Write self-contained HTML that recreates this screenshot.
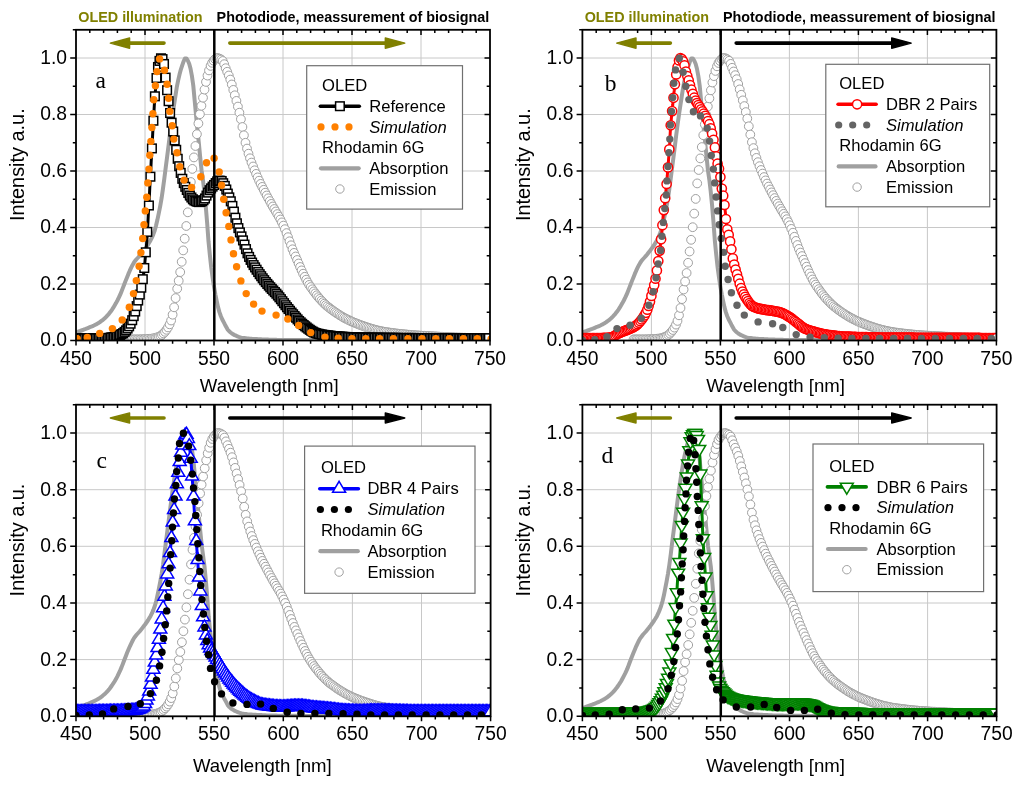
<!DOCTYPE html>
<html><head><meta charset="utf-8"><title>OLED DBR spectra</title>
<style>html,body{margin:0;padding:0;background:#fff;} svg{display:block;}</style></head>
<body>
<svg width="1024" height="785" viewBox="0 0 1024 785">
<rect width="1024" height="785" fill="#fff"/>
<clipPath id="clipa"><rect x="76.0" y="29.8" width="414.0" height="310.7"/></clipPath>
<line x1="145.0" y1="29.8" x2="145.0" y2="340.5" stroke="#c8c8c8" stroke-width="1"/>
<line x1="214.0" y1="29.8" x2="214.0" y2="340.5" stroke="#c8c8c8" stroke-width="1"/>
<line x1="283.0" y1="29.8" x2="283.0" y2="340.5" stroke="#c8c8c8" stroke-width="1"/>
<line x1="352.0" y1="29.8" x2="352.0" y2="340.5" stroke="#c8c8c8" stroke-width="1"/>
<line x1="421.0" y1="29.8" x2="421.0" y2="340.5" stroke="#c8c8c8" stroke-width="1"/>
<line x1="76.0" y1="284.0" x2="490.0" y2="284.0" stroke="#c8c8c8" stroke-width="1"/>
<line x1="76.0" y1="227.5" x2="490.0" y2="227.5" stroke="#c8c8c8" stroke-width="1"/>
<line x1="76.0" y1="171.0" x2="490.0" y2="171.0" stroke="#c8c8c8" stroke-width="1"/>
<line x1="76.0" y1="114.5" x2="490.0" y2="114.5" stroke="#c8c8c8" stroke-width="1"/>
<line x1="76.0" y1="58.0" x2="490.0" y2="58.0" stroke="#c8c8c8" stroke-width="1"/>
<g clip-path="url(#clipa)">
<path d="M76.0,332.3 L77.4,331.9 L78.8,331.4 L80.1,331.0 L81.5,330.5 L82.9,330.0 L84.3,329.4 L85.7,328.9 L87.0,328.4 L88.4,327.8 L89.8,327.2 L91.2,326.7 L92.6,326.1 L93.9,325.5 L95.3,324.8 L96.7,324.1 L98.1,323.3 L99.5,322.4 L100.8,321.4 L102.2,320.4 L103.6,319.2 L105.0,318.0 L106.4,316.6 L107.7,315.2 L109.1,313.6 L110.5,311.8 L111.9,309.8 L113.3,307.7 L114.6,305.5 L116.0,303.1 L117.4,300.5 L118.8,297.7 L120.2,294.7 L121.5,291.5 L122.9,287.9 L124.3,284.2 L125.7,280.6 L127.1,277.2 L128.4,273.9 L129.8,270.7 L131.2,267.7 L132.6,264.9 L134.0,262.5 L135.3,260.6 L136.7,259.0 L138.1,257.5 L139.5,255.9 L140.9,254.2 L142.2,252.5 L143.6,250.8 L145.0,248.9 L146.4,247.0 L147.8,245.0 L149.1,242.8 L150.5,240.4 L151.9,237.7 L153.3,234.4 L154.7,230.5 L156.0,225.7 L157.4,219.8 L158.8,213.2 L160.2,206.1 L161.6,198.2 L162.9,189.1 L164.3,178.8 L165.7,167.8 L167.1,156.9 L168.5,146.1 L169.8,135.2 L171.2,124.5 L172.6,114.5 L174.0,105.1 L175.4,96.1 L176.7,87.7 L178.1,80.6 L179.5,74.6 L180.9,69.3 L182.3,65.1 L183.6,61.3 L185.0,58.5 L186.4,58.4 L187.8,60.5 L189.2,63.7 L190.5,68.5 L191.9,75.9 L193.3,85.7 L194.7,100.9 L196.1,115.9 L197.4,129.4 L198.8,142.8 L200.2,157.2 L201.6,170.7 L203.0,180.3 L204.3,191.2 L205.7,205.5 L207.1,222.3 L208.5,241.3 L209.9,255.4 L211.2,267.2 L212.6,277.5 L214.0,286.6 L215.4,294.6 L216.8,301.4 L218.1,307.4 L219.5,312.4 L220.9,316.3 L222.3,319.5 L223.7,322.2 L225.0,324.7 L226.4,327.2 L227.8,329.7 L229.2,331.3 L230.6,332.5 L231.9,333.5 L233.3,334.4 L234.7,335.1 L236.1,335.7 L237.5,336.4 L238.8,336.9 L240.2,337.4 L241.6,337.7 L243.0,337.9 L244.4,338.1 L245.7,338.3 L247.1,338.5 L248.5,338.6 L249.9,338.7 L251.3,338.8 L252.6,338.9 L254.0,339.0 L255.4,339.0 L256.8,339.1 L258.2,339.2 L259.5,339.3 L260.9,339.3 L262.3,339.4 L263.7,339.4 L265.1,339.5 L266.4,339.6 L267.8,339.6 L269.2,339.7 L270.6,339.7 L272.0,339.7 L273.3,339.8 L274.7,339.8 L276.1,339.8 L277.5,339.9 L278.9,339.9 L280.2,339.9 L281.6,339.9 L283.0,339.9 L284.4,339.9 L285.8,340.0 L287.1,340.0 L288.5,340.0 L289.9,340.0 L291.3,340.0 L292.7,340.0 L294.0,340.0 L295.4,340.0 L296.8,340.0 L298.2,340.0 L299.6,340.0 L300.9,340.0 L302.3,340.1 L303.7,340.1 L305.1,340.1 L306.5,340.1 L307.8,340.1 L309.2,340.1 L310.6,340.1 L312.0,340.1 L313.4,340.1 L314.7,340.1 L316.1,340.1 L317.5,340.1 L318.9,340.1 L320.3,340.1 L321.6,340.2 L323.0,340.2 L324.4,340.2 L325.8,340.2 L327.2,340.2 L328.5,340.2 L329.9,340.2 L331.3,340.2 L332.7,340.2 L334.1,340.2 L335.4,340.2 L336.8,340.2 L338.2,340.2 L339.6,340.2 L341.0,340.2 L342.3,340.2 L343.7,340.2 L345.1,340.3 L346.5,340.3 L347.9,340.3 L349.2,340.3 L350.6,340.3 L352.0,340.3 L353.4,340.3 L354.8,340.3 L356.1,340.3 L357.5,340.3 L358.9,340.3 L360.3,340.3 L361.7,340.3 L363.0,340.3 L364.4,340.3 L365.8,340.3 L367.2,340.3 L368.6,340.3 L369.9,340.3 L371.3,340.3 L372.7,340.3 L374.1,340.4 L375.5,340.4 L376.8,340.4 L378.2,340.4 L379.6,340.4 L381.0,340.4 L382.4,340.4 L383.7,340.4 L385.1,340.4 L386.5,340.4 L387.9,340.4 L389.3,340.4 L390.6,340.4 L392.0,340.4 L393.4,340.4 L394.8,340.4 L396.2,340.4 L397.5,340.4 L398.9,340.4 L400.3,340.4 L401.7,340.4 L403.1,340.4 L404.4,340.4 L405.8,340.4 L407.2,340.4 L408.6,340.4 L410.0,340.4 L411.3,340.4 L412.7,340.4 L414.1,340.4 L415.5,340.4 L416.9,340.4 L418.2,340.4 L419.6,340.4 L421.0,340.5 L422.4,340.5 L423.8,340.5 L425.1,340.5 L426.5,340.5 L427.9,340.5 L429.3,340.5 L430.7,340.5 L432.0,340.5 L433.4,340.5 L434.8,340.5 L436.2,340.5 L437.6,340.5 L438.9,340.5 L440.3,340.5 L441.7,340.5 L443.1,340.5 L444.5,340.5 L445.8,340.5 L447.2,340.5 L448.6,340.5 L450.0,340.5 L451.4,340.5 L452.7,340.5 L454.1,340.5 L455.5,340.5 L456.9,340.5 L458.3,340.5 L459.6,340.5 L461.0,340.5 L462.4,340.5 L463.8,340.5 L465.2,340.5 L466.5,340.5 L467.9,340.5 L469.3,340.5 L470.7,340.5 L472.1,340.5 L473.4,340.5 L474.8,340.5 L476.2,340.5 L477.6,340.5 L479.0,340.5 L480.3,340.5 L481.7,340.5 L483.1,340.5 L484.5,340.5 L485.9,340.5 L487.2,340.5 L488.6,340.5 L490.0,340.5" fill="none" stroke="#a0a0a0" stroke-width="4" stroke-linejoin="round"/>
<g fill="#fff" stroke="#a0a0a0" stroke-width="1"><circle cx="127.1" cy="339.4" r="4.4"/><circle cx="128.6" cy="339.4" r="4.4"/><circle cx="130.1" cy="339.4" r="4.4"/><circle cx="131.6" cy="339.4" r="4.4"/><circle cx="133.1" cy="339.4" r="4.4"/><circle cx="134.7" cy="339.4" r="4.4"/><circle cx="136.2" cy="339.4" r="4.4"/><circle cx="137.7" cy="339.4" r="4.4"/><circle cx="139.2" cy="339.4" r="4.4"/><circle cx="140.7" cy="339.3" r="4.4"/><circle cx="142.2" cy="339.3" r="4.4"/><circle cx="143.8" cy="339.2" r="4.4"/><circle cx="145.3" cy="339.1" r="4.4"/><circle cx="146.8" cy="339.0" r="4.4"/><circle cx="148.3" cy="338.9" r="4.4"/><circle cx="149.8" cy="338.8" r="4.4"/><circle cx="151.3" cy="338.7" r="4.4"/><circle cx="152.9" cy="338.5" r="4.4"/><circle cx="154.4" cy="338.2" r="4.4"/><circle cx="155.9" cy="337.8" r="4.4"/><circle cx="157.4" cy="337.3" r="4.4"/><circle cx="158.9" cy="336.7" r="4.4"/><circle cx="160.5" cy="335.9" r="4.4"/><circle cx="162.0" cy="334.8" r="4.4"/><circle cx="163.5" cy="333.4" r="4.4"/><circle cx="165.0" cy="331.8" r="4.4"/><circle cx="166.5" cy="329.8" r="4.4"/><circle cx="168.0" cy="327.4" r="4.4"/><circle cx="169.6" cy="324.3" r="4.4"/><circle cx="171.1" cy="320.5" r="4.4"/><circle cx="172.6" cy="314.7" r="4.4"/><circle cx="174.1" cy="307.3" r="4.4"/><circle cx="175.6" cy="298.1" r="4.4"/><circle cx="177.2" cy="288.7" r="4.4"/><circle cx="178.7" cy="280.8" r="4.4"/><circle cx="180.2" cy="272.1" r="4.4"/><circle cx="181.7" cy="261.8" r="4.4"/><circle cx="183.2" cy="250.4" r="4.4"/><circle cx="184.7" cy="238.7" r="4.4"/><circle cx="186.3" cy="226.0" r="4.4"/><circle cx="187.8" cy="212.3" r="4.4"/><circle cx="189.3" cy="197.6" r="4.4"/><circle cx="190.8" cy="182.0" r="4.4"/><circle cx="192.3" cy="168.9" r="4.4"/><circle cx="193.9" cy="157.4" r="4.4"/><circle cx="195.4" cy="146.0" r="4.4"/><circle cx="196.9" cy="134.2" r="4.4"/><circle cx="198.4" cy="123.5" r="4.4"/><circle cx="199.9" cy="114.2" r="4.4"/><circle cx="201.4" cy="105.8" r="4.4"/><circle cx="203.0" cy="97.7" r="4.4"/><circle cx="204.5" cy="89.6" r="4.4"/><circle cx="206.0" cy="81.9" r="4.4"/><circle cx="207.5" cy="75.6" r="4.4"/><circle cx="209.0" cy="70.4" r="4.4"/><circle cx="210.6" cy="65.9" r="4.4"/><circle cx="212.1" cy="62.8" r="4.4"/><circle cx="213.6" cy="60.7" r="4.4"/><circle cx="215.1" cy="59.0" r="4.4"/><circle cx="216.6" cy="58.1" r="4.4"/><circle cx="218.1" cy="58.2" r="4.4"/><circle cx="219.7" cy="58.7" r="4.4"/><circle cx="221.2" cy="59.6" r="4.4"/><circle cx="222.7" cy="61.0" r="4.4"/><circle cx="224.2" cy="64.2" r="4.4"/><circle cx="225.7" cy="68.2" r="4.4"/><circle cx="227.2" cy="71.8" r="4.4"/><circle cx="228.8" cy="75.5" r="4.4"/><circle cx="230.3" cy="79.6" r="4.4"/><circle cx="231.8" cy="84.5" r="4.4"/><circle cx="233.3" cy="89.9" r="4.4"/><circle cx="234.8" cy="95.3" r="4.4"/><circle cx="236.4" cy="100.9" r="4.4"/><circle cx="237.9" cy="106.6" r="4.4"/><circle cx="239.4" cy="112.7" r="4.4"/><circle cx="240.9" cy="119.2" r="4.4"/><circle cx="242.4" cy="127.0" r="4.4"/><circle cx="243.9" cy="135.3" r="4.4"/><circle cx="245.5" cy="142.8" r="4.4"/><circle cx="247.0" cy="148.6" r="4.4"/><circle cx="248.5" cy="153.7" r="4.4"/><circle cx="250.0" cy="158.3" r="4.4"/><circle cx="251.5" cy="162.6" r="4.4"/><circle cx="253.1" cy="166.5" r="4.4"/><circle cx="254.6" cy="170.3" r="4.4"/><circle cx="256.1" cy="173.9" r="4.4"/><circle cx="257.6" cy="177.4" r="4.4"/><circle cx="259.1" cy="180.7" r="4.4"/><circle cx="260.6" cy="183.9" r="4.4"/><circle cx="262.2" cy="186.9" r="4.4"/><circle cx="263.7" cy="189.8" r="4.4"/><circle cx="265.2" cy="192.7" r="4.4"/><circle cx="266.7" cy="195.5" r="4.4"/><circle cx="268.2" cy="198.3" r="4.4"/><circle cx="269.8" cy="201.1" r="4.4"/><circle cx="271.3" cy="203.9" r="4.4"/><circle cx="272.8" cy="206.5" r="4.4"/><circle cx="274.3" cy="209.0" r="4.4"/><circle cx="275.8" cy="211.5" r="4.4"/><circle cx="277.3" cy="214.1" r="4.4"/><circle cx="278.9" cy="216.7" r="4.4"/><circle cx="280.4" cy="219.5" r="4.4"/><circle cx="281.9" cy="222.4" r="4.4"/><circle cx="283.4" cy="225.6" r="4.4"/><circle cx="284.9" cy="229.2" r="4.4"/><circle cx="286.5" cy="233.1" r="4.4"/><circle cx="288.0" cy="237.2" r="4.4"/><circle cx="289.5" cy="241.3" r="4.4"/><circle cx="291.0" cy="245.3" r="4.4"/><circle cx="292.5" cy="249.3" r="4.4"/><circle cx="294.0" cy="252.9" r="4.4"/><circle cx="295.6" cy="256.5" r="4.4"/><circle cx="297.1" cy="260.0" r="4.4"/><circle cx="298.6" cy="263.5" r="4.4"/><circle cx="300.1" cy="267.0" r="4.4"/><circle cx="301.6" cy="270.4" r="4.4"/><circle cx="303.1" cy="273.7" r="4.4"/><circle cx="304.7" cy="276.8" r="4.4"/><circle cx="306.2" cy="279.7" r="4.4"/><circle cx="307.7" cy="282.4" r="4.4"/><circle cx="309.2" cy="284.9" r="4.4"/><circle cx="310.7" cy="287.1" r="4.4"/><circle cx="312.3" cy="289.3" r="4.4"/><circle cx="313.8" cy="291.4" r="4.4"/><circle cx="315.3" cy="293.4" r="4.4"/><circle cx="316.8" cy="295.3" r="4.4"/><circle cx="318.3" cy="297.2" r="4.4"/><circle cx="319.8" cy="298.9" r="4.4"/><circle cx="321.4" cy="300.6" r="4.4"/><circle cx="322.9" cy="302.2" r="4.4"/><circle cx="324.4" cy="303.7" r="4.4"/><circle cx="325.9" cy="305.1" r="4.4"/><circle cx="327.4" cy="306.4" r="4.4"/><circle cx="329.0" cy="307.6" r="4.4"/><circle cx="330.5" cy="308.8" r="4.4"/><circle cx="332.0" cy="309.9" r="4.4"/><circle cx="333.5" cy="311.0" r="4.4"/><circle cx="335.0" cy="312.1" r="4.4"/><circle cx="336.5" cy="313.1" r="4.4"/><circle cx="338.1" cy="314.1" r="4.4"/><circle cx="339.6" cy="315.1" r="4.4"/><circle cx="341.1" cy="316.0" r="4.4"/><circle cx="342.6" cy="316.9" r="4.4"/><circle cx="344.1" cy="317.8" r="4.4"/><circle cx="345.7" cy="318.6" r="4.4"/><circle cx="347.2" cy="319.4" r="4.4"/><circle cx="348.7" cy="320.1" r="4.4"/><circle cx="350.2" cy="320.8" r="4.4"/><circle cx="351.7" cy="321.5" r="4.4"/><circle cx="353.2" cy="322.2" r="4.4"/><circle cx="354.8" cy="322.8" r="4.4"/><circle cx="356.3" cy="323.4" r="4.4"/><circle cx="357.8" cy="324.0" r="4.4"/><circle cx="359.3" cy="324.6" r="4.4"/><circle cx="360.8" cy="325.2" r="4.4"/><circle cx="362.4" cy="325.7" r="4.4"/><circle cx="363.9" cy="326.3" r="4.4"/><circle cx="365.4" cy="326.8" r="4.4"/><circle cx="366.9" cy="327.3" r="4.4"/><circle cx="368.4" cy="327.8" r="4.4"/><circle cx="369.9" cy="328.3" r="4.4"/><circle cx="371.5" cy="328.7" r="4.4"/><circle cx="373.0" cy="329.2" r="4.4"/><circle cx="374.5" cy="329.6" r="4.4"/><circle cx="376.0" cy="330.0" r="4.4"/><circle cx="377.5" cy="330.4" r="4.4"/><circle cx="379.0" cy="330.7" r="4.4"/><circle cx="380.6" cy="331.1" r="4.4"/><circle cx="382.1" cy="331.4" r="4.4"/><circle cx="383.6" cy="331.7" r="4.4"/><circle cx="385.1" cy="331.9" r="4.4"/><circle cx="386.6" cy="332.2" r="4.4"/><circle cx="388.2" cy="332.4" r="4.4"/><circle cx="389.7" cy="332.6" r="4.4"/><circle cx="391.2" cy="332.8" r="4.4"/><circle cx="392.7" cy="333.0" r="4.4"/><circle cx="394.2" cy="333.2" r="4.4"/><circle cx="395.7" cy="333.4" r="4.4"/><circle cx="397.3" cy="333.6" r="4.4"/><circle cx="398.8" cy="333.8" r="4.4"/><circle cx="400.3" cy="333.9" r="4.4"/><circle cx="401.8" cy="334.1" r="4.4"/><circle cx="403.3" cy="334.2" r="4.4"/><circle cx="404.9" cy="334.4" r="4.4"/><circle cx="406.4" cy="334.5" r="4.4"/><circle cx="407.9" cy="334.7" r="4.4"/><circle cx="409.4" cy="334.8" r="4.4"/><circle cx="410.9" cy="334.9" r="4.4"/><circle cx="412.4" cy="335.1" r="4.4"/><circle cx="414.0" cy="335.2" r="4.4"/><circle cx="415.5" cy="335.3" r="4.4"/><circle cx="417.0" cy="335.4" r="4.4"/><circle cx="418.5" cy="335.5" r="4.4"/><circle cx="420.0" cy="335.6" r="4.4"/><circle cx="421.6" cy="335.7" r="4.4"/><circle cx="423.1" cy="335.8" r="4.4"/><circle cx="424.6" cy="335.8" r="4.4"/><circle cx="426.1" cy="335.9" r="4.4"/><circle cx="427.6" cy="336.0" r="4.4"/><circle cx="429.1" cy="336.1" r="4.4"/><circle cx="430.7" cy="336.2" r="4.4"/><circle cx="432.2" cy="336.3" r="4.4"/><circle cx="433.7" cy="336.4" r="4.4"/><circle cx="435.2" cy="336.4" r="4.4"/><circle cx="436.7" cy="336.5" r="4.4"/><circle cx="438.3" cy="336.6" r="4.4"/><circle cx="439.8" cy="336.7" r="4.4"/><circle cx="441.3" cy="336.8" r="4.4"/><circle cx="442.8" cy="336.8" r="4.4"/><circle cx="444.3" cy="336.9" r="4.4"/><circle cx="445.8" cy="337.0" r="4.4"/><circle cx="447.4" cy="337.1" r="4.4"/><circle cx="448.9" cy="337.1" r="4.4"/><circle cx="450.4" cy="337.2" r="4.4"/><circle cx="451.9" cy="337.3" r="4.4"/><circle cx="453.4" cy="337.3" r="4.4"/><circle cx="454.9" cy="337.4" r="4.4"/><circle cx="456.5" cy="337.5" r="4.4"/><circle cx="458.0" cy="337.5" r="4.4"/><circle cx="459.5" cy="337.6" r="4.4"/><circle cx="461.0" cy="337.6" r="4.4"/><circle cx="462.5" cy="337.7" r="4.4"/><circle cx="464.1" cy="337.7" r="4.4"/><circle cx="465.6" cy="337.8" r="4.4"/><circle cx="467.1" cy="337.8" r="4.4"/><circle cx="468.6" cy="337.9" r="4.4"/><circle cx="470.1" cy="337.9" r="4.4"/><circle cx="471.6" cy="338.0" r="4.4"/><circle cx="473.2" cy="338.0" r="4.4"/><circle cx="474.7" cy="338.0" r="4.4"/><circle cx="476.2" cy="338.1" r="4.4"/><circle cx="477.7" cy="338.1" r="4.4"/><circle cx="479.2" cy="338.1" r="4.4"/><circle cx="480.8" cy="338.2" r="4.4"/><circle cx="482.3" cy="338.2" r="4.4"/><circle cx="483.8" cy="338.2" r="4.4"/><circle cx="485.3" cy="338.2" r="4.4"/><circle cx="486.8" cy="338.2" r="4.4"/><circle cx="488.3" cy="338.2" r="4.4"/><circle cx="489.9" cy="338.2" r="4.4"/></g>
<path d="M76.0,338.2 L76.3,338.2 L76.7,338.2 L77.0,338.2 L77.4,338.2 L77.7,338.2 L78.1,338.2 L78.4,338.2 L78.8,338.2 L79.1,338.2 L79.5,338.2 L79.8,338.2 L80.1,338.2 L80.5,338.2 L80.8,338.2 L81.2,338.2 L81.5,338.2 L81.9,338.2 L82.2,338.2 L82.6,338.2 L82.9,338.2 L83.2,338.2 L83.6,338.2 L83.9,338.2 L84.3,338.2 L84.6,338.2 L85.0,338.2 L85.3,338.2 L85.7,338.2 L86.0,338.2 L86.3,338.2 L86.7,338.2 L87.0,338.2 L87.4,338.2 L87.7,338.2 L88.1,338.2 L88.4,338.2 L88.8,338.2 L89.1,338.2 L89.5,338.2 L89.8,338.2 L90.1,338.2 L90.5,338.2 L90.8,338.2 L91.2,338.2 L91.5,338.2 L91.9,338.2 L92.2,338.2 L92.6,338.2 L92.9,338.2 L93.2,338.2 L93.6,338.2 L93.9,338.2 L94.3,338.2 L94.6,338.2 L95.0,338.2 L95.3,338.2 L95.7,338.2 L96.0,338.2 L96.4,338.2 L96.7,338.2 L97.0,338.2 L97.4,338.2 L97.7,338.2 L98.1,338.2 L98.4,338.2 L98.8,338.2 L99.1,338.2 L99.5,338.2 L99.8,338.2 L100.2,338.2 L100.5,338.2 L100.8,338.2 L101.2,338.2 L101.5,338.2 L101.9,338.2 L102.2,338.2 L102.6,338.2 L102.9,338.2 L103.3,338.2 L103.6,338.2 L103.9,338.2 L104.3,338.2 L104.6,338.2 L105.0,338.2 L105.3,338.2 L105.7,338.2 L106.0,338.2 L106.4,338.1 L106.7,338.1 L107.0,338.1 L107.4,338.0 L107.7,338.0 L108.1,337.9 L108.4,337.9 L108.8,337.9 L109.1,337.8 L109.5,337.8 L109.8,337.7 L110.2,337.7 L110.5,337.6 L110.8,337.5 L111.2,337.5 L111.5,337.4 L111.9,337.4 L112.2,337.3 L112.6,337.2 L112.9,337.2 L113.3,337.1 L113.6,337.0 L113.9,337.0 L114.3,336.9 L114.6,336.8 L115.0,336.8 L115.3,336.7 L115.7,336.6 L116.0,336.5 L116.4,336.4 L116.7,336.3 L117.1,336.2 L117.4,336.0 L117.7,335.9 L118.1,335.8 L118.4,335.6 L118.8,335.5 L119.1,335.3 L119.5,335.2 L119.8,335.0 L120.2,334.8 L120.5,334.7 L120.8,334.5 L121.2,334.3 L121.5,334.1 L121.9,333.9 L122.2,333.7 L122.6,333.5 L122.9,333.3 L123.3,333.0 L123.6,332.8 L124.0,332.5 L124.3,332.2 L124.6,331.9 L125.0,331.5 L125.3,331.2 L125.7,330.8 L126.0,330.4 L126.4,330.0 L126.7,329.6 L127.1,329.2 L127.4,328.7 L127.8,328.3 L128.1,327.8 L128.4,327.3 L128.8,326.8 L129.1,326.3 L129.5,325.7 L129.8,325.2 L130.2,324.6 L130.5,324.0 L130.9,323.3 L131.2,322.6 L131.5,321.8 L131.9,320.9 L132.2,320.1 L132.6,319.2 L132.9,318.2 L133.3,317.3 L133.6,316.3 L134.0,315.3 L134.3,314.3 L134.7,313.3 L135.0,312.2 L135.3,311.0 L135.7,309.8 L136.0,308.6 L136.4,307.4 L136.7,306.1 L137.1,304.8 L137.4,303.6 L137.8,302.3 L138.1,301.0 L138.4,299.8 L138.8,298.5 L139.1,297.1 L139.5,295.8 L139.8,294.3 L140.2,292.9 L140.5,291.3 L140.9,289.7 L141.2,288.0 L141.6,286.3 L141.9,284.4 L142.2,282.5 L142.6,280.5 L142.9,278.4 L143.3,276.1 L143.6,273.7 L144.0,271.0 L144.3,268.0 L144.7,264.6 L145.0,261.0 L145.3,257.3 L145.7,253.8 L146.0,250.2 L146.4,246.3 L146.7,242.0 L147.1,236.8 L147.4,230.6 L147.8,224.4 L148.1,218.6 L148.4,212.7 L148.8,206.7 L149.1,200.4 L149.5,193.8 L149.8,187.2 L150.2,180.7 L150.5,174.1 L150.9,167.6 L151.2,161.1 L151.6,154.7 L151.9,148.4 L152.2,142.2 L152.6,135.9 L152.9,129.5 L153.3,123.2 L153.6,117.1 L154.0,111.1 L154.3,105.5 L154.7,100.2 L155.0,95.4 L155.4,90.9 L155.7,86.6 L156.0,82.5 L156.4,78.7 L156.7,75.4 L157.1,72.6 L157.4,70.4 L157.8,68.2 L158.1,66.2 L158.5,64.5 L158.8,63.0 L159.1,61.8 L159.5,60.9 L159.8,60.2 L160.2,59.5 L160.5,58.9 L160.9,58.5 L161.2,58.2 L161.6,58.0 L161.9,58.2 L162.2,58.6 L162.6,59.2 L162.9,60.1 L163.3,61.1 L163.6,62.3 L164.0,63.7 L164.3,65.1 L164.7,67.4 L165.0,70.9 L165.4,75.1 L165.7,79.3 L166.0,82.9 L166.4,85.6 L166.7,88.0 L167.1,90.2 L167.4,92.4 L167.8,94.6 L168.1,97.1 L168.5,99.9 L168.8,103.1 L169.2,106.1 L169.5,108.7 L169.8,111.1 L170.2,113.5 L170.5,115.8 L170.9,118.0 L171.2,120.2 L171.6,122.3 L171.9,124.4 L172.3,126.4 L172.6,128.4 L172.9,130.3 L173.3,132.3 L173.6,134.3 L174.0,136.3 L174.3,138.4 L174.7,140.4 L175.0,142.4 L175.4,144.5 L175.7,146.6 L176.1,148.9 L176.4,151.1 L176.7,153.3 L177.1,155.4 L177.4,157.4 L177.8,159.2 L178.1,161.0 L178.5,162.6 L178.8,164.3 L179.2,165.9 L179.5,167.4 L179.8,169.0 L180.2,170.5 L180.5,172.0 L180.9,173.5 L181.2,175.0 L181.6,176.3 L181.9,177.6 L182.3,178.8 L182.6,179.9 L183.0,180.9 L183.3,181.8 L183.6,182.8 L184.0,183.7 L184.3,184.5 L184.7,185.3 L185.0,186.1 L185.4,186.9 L185.7,187.7 L186.1,188.4 L186.4,189.1 L186.7,189.8 L187.1,190.5 L187.4,191.2 L187.8,191.9 L188.1,192.5 L188.5,193.2 L188.8,193.8 L189.2,194.4 L189.5,194.9 L189.9,195.5 L190.2,196.0 L190.5,196.4 L190.9,196.9 L191.2,197.3 L191.6,197.8 L191.9,198.2 L192.3,198.6 L192.6,199.0 L193.0,199.4 L193.3,199.7 L193.6,200.0 L194.0,200.3 L194.3,200.5 L194.7,200.7 L195.0,200.8 L195.4,201.0 L195.7,201.1 L196.1,201.3 L196.4,201.4 L196.8,201.6 L197.1,201.7 L197.4,201.8 L197.8,201.9 L198.1,201.9 L198.5,202.0 L198.8,202.1 L199.2,202.1 L199.5,202.1 L199.9,202.1 L200.2,202.0 L200.5,201.9 L200.9,201.8 L201.2,201.7 L201.6,201.5 L201.9,201.3 L202.3,201.1 L202.6,200.9 L203.0,200.6 L203.3,200.4 L203.7,200.1 L204.0,199.8 L204.3,199.4 L204.7,199.0 L205.0,198.5 L205.4,197.9 L205.7,197.3 L206.1,196.6 L206.4,195.9 L206.8,195.2 L207.1,194.5 L207.4,193.8 L207.8,193.1 L208.1,192.5 L208.5,191.9 L208.8,191.3 L209.2,190.8 L209.5,190.3 L209.9,189.9 L210.2,189.4 L210.6,189.0 L210.9,188.6 L211.2,188.2 L211.6,187.8 L211.9,187.4 L212.3,187.0 L212.6,186.6 L213.0,186.3 L213.3,185.9 L213.7,185.5 L214.0,185.2 L214.3,184.8 L214.7,184.3 L215.0,183.9 L215.4,183.4 L215.7,183.0 L216.1,182.6 L216.4,182.2 L216.8,181.8 L217.1,181.5 L217.5,181.2 L217.8,181.0 L218.1,180.9 L218.5,180.9 L218.8,180.8 L219.2,180.8 L219.5,180.7 L219.9,180.7 L220.2,180.7 L220.6,180.6 L220.9,180.6 L221.2,180.7 L221.6,180.9 L221.9,181.2 L222.3,181.7 L222.6,182.2 L223.0,182.7 L223.3,183.3 L223.7,183.9 L224.0,184.5 L224.3,185.1 L224.7,185.7 L225.0,186.5 L225.4,187.3 L225.7,188.1 L226.1,189.0 L226.4,189.9 L226.8,190.8 L227.1,191.7 L227.5,192.7 L227.8,193.6 L228.1,194.5 L228.5,195.4 L228.8,196.2 L229.2,197.1 L229.5,197.9 L229.9,198.8 L230.2,199.6 L230.6,200.5 L230.9,201.5 L231.2,202.4 L231.6,203.4 L231.9,204.5 L232.3,205.7 L232.6,206.9 L233.0,208.2 L233.3,209.5 L233.7,210.8 L234.0,212.2 L234.4,213.5 L234.7,214.9 L235.0,216.3 L235.4,217.7 L235.7,219.0 L236.1,220.3 L236.4,221.6 L236.8,222.9 L237.1,224.0 L237.5,225.1 L237.8,226.2 L238.2,227.2 L238.5,228.3 L238.8,229.3 L239.2,230.3 L239.5,231.2 L239.9,232.2 L240.2,233.1 L240.6,234.0 L240.9,235.0 L241.3,235.9 L241.6,236.8 L241.9,237.7 L242.3,238.6 L242.6,239.5 L243.0,240.4 L243.3,241.4 L243.7,242.3 L244.0,243.2 L244.4,244.2 L244.7,245.2 L245.0,246.2 L245.4,247.2 L245.7,248.2 L246.1,249.3 L246.4,250.3 L246.8,251.2 L247.1,252.2 L247.5,253.1 L247.8,254.0 L248.2,254.9 L248.5,255.7 L248.8,256.5 L249.2,257.2 L249.5,257.9 L249.9,258.6 L250.2,259.3 L250.6,259.9 L250.9,260.6 L251.3,261.2 L251.6,261.8 L251.9,262.4 L252.3,263.0 L252.6,263.5 L253.0,264.1 L253.3,264.7 L253.7,265.2 L254.0,265.7 L254.4,266.3 L254.7,266.8 L255.1,267.3 L255.4,267.9 L255.7,268.4 L256.1,268.9 L256.4,269.4 L256.8,269.9 L257.1,270.5 L257.5,271.0 L257.8,271.5 L258.2,272.0 L258.5,272.5 L258.9,273.0 L259.2,273.5 L259.5,274.0 L259.9,274.4 L260.2,274.9 L260.6,275.4 L260.9,275.9 L261.3,276.3 L261.6,276.8 L262.0,277.3 L262.3,277.7 L262.6,278.2 L263.0,278.6 L263.3,279.1 L263.7,279.5 L264.0,279.9 L264.4,280.4 L264.7,280.8 L265.1,281.2 L265.4,281.7 L265.8,282.1 L266.1,282.5 L266.4,282.9 L266.8,283.3 L267.1,283.7 L267.5,284.1 L267.8,284.5 L268.2,284.9 L268.5,285.3 L268.9,285.7 L269.2,286.1 L269.5,286.5 L269.9,286.8 L270.2,287.2 L270.6,287.6 L270.9,287.9 L271.3,288.3 L271.6,288.7 L272.0,289.0 L272.3,289.4 L272.6,289.7 L273.0,290.1 L273.3,290.5 L273.7,290.8 L274.0,291.2 L274.4,291.6 L274.7,291.9 L275.1,292.3 L275.4,292.7 L275.8,293.0 L276.1,293.4 L276.4,293.8 L276.8,294.2 L277.1,294.6 L277.5,295.0 L277.8,295.4 L278.2,295.8 L278.5,296.2 L278.9,296.6 L279.2,297.1 L279.5,297.5 L279.9,297.9 L280.2,298.4 L280.6,298.8 L280.9,299.2 L281.3,299.7 L281.6,300.1 L282.0,300.6 L282.3,301.0 L282.7,301.5 L283.0,301.9 L283.3,302.4 L283.7,302.8 L284.0,303.3 L284.4,303.8 L284.7,304.2 L285.1,304.7 L285.4,305.1 L285.8,305.6 L286.1,306.0 L286.4,306.5 L286.8,306.9 L287.1,307.3 L287.5,307.8 L287.8,308.2 L288.2,308.6 L288.5,309.0 L288.9,309.5 L289.2,309.9 L289.6,310.3 L289.9,310.7 L290.2,311.1 L290.6,311.5 L290.9,311.9 L291.3,312.3 L291.6,312.7 L292.0,313.1 L292.3,313.5 L292.7,313.9 L293.0,314.3 L293.4,314.6 L293.7,315.0 L294.0,315.4 L294.4,315.8 L294.7,316.2 L295.1,316.6 L295.4,317.0 L295.8,317.4 L296.1,317.7 L296.5,318.1 L296.8,318.5 L297.1,318.9 L297.5,319.2 L297.8,319.6 L298.2,320.0 L298.5,320.3 L298.9,320.7 L299.2,321.0 L299.6,321.4 L299.9,321.7 L300.2,322.0 L300.6,322.4 L300.9,322.7 L301.3,323.0 L301.6,323.3 L302.0,323.6 L302.3,323.9 L302.7,324.2 L303.0,324.5 L303.4,324.8 L303.7,325.1 L304.0,325.3 L304.4,325.6 L304.7,325.9 L305.1,326.2 L305.4,326.5 L305.8,326.7 L306.1,327.0 L306.5,327.3 L306.8,327.5 L307.1,327.8 L307.5,328.1 L307.8,328.3 L308.2,328.6 L308.5,328.9 L308.9,329.1 L309.2,329.4 L309.6,329.6 L309.9,329.9 L310.3,330.1 L310.6,330.4 L310.9,330.6 L311.3,330.8 L311.6,331.0 L312.0,331.2 L312.3,331.5 L312.7,331.7 L313.0,331.8 L313.4,332.0 L313.7,332.2 L314.0,332.4 L314.4,332.6 L314.7,332.7 L315.1,332.9 L315.4,333.0 L315.8,333.1 L316.1,333.2 L316.5,333.3 L316.8,333.4 L317.2,333.5 L317.5,333.6 L317.8,333.7 L318.2,333.8 L318.5,333.9 L318.9,333.9 L319.2,334.0 L319.6,334.1 L319.9,334.2 L320.3,334.2 L320.6,334.3 L321.0,334.4 L321.3,334.4 L321.6,334.5 L322.0,334.6 L322.3,334.6 L322.7,334.7 L323.0,334.7 L323.4,334.8 L323.7,334.9 L324.1,334.9 L324.4,335.0 L324.7,335.0 L325.1,335.1 L325.4,335.1 L325.8,335.2 L326.1,335.2 L326.5,335.3 L326.8,335.3 L327.2,335.3 L327.5,335.4 L327.8,335.4 L328.2,335.5 L328.5,335.5 L328.9,335.5 L329.2,335.6 L329.6,335.6 L329.9,335.7 L330.3,335.7 L330.6,335.7 L331.0,335.8 L331.3,335.8 L331.6,335.9 L332.0,335.9 L332.3,335.9 L332.7,336.0 L333.0,336.0 L333.4,336.0 L333.7,336.1 L334.1,336.1 L334.4,336.1 L334.8,336.2 L335.1,336.2 L335.4,336.2 L335.8,336.3 L336.1,336.3 L336.5,336.3 L336.8,336.4 L337.2,336.4 L337.5,336.4 L337.9,336.4 L338.2,336.5 L338.5,336.5 L338.9,336.5 L339.2,336.5 L339.6,336.6 L339.9,336.6 L340.3,336.6 L340.6,336.6 L341.0,336.7 L341.3,336.7 L341.7,336.7 L342.0,336.7 L342.3,336.8 L342.7,336.8 L343.0,336.8 L343.4,336.8 L343.7,336.8 L344.1,336.9 L344.4,336.9 L344.8,336.9 L345.1,336.9 L345.4,336.9 L345.8,336.9 L346.1,337.0 L346.5,337.0 L346.8,337.0 L347.2,337.0 L347.5,337.0 L347.9,337.1 L348.2,337.1 L348.6,337.1 L348.9,337.1 L349.2,337.1 L349.6,337.1 L349.9,337.2 L350.3,337.2 L350.6,337.2 L351.0,337.2 L351.3,337.2 L351.7,337.2 L352.0,337.3 L352.3,337.3 L352.7,337.3 L353.0,337.3 L353.4,337.3 L353.7,337.3 L354.1,337.3 L354.4,337.4 L354.8,337.4 L355.1,337.4 L355.5,337.4 L355.8,337.4 L356.1,337.4 L356.5,337.4 L356.8,337.5 L357.2,337.5 L357.5,337.5 L357.9,337.5 L358.2,337.5 L358.6,337.5 L358.9,337.5 L359.2,337.5 L359.6,337.5 L359.9,337.6 L360.3,337.6 L360.6,337.6 L361.0,337.6 L361.3,337.6 L361.7,337.6 L362.0,337.6 L362.3,337.6 L362.7,337.6 L363.0,337.6 L363.4,337.6 L363.7,337.6 L364.1,337.7 L364.4,337.7 L364.8,337.7 L365.1,337.7 L365.5,337.7 L365.8,337.7 L366.1,337.7 L366.5,337.7 L366.8,337.7 L367.2,337.7 L367.5,337.7 L367.9,337.7 L368.2,337.7 L368.6,337.7 L368.9,337.7 L369.2,337.7 L369.6,337.7 L369.9,337.7 L370.3,337.7 L370.6,337.7 L371.0,337.7 L371.3,337.7 L371.7,337.7 L372.0,337.7 L372.4,337.7 L372.7,337.7 L373.0,337.7 L373.4,337.7 L373.7,337.8 L374.1,337.8 L374.4,337.8 L374.8,337.8 L375.1,337.8 L375.5,337.8 L375.8,337.8 L376.1,337.8 L376.5,337.8 L376.8,337.8 L377.2,337.8 L377.5,337.8 L377.9,337.8 L378.2,337.8 L378.6,337.8 L378.9,337.8 L379.3,337.8 L379.6,337.8 L379.9,337.8 L380.3,337.8 L380.6,337.8 L381.0,337.8 L381.3,337.8 L381.7,337.8 L382.0,337.8 L382.4,337.8 L382.7,337.8 L383.1,337.8 L383.4,337.8 L383.7,337.8 L384.1,337.8 L384.4,337.8 L384.8,337.8 L385.1,337.8 L385.5,337.9 L385.8,337.9 L386.2,337.9 L386.5,337.9 L386.8,337.9 L387.2,337.9 L387.5,337.9 L387.9,337.9 L388.2,337.9 L388.6,337.9 L388.9,337.9 L389.3,337.9 L389.6,337.9 L389.9,337.9 L390.3,337.9 L390.6,337.9 L391.0,337.9 L391.3,337.9 L391.7,337.9 L392.0,337.9 L392.4,337.9 L392.7,337.9 L393.1,337.9 L393.4,337.9 L393.7,337.9 L394.1,337.9 L394.4,337.9 L394.8,337.9 L395.1,337.9 L395.5,337.9 L395.8,337.9 L396.2,337.9 L396.5,337.9 L396.9,337.9 L397.2,337.9 L397.5,337.9 L397.9,337.9 L398.2,337.9 L398.6,337.9 L398.9,338.0 L399.3,338.0 L399.6,338.0 L400.0,338.0 L400.3,338.0 L400.6,338.0 L401.0,338.0 L401.3,338.0 L401.7,338.0 L402.0,338.0 L402.4,338.0 L402.7,338.0 L403.1,338.0 L403.4,338.0 L403.8,338.0 L404.1,338.0 L404.4,338.0 L404.8,338.0 L405.1,338.0 L405.5,338.0 L405.8,338.0 L406.2,338.0 L406.5,338.0 L406.9,338.0 L407.2,338.0 L407.5,338.0 L407.9,338.0 L408.2,338.0 L408.6,338.0 L408.9,338.0 L409.3,338.0 L409.6,338.0 L410.0,338.0 L410.3,338.0 L410.7,338.0 L411.0,338.0 L411.3,338.0 L411.7,338.0 L412.0,338.0 L412.4,338.0 L412.7,338.0 L413.1,338.0 L413.4,338.0 L413.8,338.0 L414.1,338.0 L414.4,338.0 L414.8,338.0 L415.1,338.1 L415.5,338.1 L415.8,338.1 L416.2,338.1 L416.5,338.1 L416.9,338.1 L417.2,338.1 L417.5,338.1 L417.9,338.1 L418.2,338.1 L418.6,338.1 L418.9,338.1 L419.3,338.1 L419.6,338.1 L420.0,338.1 L420.3,338.1 L420.7,338.1 L421.0,338.1 L421.3,338.1 L421.7,338.1 L422.0,338.1 L422.4,338.1 L422.7,338.1 L423.1,338.1 L423.4,338.1 L423.8,338.1 L424.1,338.1 L424.4,338.1 L424.8,338.1 L425.1,338.1 L425.5,338.1 L425.8,338.1 L426.2,338.1 L426.5,338.1 L426.9,338.1 L427.2,338.1 L427.6,338.1 L427.9,338.1 L428.2,338.1 L428.6,338.1 L428.9,338.1 L429.3,338.1 L429.6,338.1 L430.0,338.1 L430.3,338.1 L430.7,338.1 L431.0,338.1 L431.3,338.1 L431.7,338.1 L432.0,338.1 L432.4,338.1 L432.7,338.1 L433.1,338.1 L433.4,338.1 L433.8,338.1 L434.1,338.1 L434.5,338.1 L434.8,338.1 L435.1,338.1 L435.5,338.1 L435.8,338.1 L436.2,338.1 L436.5,338.1 L436.9,338.1 L437.2,338.1 L437.6,338.2 L437.9,338.2 L438.2,338.2 L438.6,338.2 L438.9,338.2 L439.3,338.2 L439.6,338.2 L440.0,338.2 L440.3,338.2 L440.7,338.2 L441.0,338.2 L441.4,338.2 L441.7,338.2 L442.0,338.2 L442.4,338.2 L442.7,338.2 L443.1,338.2 L443.4,338.2 L443.8,338.2 L444.1,338.2 L444.5,338.2 L444.8,338.2 L445.2,338.2 L445.5,338.2 L445.8,338.2 L446.2,338.2 L446.5,338.2 L446.9,338.2 L447.2,338.2 L447.6,338.2 L447.9,338.2 L448.3,338.2 L448.6,338.2 L448.9,338.2 L449.3,338.2 L449.6,338.2 L450.0,338.2 L450.3,338.2 L450.7,338.2 L451.0,338.2 L451.4,338.2 L451.7,338.2 L452.1,338.2 L452.4,338.2 L452.7,338.2 L453.1,338.2 L453.4,338.2 L453.8,338.2 L454.1,338.2 L454.5,338.2 L454.8,338.2 L455.2,338.2 L455.5,338.2 L455.8,338.2 L456.2,338.2 L456.5,338.2 L456.9,338.2 L457.2,338.2 L457.6,338.2 L457.9,338.2 L458.3,338.2 L458.6,338.2 L459.0,338.2 L459.3,338.2 L459.6,338.2 L460.0,338.2 L460.3,338.2 L460.7,338.2 L461.0,338.2 L461.4,338.2 L461.7,338.2 L462.1,338.2 L462.4,338.2 L462.7,338.2 L463.1,338.2 L463.4,338.2 L463.8,338.2 L464.1,338.2 L464.5,338.2 L464.8,338.2 L465.2,338.2 L465.5,338.2 L465.8,338.2 L466.2,338.2 L466.5,338.2 L466.9,338.2 L467.2,338.2 L467.6,338.2 L467.9,338.2 L468.3,338.2 L468.6,338.2 L469.0,338.2 L469.3,338.2 L469.6,338.2 L470.0,338.2 L470.3,338.2 L470.7,338.2 L471.0,338.2 L471.4,338.2 L471.7,338.2 L472.1,338.2 L472.4,338.2 L472.8,338.2 L473.1,338.2 L473.4,338.2 L473.8,338.2 L474.1,338.2 L474.5,338.2 L474.8,338.2 L475.2,338.2 L475.5,338.2 L475.9,338.2 L476.2,338.2 L476.5,338.2 L476.9,338.2 L477.2,338.2 L477.6,338.2 L477.9,338.2 L478.3,338.2 L478.6,338.2 L479.0,338.2 L479.3,338.2 L479.6,338.2 L480.0,338.2 L480.3,338.2 L480.7,338.2 L481.0,338.2 L481.4,338.2 L481.7,338.2 L482.1,338.2 L482.4,338.2 L482.8,338.2 L483.1,338.2 L483.4,338.2 L483.8,338.2 L484.1,338.2 L484.5,338.2 L484.8,338.2 L485.2,338.2 L485.5,338.2 L485.9,338.2 L486.2,338.2 L486.6,338.2 L486.9,338.2 L487.2,338.2 L487.6,338.2 L487.9,338.2 L488.3,338.2 L488.6,338.2 L489.0,338.2 L489.3,338.2 L489.7,338.2 L490.0,338.2" fill="none" stroke="#000" stroke-width="3.0" stroke-linejoin="round"/>
<g fill="#fff" stroke="#000" stroke-width="1.5"><rect x="71.7" y="333.9" width="8.6" height="8.6"/><rect x="73.2" y="333.9" width="8.6" height="8.6"/><rect x="74.7" y="333.9" width="8.6" height="8.6"/><rect x="76.3" y="333.9" width="8.6" height="8.6"/><rect x="77.8" y="333.9" width="8.6" height="8.6"/><rect x="79.3" y="333.9" width="8.6" height="8.6"/><rect x="80.8" y="333.9" width="8.6" height="8.6"/><rect x="82.3" y="333.9" width="8.6" height="8.6"/><rect x="83.8" y="333.9" width="8.6" height="8.6"/><rect x="85.4" y="333.9" width="8.6" height="8.6"/><rect x="86.9" y="333.9" width="8.6" height="8.6"/><rect x="88.4" y="333.9" width="8.6" height="8.6"/><rect x="89.9" y="333.9" width="8.6" height="8.6"/><rect x="91.4" y="333.9" width="8.6" height="8.6"/><rect x="93.0" y="333.9" width="8.6" height="8.6"/><rect x="94.5" y="333.9" width="8.6" height="8.6"/><rect x="96.0" y="333.9" width="8.6" height="8.6"/><rect x="97.5" y="333.9" width="8.6" height="8.6"/><rect x="99.0" y="333.9" width="8.6" height="8.6"/><rect x="100.5" y="333.9" width="8.6" height="8.6"/><rect x="102.1" y="333.8" width="8.6" height="8.6"/><rect x="103.6" y="333.7" width="8.6" height="8.6"/><rect x="105.1" y="333.5" width="8.6" height="8.6"/><rect x="106.6" y="333.2" width="8.6" height="8.6"/><rect x="108.1" y="333.0" width="8.6" height="8.6"/><rect x="109.7" y="332.7" width="8.6" height="8.6"/><rect x="111.2" y="332.3" width="8.6" height="8.6"/><rect x="112.7" y="331.9" width="8.6" height="8.6"/><rect x="114.2" y="331.3" width="8.6" height="8.6"/><rect x="115.7" y="330.6" width="8.6" height="8.6"/><rect x="117.2" y="329.8" width="8.6" height="8.6"/><rect x="118.8" y="328.9" width="8.6" height="8.6"/><rect x="120.3" y="327.6" width="8.6" height="8.6"/><rect x="121.8" y="326.1" width="8.6" height="8.6"/><rect x="123.3" y="324.2" width="8.6" height="8.6"/><rect x="124.8" y="322.0" width="8.6" height="8.6"/><rect x="126.3" y="319.4" width="8.6" height="8.6"/><rect x="127.9" y="315.9" width="8.6" height="8.6"/><rect x="129.4" y="311.8" width="8.6" height="8.6"/><rect x="130.9" y="307.2" width="8.6" height="8.6"/><rect x="132.4" y="301.8" width="8.6" height="8.6"/><rect x="133.9" y="296.2" width="8.6" height="8.6"/><rect x="135.5" y="290.3" width="8.6" height="8.6"/><rect x="137.0" y="283.4" width="8.6" height="8.6"/><rect x="138.5" y="274.9" width="8.6" height="8.6"/><rect x="140.0" y="263.7" width="8.6" height="8.6"/><rect x="141.5" y="248.0" width="8.6" height="8.6"/><rect x="143.0" y="227.6" width="8.6" height="8.6"/><rect x="144.6" y="201.2" width="8.6" height="8.6"/><rect x="146.1" y="172.4" width="8.6" height="8.6"/><rect x="147.6" y="144.1" width="8.6" height="8.6"/><rect x="149.1" y="116.4" width="8.6" height="8.6"/><rect x="150.6" y="92.0" width="8.6" height="8.6"/><rect x="152.2" y="73.7" width="8.6" height="8.6"/><rect x="153.7" y="62.7" width="8.6" height="8.6"/><rect x="155.2" y="56.6" width="8.6" height="8.6"/><rect x="156.7" y="54.0" width="8.6" height="8.6"/><rect x="158.2" y="54.8" width="8.6" height="8.6"/><rect x="159.7" y="59.7" width="8.6" height="8.6"/><rect x="161.3" y="73.3" width="8.6" height="8.6"/><rect x="162.8" y="85.9" width="8.6" height="8.6"/><rect x="164.3" y="96.9" width="8.6" height="8.6"/><rect x="165.8" y="108.7" width="8.6" height="8.6"/><rect x="167.3" y="118.4" width="8.6" height="8.6"/><rect x="168.9" y="127.2" width="8.6" height="8.6"/><rect x="170.4" y="136.1" width="8.6" height="8.6"/><rect x="171.9" y="145.5" width="8.6" height="8.6"/><rect x="173.4" y="154.5" width="8.6" height="8.6"/><rect x="174.9" y="161.9" width="8.6" height="8.6"/><rect x="176.4" y="168.6" width="8.6" height="8.6"/><rect x="178.0" y="174.5" width="8.6" height="8.6"/><rect x="179.5" y="178.8" width="8.6" height="8.6"/><rect x="181.0" y="182.5" width="8.6" height="8.6"/><rect x="182.5" y="185.7" width="8.6" height="8.6"/><rect x="184.0" y="188.6" width="8.6" height="8.6"/><rect x="185.6" y="191.2" width="8.6" height="8.6"/><rect x="187.1" y="193.2" width="8.6" height="8.6"/><rect x="188.6" y="195.0" width="8.6" height="8.6"/><rect x="190.1" y="196.2" width="8.6" height="8.6"/><rect x="191.6" y="196.9" width="8.6" height="8.6"/><rect x="193.1" y="197.5" width="8.6" height="8.6"/><rect x="194.7" y="197.8" width="8.6" height="8.6"/><rect x="196.2" y="197.6" width="8.6" height="8.6"/><rect x="197.7" y="196.9" width="8.6" height="8.6"/><rect x="199.2" y="195.9" width="8.6" height="8.6"/><rect x="200.7" y="194.2" width="8.6" height="8.6"/><rect x="202.2" y="191.3" width="8.6" height="8.6"/><rect x="203.8" y="188.3" width="8.6" height="8.6"/><rect x="205.3" y="185.9" width="8.6" height="8.6"/><rect x="206.8" y="184.1" width="8.6" height="8.6"/><rect x="208.3" y="182.3" width="8.6" height="8.6"/><rect x="209.8" y="180.7" width="8.6" height="8.6"/><rect x="211.4" y="178.8" width="8.6" height="8.6"/><rect x="212.9" y="177.1" width="8.6" height="8.6"/><rect x="214.4" y="176.5" width="8.6" height="8.6"/><rect x="215.9" y="176.4" width="8.6" height="8.6"/><rect x="217.4" y="176.7" width="8.6" height="8.6"/><rect x="218.9" y="178.9" width="8.6" height="8.6"/><rect x="220.5" y="181.6" width="8.6" height="8.6"/><rect x="222.0" y="185.2" width="8.6" height="8.6"/><rect x="223.5" y="189.3" width="8.6" height="8.6"/><rect x="225.0" y="193.1" width="8.6" height="8.6"/><rect x="226.5" y="197.0" width="8.6" height="8.6"/><rect x="228.1" y="201.6" width="8.6" height="8.6"/><rect x="229.6" y="207.3" width="8.6" height="8.6"/><rect x="231.1" y="213.4" width="8.6" height="8.6"/><rect x="232.6" y="219.0" width="8.6" height="8.6"/><rect x="234.1" y="223.8" width="8.6" height="8.6"/><rect x="235.6" y="228.1" width="8.6" height="8.6"/><rect x="237.2" y="232.1" width="8.6" height="8.6"/><rect x="238.7" y="236.1" width="8.6" height="8.6"/><rect x="240.2" y="240.3" width="8.6" height="8.6"/><rect x="241.7" y="244.8" width="8.6" height="8.6"/><rect x="243.2" y="249.0" width="8.6" height="8.6"/><rect x="244.8" y="252.6" width="8.6" height="8.6"/><rect x="246.3" y="255.6" width="8.6" height="8.6"/><rect x="247.8" y="258.3" width="8.6" height="8.6"/><rect x="249.3" y="260.8" width="8.6" height="8.6"/><rect x="250.8" y="263.1" width="8.6" height="8.6"/><rect x="252.3" y="265.4" width="8.6" height="8.6"/><rect x="253.9" y="267.7" width="8.6" height="8.6"/><rect x="255.4" y="269.9" width="8.6" height="8.6"/><rect x="256.9" y="271.9" width="8.6" height="8.6"/><rect x="258.4" y="274.0" width="8.6" height="8.6"/><rect x="259.9" y="275.9" width="8.6" height="8.6"/><rect x="261.5" y="277.8" width="8.6" height="8.6"/><rect x="263.0" y="279.6" width="8.6" height="8.6"/><rect x="264.5" y="281.3" width="8.6" height="8.6"/><rect x="266.0" y="283.0" width="8.6" height="8.6"/><rect x="267.5" y="284.6" width="8.6" height="8.6"/><rect x="269.0" y="286.2" width="8.6" height="8.6"/><rect x="270.6" y="287.8" width="8.6" height="8.6"/><rect x="272.1" y="289.4" width="8.6" height="8.6"/><rect x="273.6" y="291.2" width="8.6" height="8.6"/><rect x="275.1" y="293.0" width="8.6" height="8.6"/><rect x="276.6" y="294.9" width="8.6" height="8.6"/><rect x="278.1" y="296.9" width="8.6" height="8.6"/><rect x="279.7" y="298.9" width="8.6" height="8.6"/><rect x="281.2" y="300.9" width="8.6" height="8.6"/><rect x="282.7" y="302.9" width="8.6" height="8.6"/><rect x="284.2" y="304.7" width="8.6" height="8.6"/><rect x="285.7" y="306.5" width="8.6" height="8.6"/><rect x="287.3" y="308.3" width="8.6" height="8.6"/><rect x="288.8" y="310.0" width="8.6" height="8.6"/><rect x="290.3" y="311.8" width="8.6" height="8.6"/><rect x="291.8" y="313.4" width="8.6" height="8.6"/><rect x="293.3" y="315.1" width="8.6" height="8.6"/><rect x="294.8" y="316.7" width="8.6" height="8.6"/><rect x="296.4" y="318.1" width="8.6" height="8.6"/><rect x="297.9" y="319.5" width="8.6" height="8.6"/><rect x="299.4" y="320.8" width="8.6" height="8.6"/><rect x="300.9" y="322.0" width="8.6" height="8.6"/><rect x="302.4" y="323.2" width="8.6" height="8.6"/><rect x="304.0" y="324.4" width="8.6" height="8.6"/><rect x="305.5" y="325.5" width="8.6" height="8.6"/><rect x="307.0" y="326.5" width="8.6" height="8.6"/><rect x="308.5" y="327.4" width="8.6" height="8.6"/><rect x="310.0" y="328.2" width="8.6" height="8.6"/><rect x="311.5" y="328.8" width="8.6" height="8.6"/><rect x="313.1" y="329.3" width="8.6" height="8.6"/><rect x="314.6" y="329.6" width="8.6" height="8.6"/><rect x="316.1" y="330.0" width="8.6" height="8.6"/><rect x="317.6" y="330.3" width="8.6" height="8.6"/><rect x="319.1" y="330.5" width="8.6" height="8.6"/><rect x="320.7" y="330.7" width="8.6" height="8.6"/><rect x="322.2" y="331.0" width="8.6" height="8.6"/><rect x="323.7" y="331.1" width="8.6" height="8.6"/><rect x="325.2" y="331.3" width="8.6" height="8.6"/><rect x="326.7" y="331.5" width="8.6" height="8.6"/><rect x="328.2" y="331.7" width="8.6" height="8.6"/><rect x="329.8" y="331.8" width="8.6" height="8.6"/><rect x="331.3" y="331.9" width="8.6" height="8.6"/><rect x="332.8" y="332.1" width="8.6" height="8.6"/><rect x="334.3" y="332.2" width="8.6" height="8.6"/><rect x="335.8" y="332.3" width="8.6" height="8.6"/><rect x="337.4" y="332.4" width="8.6" height="8.6"/><rect x="338.9" y="332.5" width="8.6" height="8.6"/><rect x="340.4" y="332.6" width="8.6" height="8.6"/><rect x="341.9" y="332.7" width="8.6" height="8.6"/><rect x="343.4" y="332.7" width="8.6" height="8.6"/><rect x="344.9" y="332.8" width="8.6" height="8.6"/><rect x="346.5" y="332.9" width="8.6" height="8.6"/><rect x="348.0" y="333.0" width="8.6" height="8.6"/><rect x="349.5" y="333.0" width="8.6" height="8.6"/><rect x="351.0" y="333.1" width="8.6" height="8.6"/><rect x="352.5" y="333.2" width="8.6" height="8.6"/><rect x="354.0" y="333.2" width="8.6" height="8.6"/><rect x="355.6" y="333.3" width="8.6" height="8.6"/><rect x="357.1" y="333.3" width="8.6" height="8.6"/><rect x="358.6" y="333.3" width="8.6" height="8.6"/><rect x="360.1" y="333.4" width="8.6" height="8.6"/><rect x="361.6" y="333.4" width="8.6" height="8.6"/><rect x="363.2" y="333.4" width="8.6" height="8.6"/><rect x="364.7" y="333.4" width="8.6" height="8.6"/><rect x="366.2" y="333.4" width="8.6" height="8.6"/><rect x="367.7" y="333.4" width="8.6" height="8.6"/><rect x="369.2" y="333.4" width="8.6" height="8.6"/><rect x="370.7" y="333.5" width="8.6" height="8.6"/><rect x="372.3" y="333.5" width="8.6" height="8.6"/><rect x="373.8" y="333.5" width="8.6" height="8.6"/><rect x="375.3" y="333.5" width="8.6" height="8.6"/><rect x="376.8" y="333.5" width="8.6" height="8.6"/><rect x="378.3" y="333.5" width="8.6" height="8.6"/><rect x="379.9" y="333.5" width="8.6" height="8.6"/><rect x="381.4" y="333.6" width="8.6" height="8.6"/><rect x="382.9" y="333.6" width="8.6" height="8.6"/><rect x="384.4" y="333.6" width="8.6" height="8.6"/><rect x="385.9" y="333.6" width="8.6" height="8.6"/><rect x="387.4" y="333.6" width="8.6" height="8.6"/><rect x="389.0" y="333.6" width="8.6" height="8.6"/><rect x="390.5" y="333.6" width="8.6" height="8.6"/><rect x="392.0" y="333.6" width="8.6" height="8.6"/><rect x="393.5" y="333.6" width="8.6" height="8.6"/><rect x="395.0" y="333.7" width="8.6" height="8.6"/><rect x="396.6" y="333.7" width="8.6" height="8.6"/><rect x="398.1" y="333.7" width="8.6" height="8.6"/><rect x="399.6" y="333.7" width="8.6" height="8.6"/><rect x="401.1" y="333.7" width="8.6" height="8.6"/><rect x="402.6" y="333.7" width="8.6" height="8.6"/><rect x="404.1" y="333.7" width="8.6" height="8.6"/><rect x="405.7" y="333.7" width="8.6" height="8.6"/><rect x="407.2" y="333.7" width="8.6" height="8.6"/><rect x="408.7" y="333.7" width="8.6" height="8.6"/><rect x="410.2" y="333.7" width="8.6" height="8.6"/><rect x="411.7" y="333.8" width="8.6" height="8.6"/><rect x="413.3" y="333.8" width="8.6" height="8.6"/><rect x="414.8" y="333.8" width="8.6" height="8.6"/><rect x="416.3" y="333.8" width="8.6" height="8.6"/><rect x="417.8" y="333.8" width="8.6" height="8.6"/><rect x="419.3" y="333.8" width="8.6" height="8.6"/><rect x="420.8" y="333.8" width="8.6" height="8.6"/><rect x="422.4" y="333.8" width="8.6" height="8.6"/><rect x="423.9" y="333.8" width="8.6" height="8.6"/><rect x="425.4" y="333.8" width="8.6" height="8.6"/><rect x="426.9" y="333.8" width="8.6" height="8.6"/><rect x="428.4" y="333.8" width="8.6" height="8.6"/><rect x="429.9" y="333.8" width="8.6" height="8.6"/><rect x="431.5" y="333.8" width="8.6" height="8.6"/><rect x="433.0" y="333.8" width="8.6" height="8.6"/><rect x="434.5" y="333.9" width="8.6" height="8.6"/><rect x="436.0" y="333.9" width="8.6" height="8.6"/><rect x="437.5" y="333.9" width="8.6" height="8.6"/><rect x="439.1" y="333.9" width="8.6" height="8.6"/><rect x="440.6" y="333.9" width="8.6" height="8.6"/><rect x="442.1" y="333.9" width="8.6" height="8.6"/><rect x="443.6" y="333.9" width="8.6" height="8.6"/><rect x="445.1" y="333.9" width="8.6" height="8.6"/><rect x="446.6" y="333.9" width="8.6" height="8.6"/><rect x="448.2" y="333.9" width="8.6" height="8.6"/><rect x="449.7" y="333.9" width="8.6" height="8.6"/><rect x="451.2" y="333.9" width="8.6" height="8.6"/><rect x="452.7" y="333.9" width="8.6" height="8.6"/><rect x="454.2" y="333.9" width="8.6" height="8.6"/><rect x="455.8" y="333.9" width="8.6" height="8.6"/><rect x="457.3" y="333.9" width="8.6" height="8.6"/><rect x="458.8" y="333.9" width="8.6" height="8.6"/><rect x="460.3" y="333.9" width="8.6" height="8.6"/><rect x="461.8" y="333.9" width="8.6" height="8.6"/><rect x="463.3" y="333.9" width="8.6" height="8.6"/><rect x="464.9" y="333.9" width="8.6" height="8.6"/><rect x="466.4" y="333.9" width="8.6" height="8.6"/><rect x="467.9" y="333.9" width="8.6" height="8.6"/><rect x="469.4" y="333.9" width="8.6" height="8.6"/><rect x="470.9" y="333.9" width="8.6" height="8.6"/><rect x="472.5" y="333.9" width="8.6" height="8.6"/><rect x="474.0" y="333.9" width="8.6" height="8.6"/><rect x="475.5" y="333.9" width="8.6" height="8.6"/><rect x="477.0" y="333.9" width="8.6" height="8.6"/><rect x="478.5" y="333.9" width="8.6" height="8.6"/><rect x="480.0" y="333.9" width="8.6" height="8.6"/><rect x="481.6" y="333.9" width="8.6" height="8.6"/><rect x="483.1" y="333.9" width="8.6" height="8.6"/><rect x="484.6" y="333.9" width="8.6" height="8.6"/></g>
<g fill="#ff8000"><circle cx="77.2" cy="338.8" r="3.7"/><circle cx="87.3" cy="337.4" r="3.7"/><circle cx="99.7" cy="333.4" r="3.7"/><circle cx="112.4" cy="328.6" r="3.7"/><circle cx="122.2" cy="319.9" r="3.7"/><circle cx="129.3" cy="307.2" r="3.7"/><circle cx="133.5" cy="293.6" r="3.7"/><circle cx="136.3" cy="280.6" r="3.7"/><circle cx="139.1" cy="266.2" r="3.7"/><circle cx="140.9" cy="252.7" r="3.7"/><circle cx="142.7" cy="238.5" r="3.7"/><circle cx="144.0" cy="224.7" r="3.7"/><circle cx="145.3" cy="210.9" r="3.7"/><circle cx="146.8" cy="197.3" r="3.7"/><circle cx="147.8" cy="182.9" r="3.7"/><circle cx="148.9" cy="169.1" r="3.7"/><circle cx="149.8" cy="155.2" r="3.7"/><circle cx="150.9" cy="141.4" r="3.7"/><circle cx="151.9" cy="127.5" r="3.7"/><circle cx="152.9" cy="113.7" r="3.7"/><circle cx="153.8" cy="99.8" r="3.7"/><circle cx="155.4" cy="85.7" r="3.7"/><circle cx="157.0" cy="71.6" r="3.7"/><circle cx="159.6" cy="58.9" r="3.7"/><circle cx="164.5" cy="70.2" r="3.7"/><circle cx="167.1" cy="84.3" r="3.7"/><circle cx="168.6" cy="98.2" r="3.7"/><circle cx="169.8" cy="111.4" r="3.7"/><circle cx="172.2" cy="125.8" r="3.7"/><circle cx="173.8" cy="139.1" r="3.7"/><circle cx="177.0" cy="152.7" r="3.7"/><circle cx="179.8" cy="166.8" r="3.7"/><circle cx="184.1" cy="180.1" r="3.7"/><circle cx="191.6" cy="187.4" r="3.7"/><circle cx="200.8" cy="176.7" r="3.7"/><circle cx="206.5" cy="162.8" r="3.7"/><circle cx="214.1" cy="158.3" r="3.7"/><circle cx="219.2" cy="171.9" r="3.7"/><circle cx="221.6" cy="185.2" r="3.7"/><circle cx="223.7" cy="199.3" r="3.7"/><circle cx="226.1" cy="212.8" r="3.7"/><circle cx="228.8" cy="226.4" r="3.7"/><circle cx="231.0" cy="239.9" r="3.7"/><circle cx="233.5" cy="253.8" r="3.7"/><circle cx="236.6" cy="266.8" r="3.7"/><circle cx="240.9" cy="280.9" r="3.7"/><circle cx="246.2" cy="293.6" r="3.7"/><circle cx="253.6" cy="304.1" r="3.7"/><circle cx="262.0" cy="311.1" r="3.7"/><circle cx="276.1" cy="315.1" r="3.7"/><circle cx="287.8" cy="319.0" r="3.7"/><circle cx="298.7" cy="325.5" r="3.7"/><circle cx="310.7" cy="332.6" r="3.7"/><circle cx="325.0" cy="337.1" r="3.7"/><circle cx="338.2" cy="338.2" r="3.7"/><circle cx="352.0" cy="338.8" r="3.7"/><circle cx="365.8" cy="338.8" r="3.7"/><circle cx="379.6" cy="338.8" r="3.7"/><circle cx="393.4" cy="338.8" r="3.7"/><circle cx="407.9" cy="338.8" r="3.7"/><circle cx="422.0" cy="338.8" r="3.7"/><circle cx="435.8" cy="338.8" r="3.7"/><circle cx="449.4" cy="338.8" r="3.7"/><circle cx="463.4" cy="338.8" r="3.7"/><circle cx="477.3" cy="338.8" r="3.7"/><circle cx="491.1" cy="338.8" r="3.7"/></g>
</g>
<line x1="214.3" y1="29.8" x2="214.3" y2="340.5" stroke="#000" stroke-width="2.5"/>
<line x1="129.6" y1="43.1" x2="164.0" y2="43.1" stroke="#808000" stroke-width="3.6" stroke-linecap="round"/>
<path d="M110.3,43.1 L129.6,38.0 L129.6,48.2 Z" fill="#808000" stroke="#808000" stroke-width="1.4" stroke-linejoin="round"/>
<line x1="229.8" y1="43.1" x2="385.3" y2="43.1" stroke="#808000" stroke-width="3.6" stroke-linecap="round"/>
<path d="M404.8,43.1 L385.3,38.0 L385.3,48.2 Z" fill="#808000" stroke="#808000" stroke-width="1.4" stroke-linejoin="round"/>
<rect x="306.7" y="65.7" width="155.8" height="143.4" fill="#fff" stroke="#707070" stroke-width="1.2"/>
<g font-family="Liberation Sans, Arial, sans-serif" font-size="16.6" fill="#000">
<text x="322.0" y="91.1">OLED</text>
<text x="369.2" y="111.8">Reference</text>
<text x="369.2" y="132.5" font-style="italic">Simulation</text>
<text x="322.0" y="153.2">Rhodamin 6G</text>
<text x="369.2" y="173.9">Absorption</text>
<text x="369.2" y="194.6">Emission</text>
</g>
<line x1="320.4" y1="106.2" x2="359.3" y2="106.2" stroke="#000" stroke-width="3.6" stroke-linecap="round"/>
<g fill="#fff" stroke="#000" stroke-width="1.5"><rect x="335.6" y="101.9" width="8.6" height="8.6"/></g>
<circle cx="321.0" cy="126.9" r="3.6" fill="#ff8000"/>
<circle cx="335.0" cy="126.9" r="3.6" fill="#ff8000"/>
<circle cx="349.0" cy="126.9" r="3.6" fill="#ff8000"/>
<line x1="321.0" y1="168.3" x2="358.7" y2="168.3" stroke="#a0a0a0" stroke-width="4.2" stroke-linecap="round"/>
<circle cx="339.9" cy="189.0" r="4.2" fill="#fff" stroke="#a0a0a0" stroke-width="1"/>
<text x="95.5" y="87.6" font-family="Liberation Serif, serif" font-size="23.5" fill="#000">a</text>
<rect x="76.0" y="29.8" width="414.0" height="310.7" fill="none" stroke="#000" stroke-width="1.8"/>
<path d="M76.0,340.5 v5.0 M89.8,340.5 v3.2 M89.8,29.8 v3.3 M103.6,340.5 v3.2 M103.6,29.8 v3.3 M117.4,340.5 v3.2 M117.4,29.8 v3.3 M131.2,340.5 v3.2 M131.2,29.8 v3.3 M145.0,340.5 v5.0 M145.0,29.8 v5.2 M158.8,340.5 v3.2 M158.8,29.8 v3.3 M172.6,340.5 v3.2 M172.6,29.8 v3.3 M186.4,340.5 v3.2 M186.4,29.8 v3.3 M200.2,340.5 v3.2 M200.2,29.8 v3.3 M214.0,340.5 v5.0 M214.0,29.8 v5.2 M227.8,340.5 v3.2 M227.8,29.8 v3.3 M241.6,340.5 v3.2 M241.6,29.8 v3.3 M255.4,340.5 v3.2 M255.4,29.8 v3.3 M269.2,340.5 v3.2 M269.2,29.8 v3.3 M283.0,340.5 v5.0 M283.0,29.8 v5.2 M296.8,340.5 v3.2 M296.8,29.8 v3.3 M310.6,340.5 v3.2 M310.6,29.8 v3.3 M324.4,340.5 v3.2 M324.4,29.8 v3.3 M338.2,340.5 v3.2 M338.2,29.8 v3.3 M352.0,340.5 v5.0 M352.0,29.8 v5.2 M365.8,340.5 v3.2 M365.8,29.8 v3.3 M379.6,340.5 v3.2 M379.6,29.8 v3.3 M393.4,340.5 v3.2 M393.4,29.8 v3.3 M407.2,340.5 v3.2 M407.2,29.8 v3.3 M421.0,340.5 v5.0 M421.0,29.8 v5.2 M434.8,340.5 v3.2 M434.8,29.8 v3.3 M448.6,340.5 v3.2 M448.6,29.8 v3.3 M462.4,340.5 v3.2 M462.4,29.8 v3.3 M476.2,340.5 v3.2 M476.2,29.8 v3.3 M490.0,340.5 v5.0 M76.0,340.5 h-5.8 M76.0,312.3 h-3.2 M490.0,312.3 h-3.3 M76.0,284.0 h-5.8 M490.0,284.0 h-5.5 M76.0,255.8 h-3.2 M490.0,255.8 h-3.3 M76.0,227.5 h-5.8 M490.0,227.5 h-5.5 M76.0,199.3 h-3.2 M490.0,199.3 h-3.3 M76.0,171.0 h-5.8 M490.0,171.0 h-5.5 M76.0,142.8 h-3.2 M490.0,142.8 h-3.3 M76.0,114.5 h-5.8 M490.0,114.5 h-5.5 M76.0,86.3 h-3.2 M490.0,86.3 h-3.3 M76.0,58.0 h-5.8 M490.0,58.0 h-5.5 M76.0,29.8 h-3.2" stroke="#000" stroke-width="1.5" fill="none"/>
<g font-family="Liberation Sans, Arial, sans-serif" font-size="19.3" fill="#000"><text x="76.0" y="365.1" text-anchor="middle">450</text><text x="145.0" y="365.1" text-anchor="middle">500</text><text x="214.0" y="365.1" text-anchor="middle">550</text><text x="283.0" y="365.1" text-anchor="middle">600</text><text x="352.0" y="365.1" text-anchor="middle">650</text><text x="421.0" y="365.1" text-anchor="middle">700</text><text x="490.0" y="365.1" text-anchor="middle">750</text><text x="67.0" y="346.4" text-anchor="end">0.0</text><text x="67.0" y="289.9" text-anchor="end">0.2</text><text x="67.0" y="233.4" text-anchor="end">0.4</text><text x="67.0" y="176.9" text-anchor="end">0.6</text><text x="67.0" y="120.4" text-anchor="end">0.8</text><text x="67.0" y="63.9" text-anchor="end">1.0</text></g>
<text x="269.2" y="392.1" text-anchor="middle" font-family="Liberation Sans, Arial, sans-serif" font-size="18.6" fill="#000">Wavelength [nm]</text>
<text transform="translate(23.7,164.7) rotate(-90)" text-anchor="middle" font-family="Liberation Sans, Arial, sans-serif" font-size="19.9" fill="#000">Intensity a.u.</text>
<g font-family="Liberation Sans, Arial, sans-serif" font-weight="bold" font-size="14.35"><text x="78.3" y="21.6" fill="#808000">OLED illumination</text><text x="216.6" y="21.6" fill="#000">Photodiode, meassurement of biosignal</text></g>
<clipPath id="clipb"><rect x="582.4" y="29.8" width="414.0" height="310.7"/></clipPath>
<line x1="651.4" y1="29.8" x2="651.4" y2="340.5" stroke="#c8c8c8" stroke-width="1"/>
<line x1="720.4" y1="29.8" x2="720.4" y2="340.5" stroke="#c8c8c8" stroke-width="1"/>
<line x1="789.4" y1="29.8" x2="789.4" y2="340.5" stroke="#c8c8c8" stroke-width="1"/>
<line x1="858.4" y1="29.8" x2="858.4" y2="340.5" stroke="#c8c8c8" stroke-width="1"/>
<line x1="927.4" y1="29.8" x2="927.4" y2="340.5" stroke="#c8c8c8" stroke-width="1"/>
<line x1="582.4" y1="284.0" x2="996.4" y2="284.0" stroke="#c8c8c8" stroke-width="1"/>
<line x1="582.4" y1="227.5" x2="996.4" y2="227.5" stroke="#c8c8c8" stroke-width="1"/>
<line x1="582.4" y1="171.0" x2="996.4" y2="171.0" stroke="#c8c8c8" stroke-width="1"/>
<line x1="582.4" y1="114.5" x2="996.4" y2="114.5" stroke="#c8c8c8" stroke-width="1"/>
<line x1="582.4" y1="58.0" x2="996.4" y2="58.0" stroke="#c8c8c8" stroke-width="1"/>
<g clip-path="url(#clipb)">
<path d="M582.4,332.3 L583.8,331.9 L585.2,331.4 L586.5,331.0 L587.9,330.5 L589.3,330.0 L590.7,329.4 L592.1,328.9 L593.4,328.4 L594.8,327.8 L596.2,327.2 L597.6,326.7 L599.0,326.1 L600.3,325.5 L601.7,324.8 L603.1,324.1 L604.5,323.3 L605.9,322.4 L607.2,321.4 L608.6,320.4 L610.0,319.2 L611.4,318.0 L612.8,316.6 L614.1,315.2 L615.5,313.6 L616.9,311.8 L618.3,309.8 L619.7,307.7 L621.0,305.5 L622.4,303.1 L623.8,300.5 L625.2,297.7 L626.6,294.7 L627.9,291.5 L629.3,287.9 L630.7,284.2 L632.1,280.6 L633.5,277.2 L634.8,273.9 L636.2,270.7 L637.6,267.7 L639.0,264.9 L640.4,262.5 L641.7,260.6 L643.1,259.0 L644.5,257.5 L645.9,255.9 L647.3,254.2 L648.6,252.5 L650.0,250.8 L651.4,248.9 L652.8,247.0 L654.2,245.0 L655.5,242.8 L656.9,240.4 L658.3,237.7 L659.7,234.4 L661.1,230.5 L662.4,225.7 L663.8,219.8 L665.2,213.2 L666.6,206.1 L668.0,198.2 L669.3,189.1 L670.7,178.8 L672.1,167.8 L673.5,156.9 L674.9,146.1 L676.2,135.2 L677.6,124.5 L679.0,114.5 L680.4,105.1 L681.8,96.1 L683.1,87.7 L684.5,80.6 L685.9,74.6 L687.3,69.3 L688.7,65.1 L690.0,61.3 L691.4,58.5 L692.8,58.4 L694.2,60.5 L695.6,63.7 L696.9,68.5 L698.3,75.9 L699.7,85.7 L701.1,100.9 L702.5,115.9 L703.8,129.4 L705.2,142.8 L706.6,157.2 L708.0,170.7 L709.4,180.3 L710.7,191.2 L712.1,205.5 L713.5,222.3 L714.9,241.3 L716.3,255.4 L717.6,267.2 L719.0,277.5 L720.4,286.6 L721.8,294.6 L723.2,301.4 L724.5,307.4 L725.9,312.4 L727.3,316.3 L728.7,319.5 L730.1,322.2 L731.4,324.7 L732.8,327.2 L734.2,329.7 L735.6,331.3 L737.0,332.5 L738.3,333.5 L739.7,334.4 L741.1,335.1 L742.5,335.7 L743.9,336.4 L745.2,336.9 L746.6,337.4 L748.0,337.7 L749.4,337.9 L750.8,338.1 L752.1,338.3 L753.5,338.5 L754.9,338.6 L756.3,338.7 L757.7,338.8 L759.0,338.9 L760.4,339.0 L761.8,339.0 L763.2,339.1 L764.6,339.2 L765.9,339.3 L767.3,339.3 L768.7,339.4 L770.1,339.4 L771.5,339.5 L772.8,339.6 L774.2,339.6 L775.6,339.7 L777.0,339.7 L778.4,339.7 L779.7,339.8 L781.1,339.8 L782.5,339.8 L783.9,339.9 L785.3,339.9 L786.6,339.9 L788.0,339.9 L789.4,339.9 L790.8,339.9 L792.2,340.0 L793.5,340.0 L794.9,340.0 L796.3,340.0 L797.7,340.0 L799.1,340.0 L800.4,340.0 L801.8,340.0 L803.2,340.0 L804.6,340.0 L806.0,340.0 L807.3,340.0 L808.7,340.1 L810.1,340.1 L811.5,340.1 L812.9,340.1 L814.2,340.1 L815.6,340.1 L817.0,340.1 L818.4,340.1 L819.8,340.1 L821.1,340.1 L822.5,340.1 L823.9,340.1 L825.3,340.1 L826.7,340.1 L828.0,340.2 L829.4,340.2 L830.8,340.2 L832.2,340.2 L833.6,340.2 L834.9,340.2 L836.3,340.2 L837.7,340.2 L839.1,340.2 L840.5,340.2 L841.8,340.2 L843.2,340.2 L844.6,340.2 L846.0,340.2 L847.4,340.2 L848.7,340.2 L850.1,340.2 L851.5,340.3 L852.9,340.3 L854.3,340.3 L855.6,340.3 L857.0,340.3 L858.4,340.3 L859.8,340.3 L861.2,340.3 L862.5,340.3 L863.9,340.3 L865.3,340.3 L866.7,340.3 L868.1,340.3 L869.4,340.3 L870.8,340.3 L872.2,340.3 L873.6,340.3 L875.0,340.3 L876.3,340.3 L877.7,340.3 L879.1,340.3 L880.5,340.4 L881.9,340.4 L883.2,340.4 L884.6,340.4 L886.0,340.4 L887.4,340.4 L888.8,340.4 L890.1,340.4 L891.5,340.4 L892.9,340.4 L894.3,340.4 L895.7,340.4 L897.0,340.4 L898.4,340.4 L899.8,340.4 L901.2,340.4 L902.6,340.4 L903.9,340.4 L905.3,340.4 L906.7,340.4 L908.1,340.4 L909.5,340.4 L910.8,340.4 L912.2,340.4 L913.6,340.4 L915.0,340.4 L916.4,340.4 L917.7,340.4 L919.1,340.4 L920.5,340.4 L921.9,340.4 L923.3,340.4 L924.6,340.4 L926.0,340.4 L927.4,340.5 L928.8,340.5 L930.2,340.5 L931.5,340.5 L932.9,340.5 L934.3,340.5 L935.7,340.5 L937.1,340.5 L938.4,340.5 L939.8,340.5 L941.2,340.5 L942.6,340.5 L944.0,340.5 L945.3,340.5 L946.7,340.5 L948.1,340.5 L949.5,340.5 L950.9,340.5 L952.2,340.5 L953.6,340.5 L955.0,340.5 L956.4,340.5 L957.8,340.5 L959.1,340.5 L960.5,340.5 L961.9,340.5 L963.3,340.5 L964.7,340.5 L966.0,340.5 L967.4,340.5 L968.8,340.5 L970.2,340.5 L971.6,340.5 L972.9,340.5 L974.3,340.5 L975.7,340.5 L977.1,340.5 L978.5,340.5 L979.8,340.5 L981.2,340.5 L982.6,340.5 L984.0,340.5 L985.4,340.5 L986.7,340.5 L988.1,340.5 L989.5,340.5 L990.9,340.5 L992.3,340.5 L993.6,340.5 L995.0,340.5 L996.4,340.5" fill="none" stroke="#a0a0a0" stroke-width="4" stroke-linejoin="round"/>
<g fill="#fff" stroke="#a0a0a0" stroke-width="1"><circle cx="633.5" cy="339.4" r="4.4"/><circle cx="635.0" cy="339.4" r="4.4"/><circle cx="636.5" cy="339.4" r="4.4"/><circle cx="638.0" cy="339.4" r="4.4"/><circle cx="639.5" cy="339.4" r="4.4"/><circle cx="641.1" cy="339.4" r="4.4"/><circle cx="642.6" cy="339.4" r="4.4"/><circle cx="644.1" cy="339.4" r="4.4"/><circle cx="645.6" cy="339.4" r="4.4"/><circle cx="647.1" cy="339.3" r="4.4"/><circle cx="648.6" cy="339.3" r="4.4"/><circle cx="650.2" cy="339.2" r="4.4"/><circle cx="651.7" cy="339.1" r="4.4"/><circle cx="653.2" cy="339.0" r="4.4"/><circle cx="654.7" cy="339.0" r="4.4"/><circle cx="656.2" cy="338.8" r="4.4"/><circle cx="657.7" cy="338.7" r="4.4"/><circle cx="659.3" cy="338.5" r="4.4"/><circle cx="660.8" cy="338.3" r="4.4"/><circle cx="662.3" cy="337.9" r="4.4"/><circle cx="663.8" cy="337.3" r="4.4"/><circle cx="665.3" cy="336.7" r="4.4"/><circle cx="666.9" cy="336.0" r="4.4"/><circle cx="668.4" cy="334.9" r="4.4"/><circle cx="669.9" cy="333.6" r="4.4"/><circle cx="671.4" cy="331.9" r="4.4"/><circle cx="672.9" cy="330.0" r="4.4"/><circle cx="674.4" cy="327.6" r="4.4"/><circle cx="676.0" cy="324.6" r="4.4"/><circle cx="677.5" cy="320.9" r="4.4"/><circle cx="679.0" cy="315.3" r="4.4"/><circle cx="680.5" cy="308.0" r="4.4"/><circle cx="682.0" cy="299.1" r="4.4"/><circle cx="683.6" cy="289.5" r="4.4"/><circle cx="685.1" cy="281.5" r="4.4"/><circle cx="686.6" cy="273.0" r="4.4"/><circle cx="688.1" cy="262.8" r="4.4"/><circle cx="689.6" cy="251.5" r="4.4"/><circle cx="691.1" cy="239.8" r="4.4"/><circle cx="692.7" cy="227.2" r="4.4"/><circle cx="694.2" cy="213.6" r="4.4"/><circle cx="695.7" cy="198.9" r="4.4"/><circle cx="697.2" cy="183.4" r="4.4"/><circle cx="698.7" cy="170.0" r="4.4"/><circle cx="700.3" cy="158.4" r="4.4"/><circle cx="701.8" cy="147.1" r="4.4"/><circle cx="703.3" cy="135.2" r="4.4"/><circle cx="704.8" cy="124.4" r="4.4"/><circle cx="706.3" cy="115.0" r="4.4"/><circle cx="707.8" cy="106.5" r="4.4"/><circle cx="709.4" cy="98.4" r="4.4"/><circle cx="710.9" cy="90.3" r="4.4"/><circle cx="712.4" cy="82.5" r="4.4"/><circle cx="713.9" cy="76.1" r="4.4"/><circle cx="715.4" cy="70.9" r="4.4"/><circle cx="717.0" cy="66.3" r="4.4"/><circle cx="718.5" cy="63.0" r="4.4"/><circle cx="720.0" cy="60.9" r="4.4"/><circle cx="721.5" cy="59.1" r="4.4"/><circle cx="723.0" cy="58.1" r="4.4"/><circle cx="724.5" cy="58.1" r="4.4"/><circle cx="726.1" cy="58.6" r="4.4"/><circle cx="727.6" cy="59.5" r="4.4"/><circle cx="729.1" cy="60.8" r="4.4"/><circle cx="730.6" cy="63.9" r="4.4"/><circle cx="732.1" cy="67.8" r="4.4"/><circle cx="733.6" cy="71.5" r="4.4"/><circle cx="735.2" cy="75.2" r="4.4"/><circle cx="736.7" cy="79.2" r="4.4"/><circle cx="738.2" cy="84.0" r="4.4"/><circle cx="739.7" cy="89.4" r="4.4"/><circle cx="741.2" cy="94.8" r="4.4"/><circle cx="742.8" cy="100.4" r="4.4"/><circle cx="744.3" cy="106.1" r="4.4"/><circle cx="745.8" cy="112.1" r="4.4"/><circle cx="747.3" cy="118.6" r="4.4"/><circle cx="748.8" cy="126.3" r="4.4"/><circle cx="750.3" cy="134.6" r="4.4"/><circle cx="751.9" cy="142.2" r="4.4"/><circle cx="753.4" cy="148.1" r="4.4"/><circle cx="754.9" cy="153.3" r="4.4"/><circle cx="756.4" cy="157.9" r="4.4"/><circle cx="757.9" cy="162.2" r="4.4"/><circle cx="759.5" cy="166.2" r="4.4"/><circle cx="761.0" cy="170.0" r="4.4"/><circle cx="762.5" cy="173.6" r="4.4"/><circle cx="764.0" cy="177.1" r="4.4"/><circle cx="765.5" cy="180.4" r="4.4"/><circle cx="767.0" cy="183.6" r="4.4"/><circle cx="768.6" cy="186.6" r="4.4"/><circle cx="770.1" cy="189.5" r="4.4"/><circle cx="771.6" cy="192.4" r="4.4"/><circle cx="773.1" cy="195.2" r="4.4"/><circle cx="774.6" cy="198.1" r="4.4"/><circle cx="776.2" cy="200.9" r="4.4"/><circle cx="777.7" cy="203.6" r="4.4"/><circle cx="779.2" cy="206.2" r="4.4"/><circle cx="780.7" cy="208.8" r="4.4"/><circle cx="782.2" cy="211.3" r="4.4"/><circle cx="783.7" cy="213.8" r="4.4"/><circle cx="785.3" cy="216.4" r="4.4"/><circle cx="786.8" cy="219.2" r="4.4"/><circle cx="788.3" cy="222.1" r="4.4"/><circle cx="789.8" cy="225.3" r="4.4"/><circle cx="791.3" cy="228.9" r="4.4"/><circle cx="792.9" cy="232.7" r="4.4"/><circle cx="794.4" cy="236.8" r="4.4"/><circle cx="795.9" cy="240.9" r="4.4"/><circle cx="797.4" cy="245.0" r="4.4"/><circle cx="798.9" cy="248.9" r="4.4"/><circle cx="800.4" cy="252.6" r="4.4"/><circle cx="802.0" cy="256.1" r="4.4"/><circle cx="803.5" cy="259.7" r="4.4"/><circle cx="805.0" cy="263.2" r="4.4"/><circle cx="806.5" cy="266.7" r="4.4"/><circle cx="808.0" cy="270.1" r="4.4"/><circle cx="809.5" cy="273.4" r="4.4"/><circle cx="811.1" cy="276.5" r="4.4"/><circle cx="812.6" cy="279.5" r="4.4"/><circle cx="814.1" cy="282.2" r="4.4"/><circle cx="815.6" cy="284.6" r="4.4"/><circle cx="817.1" cy="286.9" r="4.4"/><circle cx="818.7" cy="289.1" r="4.4"/><circle cx="820.2" cy="291.2" r="4.4"/><circle cx="821.7" cy="293.2" r="4.4"/><circle cx="823.2" cy="295.2" r="4.4"/><circle cx="824.7" cy="297.0" r="4.4"/><circle cx="826.2" cy="298.8" r="4.4"/><circle cx="827.8" cy="300.4" r="4.4"/><circle cx="829.3" cy="302.0" r="4.4"/><circle cx="830.8" cy="303.5" r="4.4"/><circle cx="832.3" cy="304.9" r="4.4"/><circle cx="833.8" cy="306.3" r="4.4"/><circle cx="835.4" cy="307.5" r="4.4"/><circle cx="836.9" cy="308.7" r="4.4"/><circle cx="838.4" cy="309.8" r="4.4"/><circle cx="839.9" cy="310.9" r="4.4"/><circle cx="841.4" cy="312.0" r="4.4"/><circle cx="842.9" cy="313.0" r="4.4"/><circle cx="844.5" cy="314.0" r="4.4"/><circle cx="846.0" cy="315.0" r="4.4"/><circle cx="847.5" cy="315.9" r="4.4"/><circle cx="849.0" cy="316.8" r="4.4"/><circle cx="850.5" cy="317.7" r="4.4"/><circle cx="852.1" cy="318.5" r="4.4"/><circle cx="853.6" cy="319.3" r="4.4"/><circle cx="855.1" cy="320.1" r="4.4"/><circle cx="856.6" cy="320.8" r="4.4"/><circle cx="858.1" cy="321.5" r="4.4"/><circle cx="859.6" cy="322.1" r="4.4"/><circle cx="861.2" cy="322.8" r="4.4"/><circle cx="862.7" cy="323.4" r="4.4"/><circle cx="864.2" cy="324.0" r="4.4"/><circle cx="865.7" cy="324.5" r="4.4"/><circle cx="867.2" cy="325.1" r="4.4"/><circle cx="868.8" cy="325.7" r="4.4"/><circle cx="870.3" cy="326.2" r="4.4"/><circle cx="871.8" cy="326.7" r="4.4"/><circle cx="873.3" cy="327.2" r="4.4"/><circle cx="874.8" cy="327.7" r="4.4"/><circle cx="876.3" cy="328.2" r="4.4"/><circle cx="877.9" cy="328.7" r="4.4"/><circle cx="879.4" cy="329.1" r="4.4"/><circle cx="880.9" cy="329.6" r="4.4"/><circle cx="882.4" cy="330.0" r="4.4"/><circle cx="883.9" cy="330.3" r="4.4"/><circle cx="885.4" cy="330.7" r="4.4"/><circle cx="887.0" cy="331.0" r="4.4"/><circle cx="888.5" cy="331.3" r="4.4"/><circle cx="890.0" cy="331.6" r="4.4"/><circle cx="891.5" cy="331.9" r="4.4"/><circle cx="893.0" cy="332.1" r="4.4"/><circle cx="894.6" cy="332.4" r="4.4"/><circle cx="896.1" cy="332.6" r="4.4"/><circle cx="897.6" cy="332.8" r="4.4"/><circle cx="899.1" cy="333.0" r="4.4"/><circle cx="900.6" cy="333.2" r="4.4"/><circle cx="902.1" cy="333.4" r="4.4"/><circle cx="903.7" cy="333.6" r="4.4"/><circle cx="905.2" cy="333.7" r="4.4"/><circle cx="906.7" cy="333.9" r="4.4"/><circle cx="908.2" cy="334.1" r="4.4"/><circle cx="909.7" cy="334.2" r="4.4"/><circle cx="911.3" cy="334.4" r="4.4"/><circle cx="912.8" cy="334.5" r="4.4"/><circle cx="914.3" cy="334.7" r="4.4"/><circle cx="915.8" cy="334.8" r="4.4"/><circle cx="917.3" cy="334.9" r="4.4"/><circle cx="918.8" cy="335.0" r="4.4"/><circle cx="920.4" cy="335.2" r="4.4"/><circle cx="921.9" cy="335.3" r="4.4"/><circle cx="923.4" cy="335.4" r="4.4"/><circle cx="924.9" cy="335.5" r="4.4"/><circle cx="926.4" cy="335.6" r="4.4"/><circle cx="928.0" cy="335.7" r="4.4"/><circle cx="929.5" cy="335.8" r="4.4"/><circle cx="931.0" cy="335.8" r="4.4"/><circle cx="932.5" cy="335.9" r="4.4"/><circle cx="934.0" cy="336.0" r="4.4"/><circle cx="935.5" cy="336.1" r="4.4"/><circle cx="937.1" cy="336.2" r="4.4"/><circle cx="938.6" cy="336.3" r="4.4"/><circle cx="940.1" cy="336.3" r="4.4"/><circle cx="941.6" cy="336.4" r="4.4"/><circle cx="943.1" cy="336.5" r="4.4"/><circle cx="944.7" cy="336.6" r="4.4"/><circle cx="946.2" cy="336.7" r="4.4"/><circle cx="947.7" cy="336.7" r="4.4"/><circle cx="949.2" cy="336.8" r="4.4"/><circle cx="950.7" cy="336.9" r="4.4"/><circle cx="952.2" cy="337.0" r="4.4"/><circle cx="953.8" cy="337.0" r="4.4"/><circle cx="955.3" cy="337.1" r="4.4"/><circle cx="956.8" cy="337.2" r="4.4"/><circle cx="958.3" cy="337.3" r="4.4"/><circle cx="959.8" cy="337.3" r="4.4"/><circle cx="961.3" cy="337.4" r="4.4"/><circle cx="962.9" cy="337.5" r="4.4"/><circle cx="964.4" cy="337.5" r="4.4"/><circle cx="965.9" cy="337.6" r="4.4"/><circle cx="967.4" cy="337.6" r="4.4"/><circle cx="968.9" cy="337.7" r="4.4"/><circle cx="970.5" cy="337.7" r="4.4"/><circle cx="972.0" cy="337.8" r="4.4"/><circle cx="973.5" cy="337.8" r="4.4"/><circle cx="975.0" cy="337.9" r="4.4"/><circle cx="976.5" cy="337.9" r="4.4"/><circle cx="978.0" cy="338.0" r="4.4"/><circle cx="979.6" cy="338.0" r="4.4"/><circle cx="981.1" cy="338.0" r="4.4"/><circle cx="982.6" cy="338.1" r="4.4"/><circle cx="984.1" cy="338.1" r="4.4"/><circle cx="985.6" cy="338.1" r="4.4"/><circle cx="987.2" cy="338.2" r="4.4"/><circle cx="988.7" cy="338.2" r="4.4"/><circle cx="990.2" cy="338.2" r="4.4"/><circle cx="991.7" cy="338.2" r="4.4"/><circle cx="993.2" cy="338.2" r="4.4"/><circle cx="994.7" cy="338.2" r="4.4"/><circle cx="996.3" cy="338.2" r="4.4"/></g>
<path d="M582.4,338.2 L582.7,338.2 L583.1,338.2 L583.4,338.2 L583.8,338.2 L584.1,338.2 L584.5,338.2 L584.8,338.2 L585.2,338.2 L585.5,338.2 L585.9,338.2 L586.2,338.2 L586.5,338.2 L586.9,338.2 L587.2,338.2 L587.6,338.2 L587.9,338.2 L588.3,338.2 L588.6,338.2 L589.0,338.2 L589.3,338.2 L589.6,338.2 L590.0,338.2 L590.3,338.2 L590.7,338.2 L591.0,338.2 L591.4,338.2 L591.7,338.2 L592.1,338.2 L592.4,338.2 L592.8,338.2 L593.1,338.2 L593.4,338.2 L593.8,338.2 L594.1,338.2 L594.5,338.1 L594.8,338.1 L595.2,338.1 L595.5,338.1 L595.9,338.1 L596.2,338.1 L596.5,338.1 L596.9,338.1 L597.2,338.1 L597.6,338.1 L597.9,338.1 L598.3,338.1 L598.6,338.1 L599.0,338.1 L599.3,338.1 L599.6,338.0 L600.0,338.0 L600.3,338.0 L600.7,338.0 L601.0,338.0 L601.4,338.0 L601.7,338.0 L602.1,338.0 L602.4,338.0 L602.8,338.0 L603.1,337.9 L603.4,337.9 L603.8,337.9 L604.1,337.9 L604.5,337.9 L604.8,337.9 L605.2,337.9 L605.5,337.9 L605.9,337.8 L606.2,337.8 L606.5,337.8 L606.9,337.8 L607.2,337.8 L607.6,337.8 L607.9,337.8 L608.3,337.8 L608.6,337.7 L609.0,337.7 L609.3,337.7 L609.7,337.7 L610.0,337.7 L610.3,337.6 L610.7,337.6 L611.0,337.5 L611.4,337.4 L611.7,337.3 L612.1,337.2 L612.4,337.0 L612.8,336.9 L613.1,336.7 L613.4,336.5 L613.8,336.3 L614.1,336.1 L614.5,335.9 L614.8,335.6 L615.2,335.4 L615.5,335.2 L615.9,335.0 L616.2,334.7 L616.6,334.5 L616.9,334.3 L617.2,334.1 L617.6,333.9 L617.9,333.7 L618.3,333.5 L618.6,333.3 L619.0,333.2 L619.3,333.0 L619.7,332.9 L620.0,332.7 L620.4,332.6 L620.7,332.4 L621.0,332.3 L621.4,332.2 L621.7,332.0 L622.1,331.9 L622.4,331.8 L622.8,331.6 L623.1,331.5 L623.5,331.4 L623.8,331.2 L624.1,331.1 L624.5,331.0 L624.8,330.9 L625.2,330.7 L625.5,330.6 L625.9,330.5 L626.2,330.3 L626.6,330.2 L626.9,330.0 L627.2,329.9 L627.6,329.8 L627.9,329.6 L628.3,329.5 L628.6,329.3 L629.0,329.2 L629.3,329.0 L629.7,328.9 L630.0,328.7 L630.4,328.6 L630.7,328.4 L631.0,328.3 L631.4,328.1 L631.7,328.0 L632.1,327.8 L632.4,327.6 L632.8,327.5 L633.1,327.3 L633.5,327.1 L633.8,326.9 L634.1,326.8 L634.5,326.6 L634.8,326.3 L635.2,326.1 L635.5,325.9 L635.9,325.7 L636.2,325.4 L636.6,325.1 L636.9,324.8 L637.3,324.5 L637.6,324.2 L637.9,323.9 L638.3,323.5 L638.6,323.2 L639.0,322.8 L639.3,322.4 L639.7,322.0 L640.0,321.6 L640.4,321.2 L640.7,320.8 L641.0,320.3 L641.4,319.9 L641.7,319.5 L642.1,319.0 L642.4,318.5 L642.8,318.0 L643.1,317.5 L643.5,317.0 L643.8,316.5 L644.2,315.9 L644.5,315.4 L644.8,314.8 L645.2,314.1 L645.5,313.5 L645.9,312.8 L646.2,312.1 L646.6,311.4 L646.9,310.6 L647.3,309.7 L647.6,308.9 L647.9,308.0 L648.3,307.0 L648.6,306.0 L649.0,305.0 L649.3,303.9 L649.7,302.8 L650.0,301.6 L650.4,300.3 L650.7,298.8 L651.1,297.4 L651.4,295.9 L651.7,294.5 L652.1,293.0 L652.4,291.7 L652.8,290.3 L653.1,289.1 L653.5,287.8 L653.8,286.4 L654.2,285.1 L654.5,283.6 L654.8,282.1 L655.2,280.5 L655.5,278.7 L655.9,276.7 L656.2,274.7 L656.6,272.6 L656.9,270.5 L657.3,268.2 L657.6,265.9 L658.0,263.5 L658.3,261.0 L658.6,258.4 L659.0,255.9 L659.3,253.3 L659.7,250.6 L660.0,247.9 L660.4,245.1 L660.7,242.2 L661.1,239.3 L661.4,236.3 L661.8,233.1 L662.1,229.5 L662.4,225.2 L662.8,220.7 L663.1,216.6 L663.5,213.1 L663.8,210.1 L664.2,207.3 L664.5,204.5 L664.9,201.5 L665.2,198.2 L665.5,194.8 L665.9,191.4 L666.2,187.8 L666.6,184.0 L666.9,180.1 L667.3,176.0 L667.6,171.7 L668.0,167.4 L668.3,163.1 L668.6,158.8 L669.0,154.3 L669.3,149.4 L669.7,143.6 L670.0,136.5 L670.4,130.0 L670.7,125.3 L671.1,121.3 L671.4,117.8 L671.8,114.4 L672.1,111.1 L672.4,107.7 L672.8,104.3 L673.1,101.1 L673.5,97.8 L673.8,94.4 L674.2,90.9 L674.5,87.5 L674.9,84.3 L675.2,81.6 L675.5,79.0 L675.9,76.6 L676.2,74.5 L676.6,72.5 L676.9,70.7 L677.3,68.9 L677.6,67.0 L678.0,65.2 L678.3,63.5 L678.7,61.9 L679.0,60.5 L679.3,59.4 L679.7,58.6 L680.0,58.1 L680.4,58.1 L680.7,58.2 L681.1,58.4 L681.4,58.7 L681.8,59.1 L682.1,59.6 L682.4,60.1 L682.8,60.8 L683.1,61.4 L683.5,62.1 L683.8,62.8 L684.2,63.9 L684.5,65.3 L684.9,66.9 L685.2,68.6 L685.6,70.2 L685.9,71.5 L686.2,72.8 L686.6,73.9 L686.9,75.0 L687.3,76.1 L687.6,77.1 L688.0,78.2 L688.3,79.2 L688.7,80.3 L689.0,81.4 L689.4,82.6 L689.7,83.8 L690.0,85.0 L690.4,86.2 L690.7,87.3 L691.1,88.5 L691.4,89.7 L691.8,90.7 L692.1,91.8 L692.5,92.8 L692.8,93.8 L693.1,94.8 L693.5,95.8 L693.8,96.8 L694.2,97.7 L694.5,98.5 L694.9,99.3 L695.2,100.0 L695.6,100.7 L695.9,101.3 L696.2,101.9 L696.6,102.5 L696.9,103.0 L697.3,103.5 L697.6,104.1 L698.0,104.6 L698.3,105.1 L698.7,105.6 L699.0,106.1 L699.4,106.6 L699.7,107.1 L700.0,107.6 L700.4,108.2 L700.7,108.7 L701.1,109.3 L701.4,109.8 L701.8,110.4 L702.1,110.9 L702.5,111.4 L702.8,112.0 L703.1,112.5 L703.5,113.0 L703.8,113.6 L704.2,114.2 L704.5,114.8 L704.9,115.3 L705.2,115.9 L705.6,116.6 L705.9,117.2 L706.3,117.8 L706.6,118.4 L706.9,119.0 L707.3,119.7 L707.6,120.3 L708.0,121.0 L708.3,121.8 L708.7,122.5 L709.0,123.3 L709.4,124.2 L709.7,125.1 L710.0,126.1 L710.4,127.2 L710.7,128.4 L711.1,129.6 L711.4,130.8 L711.8,132.1 L712.1,133.5 L712.5,134.9 L712.8,136.4 L713.2,138.1 L713.5,139.8 L713.8,141.6 L714.2,143.5 L714.5,145.4 L714.9,147.4 L715.2,149.4 L715.6,151.6 L715.9,154.0 L716.3,156.4 L716.6,158.6 L717.0,160.6 L717.3,162.2 L717.6,163.7 L718.0,164.9 L718.3,166.2 L718.7,167.4 L719.0,168.7 L719.4,170.2 L719.7,171.9 L720.1,174.1 L720.4,177.0 L720.7,180.3 L721.1,183.5 L721.4,186.4 L721.8,188.6 L722.1,190.5 L722.5,192.2 L722.8,193.9 L723.2,195.7 L723.5,197.7 L723.9,200.0 L724.2,202.4 L724.5,205.0 L724.9,207.8 L725.2,210.9 L725.6,214.6 L725.9,219.0 L726.3,222.9 L726.6,225.6 L727.0,227.7 L727.3,229.4 L727.6,230.9 L728.0,232.3 L728.3,233.6 L728.7,234.9 L729.0,236.3 L729.4,237.9 L729.7,239.6 L730.1,241.4 L730.4,243.3 L730.8,245.2 L731.1,247.2 L731.4,249.3 L731.8,251.5 L732.1,253.9 L732.5,256.3 L732.8,258.4 L733.2,260.2 L733.5,261.7 L733.9,263.2 L734.2,264.5 L734.5,265.8 L734.9,267.0 L735.2,268.3 L735.6,269.5 L735.9,270.8 L736.3,272.0 L736.6,273.2 L737.0,274.3 L737.3,275.5 L737.6,276.6 L738.0,277.8 L738.3,278.9 L738.7,280.1 L739.0,281.3 L739.4,282.5 L739.7,283.7 L740.1,284.9 L740.4,286.0 L740.8,287.1 L741.1,288.1 L741.4,289.0 L741.8,289.8 L742.1,290.7 L742.5,291.5 L742.8,292.2 L743.2,293.0 L743.5,293.7 L743.9,294.4 L744.2,295.1 L744.5,295.7 L744.9,296.3 L745.2,296.9 L745.6,297.5 L745.9,298.1 L746.3,298.6 L746.6,299.1 L747.0,299.6 L747.3,300.1 L747.7,300.6 L748.0,301.1 L748.3,301.6 L748.7,302.1 L749.0,302.5 L749.4,303.0 L749.7,303.4 L750.1,303.9 L750.4,304.3 L750.8,304.6 L751.1,305.0 L751.4,305.3 L751.8,305.6 L752.1,305.9 L752.5,306.2 L752.8,306.4 L753.2,306.6 L753.5,306.7 L753.9,306.9 L754.2,307.0 L754.6,307.2 L754.9,307.3 L755.2,307.4 L755.6,307.6 L755.9,307.7 L756.3,307.8 L756.6,307.9 L757.0,308.0 L757.3,308.1 L757.7,308.2 L758.0,308.3 L758.3,308.4 L758.7,308.5 L759.0,308.6 L759.4,308.7 L759.7,308.7 L760.1,308.8 L760.4,308.9 L760.8,309.0 L761.1,309.0 L761.5,309.1 L761.8,309.2 L762.1,309.2 L762.5,309.3 L762.8,309.4 L763.2,309.4 L763.5,309.5 L763.9,309.6 L764.2,309.6 L764.6,309.7 L764.9,309.7 L765.2,309.8 L765.6,309.8 L765.9,309.9 L766.3,309.9 L766.6,310.0 L767.0,310.0 L767.3,310.1 L767.7,310.1 L768.0,310.1 L768.4,310.2 L768.7,310.2 L769.0,310.3 L769.4,310.3 L769.7,310.4 L770.1,310.4 L770.4,310.5 L770.8,310.5 L771.1,310.6 L771.5,310.6 L771.8,310.7 L772.1,310.7 L772.5,310.8 L772.8,310.8 L773.2,310.9 L773.5,310.9 L773.9,311.0 L774.2,311.1 L774.6,311.1 L774.9,311.2 L775.3,311.2 L775.6,311.3 L775.9,311.4 L776.3,311.4 L776.6,311.5 L777.0,311.6 L777.3,311.7 L777.7,311.7 L778.0,311.8 L778.4,311.9 L778.7,312.0 L779.0,312.0 L779.4,312.1 L779.7,312.2 L780.1,312.3 L780.4,312.4 L780.8,312.5 L781.1,312.6 L781.5,312.7 L781.8,312.9 L782.2,313.0 L782.5,313.1 L782.8,313.3 L783.2,313.4 L783.5,313.6 L783.9,313.8 L784.2,313.9 L784.6,314.1 L784.9,314.3 L785.3,314.5 L785.6,314.7 L785.9,314.9 L786.3,315.1 L786.6,315.3 L787.0,315.5 L787.3,315.7 L787.7,315.9 L788.0,316.1 L788.4,316.3 L788.7,316.5 L789.1,316.7 L789.4,316.9 L789.7,317.2 L790.1,317.4 L790.4,317.6 L790.8,317.9 L791.1,318.1 L791.5,318.4 L791.8,318.7 L792.2,318.9 L792.5,319.2 L792.8,319.5 L793.2,319.8 L793.5,320.0 L793.9,320.3 L794.2,320.6 L794.6,320.9 L794.9,321.1 L795.3,321.4 L795.6,321.7 L796.0,322.0 L796.3,322.2 L796.6,322.5 L797.0,322.7 L797.3,323.0 L797.7,323.3 L798.0,323.6 L798.4,323.8 L798.7,324.1 L799.1,324.4 L799.4,324.7 L799.8,325.0 L800.1,325.3 L800.4,325.6 L800.8,325.8 L801.1,326.1 L801.5,326.4 L801.8,326.6 L802.2,326.9 L802.5,327.1 L802.9,327.4 L803.2,327.6 L803.5,327.8 L803.9,328.0 L804.2,328.2 L804.6,328.4 L804.9,328.5 L805.3,328.7 L805.6,328.8 L806.0,329.0 L806.3,329.1 L806.6,329.3 L807.0,329.4 L807.3,329.5 L807.7,329.7 L808.0,329.8 L808.4,329.9 L808.7,330.0 L809.1,330.2 L809.4,330.3 L809.8,330.4 L810.1,330.5 L810.4,330.6 L810.8,330.7 L811.1,330.8 L811.5,330.9 L811.8,331.0 L812.2,331.1 L812.5,331.2 L812.9,331.3 L813.2,331.4 L813.5,331.5 L813.9,331.6 L814.2,331.7 L814.6,331.8 L814.9,331.9 L815.3,332.0 L815.6,332.1 L816.0,332.2 L816.3,332.3 L816.7,332.4 L817.0,332.5 L817.3,332.5 L817.7,332.6 L818.0,332.7 L818.4,332.8 L818.7,332.9 L819.1,333.0 L819.4,333.1 L819.8,333.2 L820.1,333.2 L820.4,333.3 L820.8,333.4 L821.1,333.5 L821.5,333.6 L821.8,333.6 L822.2,333.7 L822.5,333.8 L822.9,333.9 L823.2,334.0 L823.6,334.0 L823.9,334.1 L824.2,334.2 L824.6,334.2 L824.9,334.3 L825.3,334.4 L825.6,334.4 L826.0,334.5 L826.3,334.6 L826.7,334.6 L827.0,334.7 L827.4,334.7 L827.7,334.8 L828.0,334.8 L828.4,334.9 L828.7,334.9 L829.1,335.0 L829.4,335.0 L829.8,335.1 L830.1,335.1 L830.5,335.2 L830.8,335.2 L831.1,335.3 L831.5,335.3 L831.8,335.4 L832.2,335.4 L832.5,335.4 L832.9,335.5 L833.2,335.5 L833.6,335.6 L833.9,335.6 L834.2,335.7 L834.6,335.7 L834.9,335.7 L835.3,335.8 L835.6,335.8 L836.0,335.9 L836.3,335.9 L836.7,335.9 L837.0,336.0 L837.4,336.0 L837.7,336.0 L838.0,336.1 L838.4,336.1 L838.7,336.1 L839.1,336.2 L839.4,336.2 L839.8,336.2 L840.1,336.3 L840.5,336.3 L840.8,336.3 L841.1,336.4 L841.5,336.4 L841.8,336.4 L842.2,336.4 L842.5,336.4 L842.9,336.5 L843.2,336.5 L843.6,336.5 L843.9,336.5 L844.3,336.5 L844.6,336.5 L844.9,336.6 L845.3,336.6 L845.6,336.6 L846.0,336.6 L846.3,336.6 L846.7,336.6 L847.0,336.6 L847.4,336.6 L847.7,336.7 L848.0,336.7 L848.4,336.7 L848.7,336.7 L849.1,336.7 L849.4,336.7 L849.8,336.7 L850.1,336.7 L850.5,336.8 L850.8,336.8 L851.2,336.8 L851.5,336.8 L851.8,336.8 L852.2,336.8 L852.5,336.8 L852.9,336.8 L853.2,336.9 L853.6,336.9 L853.9,336.9 L854.3,336.9 L854.6,336.9 L855.0,336.9 L855.3,336.9 L855.6,336.9 L856.0,336.9 L856.3,336.9 L856.7,337.0 L857.0,337.0 L857.4,337.0 L857.7,337.0 L858.1,337.0 L858.4,337.0 L858.7,337.0 L859.1,337.0 L859.4,337.0 L859.8,337.0 L860.1,337.1 L860.5,337.1 L860.8,337.1 L861.2,337.1 L861.5,337.1 L861.9,337.1 L862.2,337.1 L862.5,337.1 L862.9,337.1 L863.2,337.1 L863.6,337.1 L863.9,337.2 L864.3,337.2 L864.6,337.2 L865.0,337.2 L865.3,337.2 L865.6,337.2 L866.0,337.2 L866.3,337.2 L866.7,337.2 L867.0,337.2 L867.4,337.2 L867.7,337.2 L868.1,337.3 L868.4,337.3 L868.8,337.3 L869.1,337.3 L869.4,337.3 L869.8,337.3 L870.1,337.3 L870.5,337.3 L870.8,337.3 L871.2,337.3 L871.5,337.3 L871.9,337.3 L872.2,337.3 L872.5,337.3 L872.9,337.4 L873.2,337.4 L873.6,337.4 L873.9,337.4 L874.3,337.4 L874.6,337.4 L875.0,337.4 L875.3,337.4 L875.6,337.4 L876.0,337.4 L876.3,337.4 L876.7,337.4 L877.0,337.4 L877.4,337.4 L877.7,337.4 L878.1,337.4 L878.4,337.5 L878.8,337.5 L879.1,337.5 L879.4,337.5 L879.8,337.5 L880.1,337.5 L880.5,337.5 L880.8,337.5 L881.2,337.5 L881.5,337.5 L881.9,337.5 L882.2,337.5 L882.5,337.5 L882.9,337.5 L883.2,337.5 L883.6,337.5 L883.9,337.5 L884.3,337.5 L884.6,337.5 L885.0,337.5 L885.3,337.5 L885.7,337.6 L886.0,337.6 L886.3,337.6 L886.7,337.6 L887.0,337.6 L887.4,337.6 L887.7,337.6 L888.1,337.6 L888.4,337.6 L888.8,337.6 L889.1,337.6 L889.5,337.6 L889.8,337.6 L890.1,337.6 L890.5,337.6 L890.8,337.6 L891.2,337.6 L891.5,337.6 L891.9,337.6 L892.2,337.6 L892.6,337.6 L892.9,337.6 L893.2,337.6 L893.6,337.6 L893.9,337.6 L894.3,337.6 L894.6,337.6 L895.0,337.6 L895.3,337.6 L895.7,337.6 L896.0,337.7 L896.3,337.7 L896.7,337.7 L897.0,337.7 L897.4,337.7 L897.7,337.7 L898.1,337.7 L898.4,337.7 L898.8,337.7 L899.1,337.7 L899.5,337.7 L899.8,337.7 L900.1,337.7 L900.5,337.7 L900.8,337.7 L901.2,337.7 L901.5,337.7 L901.9,337.7 L902.2,337.7 L902.6,337.7 L902.9,337.7 L903.2,337.7 L903.6,337.7 L903.9,337.7 L904.3,337.7 L904.6,337.7 L905.0,337.7 L905.3,337.7 L905.7,337.7 L906.0,337.7 L906.4,337.7 L906.7,337.7 L907.0,337.7 L907.4,337.7 L907.7,337.7 L908.1,337.7 L908.4,337.7 L908.8,337.7 L909.1,337.7 L909.5,337.7 L909.8,337.7 L910.1,337.7 L910.5,337.7 L910.8,337.7 L911.2,337.7 L911.5,337.7 L911.9,337.7 L912.2,337.7 L912.6,337.7 L912.9,337.7 L913.3,337.7 L913.6,337.7 L913.9,337.7 L914.3,337.8 L914.6,337.8 L915.0,337.8 L915.3,337.8 L915.7,337.8 L916.0,337.8 L916.4,337.8 L916.7,337.8 L917.0,337.8 L917.4,337.8 L917.7,337.8 L918.1,337.8 L918.4,337.8 L918.8,337.8 L919.1,337.8 L919.5,337.8 L919.8,337.8 L920.2,337.8 L920.5,337.8 L920.8,337.8 L921.2,337.8 L921.5,337.8 L921.9,337.8 L922.2,337.8 L922.6,337.8 L922.9,337.8 L923.3,337.8 L923.6,337.8 L923.9,337.8 L924.3,337.8 L924.6,337.8 L925.0,337.8 L925.3,337.8 L925.7,337.8 L926.0,337.8 L926.4,337.8 L926.7,337.8 L927.1,337.8 L927.4,337.8 L927.7,337.8 L928.1,337.8 L928.4,337.8 L928.8,337.8 L929.1,337.8 L929.5,337.8 L929.8,337.8 L930.2,337.8 L930.5,337.8 L930.8,337.8 L931.2,337.8 L931.5,337.8 L931.9,337.8 L932.2,337.8 L932.6,337.8 L932.9,337.8 L933.3,337.8 L933.6,337.8 L934.0,337.8 L934.3,337.8 L934.6,337.8 L935.0,337.8 L935.3,337.8 L935.7,337.8 L936.0,337.8 L936.4,337.8 L936.7,337.8 L937.1,337.8 L937.4,337.8 L937.8,337.8 L938.1,337.9 L938.4,337.9 L938.8,337.9 L939.1,337.9 L939.5,337.9 L939.8,337.9 L940.2,337.9 L940.5,337.9 L940.9,337.9 L941.2,337.9 L941.5,337.9 L941.9,337.9 L942.2,337.9 L942.6,337.9 L942.9,337.9 L943.3,337.9 L943.6,337.9 L944.0,337.9 L944.3,337.9 L944.6,337.9 L945.0,337.9 L945.3,337.9 L945.7,337.9 L946.0,337.9 L946.4,337.9 L946.7,337.9 L947.1,337.9 L947.4,337.9 L947.8,337.9 L948.1,337.9 L948.4,337.9 L948.8,337.9 L949.1,337.9 L949.5,337.9 L949.8,337.9 L950.2,337.9 L950.5,337.9 L950.9,337.9 L951.2,337.9 L951.5,337.9 L951.9,337.9 L952.2,337.9 L952.6,337.9 L952.9,337.9 L953.3,337.9 L953.6,337.9 L954.0,337.9 L954.3,337.9 L954.7,337.9 L955.0,337.9 L955.3,337.9 L955.7,337.9 L956.0,337.9 L956.4,337.9 L956.7,337.9 L957.1,337.9 L957.4,337.9 L957.8,337.9 L958.1,337.9 L958.5,337.9 L958.8,337.9 L959.1,337.9 L959.5,337.9 L959.8,337.9 L960.2,337.9 L960.5,337.9 L960.9,337.9 L961.2,337.9 L961.6,337.9 L961.9,337.9 L962.2,337.9 L962.6,337.9 L962.9,337.9 L963.3,337.9 L963.6,337.9 L964.0,337.9 L964.3,337.9 L964.7,337.9 L965.0,337.9 L965.4,337.9 L965.7,337.9 L966.0,337.9 L966.4,337.9 L966.7,337.9 L967.1,337.9 L967.4,337.9 L967.8,337.9 L968.1,337.9 L968.5,337.9 L968.8,337.9 L969.1,337.9 L969.5,337.9 L969.8,337.9 L970.2,337.9 L970.5,337.9 L970.9,337.9 L971.2,337.9 L971.6,337.9 L971.9,337.9 L972.2,337.9 L972.6,337.9 L972.9,337.9 L973.3,337.9 L973.6,337.9 L974.0,337.9 L974.3,337.9 L974.7,337.9 L975.0,337.9 L975.4,337.9 L975.7,337.9 L976.0,337.9 L976.4,337.9 L976.7,337.9 L977.1,337.9 L977.4,337.9 L977.8,337.9 L978.1,337.9 L978.5,337.9 L978.8,337.9 L979.1,337.9 L979.5,337.9 L979.8,337.9 L980.2,337.9 L980.5,337.9 L980.9,337.9 L981.2,338.0 L981.6,338.0 L981.9,338.0 L982.3,338.0 L982.6,338.0 L982.9,338.0 L983.3,338.0 L983.6,338.0 L984.0,338.0 L984.3,338.0 L984.7,338.0 L985.0,338.0 L985.4,338.0 L985.7,338.0 L986.0,338.0 L986.4,338.0 L986.7,338.0 L987.1,338.0 L987.4,338.0 L987.8,338.0 L988.1,338.0 L988.5,338.0 L988.8,338.0 L989.2,338.0 L989.5,338.0 L989.8,338.0 L990.2,338.0 L990.5,338.0 L990.9,338.0 L991.2,338.0 L991.6,338.0 L991.9,338.0 L992.3,338.0 L992.6,338.0 L993.0,338.0 L993.3,338.0 L993.6,338.0 L994.0,338.0 L994.3,338.0 L994.7,338.0 L995.0,338.0 L995.4,338.0 L995.7,338.0 L996.1,338.0 L996.4,338.0" fill="none" stroke="#ff0000" stroke-width="3.0" stroke-linejoin="round"/>
<g fill="#fff" stroke="#ff0000" stroke-width="1.5"><circle cx="582.4" cy="338.2" r="4.6"/><circle cx="583.8" cy="338.2" r="4.6"/><circle cx="585.2" cy="338.2" r="4.6"/><circle cx="586.5" cy="338.2" r="4.6"/><circle cx="587.9" cy="338.2" r="4.6"/><circle cx="589.3" cy="338.2" r="4.6"/><circle cx="590.7" cy="338.2" r="4.6"/><circle cx="592.1" cy="338.2" r="4.6"/><circle cx="593.4" cy="338.2" r="4.6"/><circle cx="594.8" cy="338.1" r="4.6"/><circle cx="596.2" cy="338.1" r="4.6"/><circle cx="597.6" cy="338.1" r="4.6"/><circle cx="599.0" cy="338.1" r="4.6"/><circle cx="600.3" cy="338.0" r="4.6"/><circle cx="601.7" cy="338.0" r="4.6"/><circle cx="603.1" cy="337.9" r="4.6"/><circle cx="604.5" cy="337.9" r="4.6"/><circle cx="605.9" cy="337.8" r="4.6"/><circle cx="607.2" cy="337.8" r="4.6"/><circle cx="608.6" cy="337.7" r="4.6"/><circle cx="610.0" cy="337.7" r="4.6"/><circle cx="611.4" cy="337.4" r="4.6"/><circle cx="612.8" cy="336.9" r="4.6"/><circle cx="614.1" cy="336.1" r="4.6"/><circle cx="615.5" cy="335.2" r="4.6"/><circle cx="616.9" cy="334.3" r="4.6"/><circle cx="618.3" cy="333.5" r="4.6"/><circle cx="619.7" cy="332.9" r="4.6"/><circle cx="621.0" cy="332.3" r="4.6"/><circle cx="622.4" cy="331.8" r="4.6"/><circle cx="623.8" cy="331.2" r="4.6"/><circle cx="625.2" cy="330.7" r="4.6"/><circle cx="626.6" cy="330.2" r="4.6"/><circle cx="627.9" cy="329.6" r="4.6"/><circle cx="629.3" cy="329.0" r="4.6"/><circle cx="630.7" cy="328.4" r="4.6"/><circle cx="632.1" cy="327.8" r="4.6"/><circle cx="633.5" cy="327.1" r="4.6"/><circle cx="634.8" cy="326.3" r="4.6"/><circle cx="636.2" cy="325.4" r="4.6"/><circle cx="637.6" cy="324.2" r="4.6"/><circle cx="639.0" cy="322.8" r="4.6"/><circle cx="640.4" cy="321.2" r="4.6"/><circle cx="641.7" cy="319.5" r="4.6"/><circle cx="643.1" cy="317.5" r="4.6"/><circle cx="644.5" cy="315.4" r="4.6"/><circle cx="645.9" cy="312.8" r="4.6"/><circle cx="647.3" cy="309.7" r="4.6"/><circle cx="648.6" cy="306.0" r="4.6"/><circle cx="650.0" cy="301.6" r="4.6"/><circle cx="651.4" cy="295.9" r="4.6"/><circle cx="652.8" cy="290.3" r="4.6"/><circle cx="654.2" cy="285.1" r="4.6"/><circle cx="655.5" cy="278.7" r="4.6"/><circle cx="656.9" cy="270.5" r="4.6"/><circle cx="658.3" cy="261.0" r="4.6"/><circle cx="659.7" cy="250.6" r="4.6"/><circle cx="661.1" cy="239.3" r="4.6"/><circle cx="662.4" cy="225.2" r="4.6"/><circle cx="663.8" cy="210.1" r="4.6"/><circle cx="665.2" cy="198.2" r="4.6"/><circle cx="666.6" cy="184.0" r="4.6"/><circle cx="668.0" cy="167.4" r="4.6"/><circle cx="669.3" cy="149.4" r="4.6"/><circle cx="670.7" cy="125.3" r="4.6"/><circle cx="672.1" cy="111.1" r="4.6"/><circle cx="673.5" cy="97.8" r="4.6"/><circle cx="674.9" cy="84.3" r="4.6"/><circle cx="676.2" cy="74.5" r="4.6"/><circle cx="677.6" cy="67.0" r="4.6"/><circle cx="679.0" cy="60.5" r="4.6"/><circle cx="680.4" cy="58.1" r="4.6"/><circle cx="681.8" cy="59.1" r="4.6"/><circle cx="683.1" cy="61.4" r="4.6"/><circle cx="684.5" cy="65.3" r="4.6"/><circle cx="685.9" cy="71.5" r="4.6"/><circle cx="687.3" cy="76.1" r="4.6"/><circle cx="688.7" cy="80.3" r="4.6"/><circle cx="690.0" cy="85.0" r="4.6"/><circle cx="691.4" cy="89.7" r="4.6"/><circle cx="692.8" cy="93.8" r="4.6"/><circle cx="694.2" cy="97.7" r="4.6"/><circle cx="695.6" cy="100.7" r="4.6"/><circle cx="696.9" cy="103.0" r="4.6"/><circle cx="698.3" cy="105.1" r="4.6"/><circle cx="699.7" cy="107.1" r="4.6"/><circle cx="701.1" cy="109.3" r="4.6"/><circle cx="702.5" cy="111.4" r="4.6"/><circle cx="703.8" cy="113.6" r="4.6"/><circle cx="705.2" cy="115.9" r="4.6"/><circle cx="706.6" cy="118.4" r="4.6"/><circle cx="708.0" cy="121.0" r="4.6"/><circle cx="709.4" cy="124.2" r="4.6"/><circle cx="710.7" cy="128.4" r="4.6"/><circle cx="712.1" cy="133.5" r="4.6"/><circle cx="713.5" cy="139.8" r="4.6"/><circle cx="714.9" cy="147.4" r="4.6"/><circle cx="716.3" cy="156.4" r="4.6"/><circle cx="717.6" cy="163.7" r="4.6"/><circle cx="719.0" cy="168.7" r="4.6"/><circle cx="720.4" cy="177.0" r="4.6"/><circle cx="721.8" cy="188.6" r="4.6"/><circle cx="723.2" cy="195.7" r="4.6"/><circle cx="724.5" cy="205.0" r="4.6"/><circle cx="725.9" cy="219.0" r="4.6"/><circle cx="727.3" cy="229.4" r="4.6"/><circle cx="728.7" cy="234.9" r="4.6"/><circle cx="730.1" cy="241.4" r="4.6"/><circle cx="731.4" cy="249.3" r="4.6"/><circle cx="732.8" cy="258.4" r="4.6"/><circle cx="734.2" cy="264.5" r="4.6"/><circle cx="735.6" cy="269.5" r="4.6"/><circle cx="737.0" cy="274.3" r="4.6"/><circle cx="738.3" cy="278.9" r="4.6"/><circle cx="739.7" cy="283.7" r="4.6"/><circle cx="741.1" cy="288.1" r="4.6"/><circle cx="742.5" cy="291.5" r="4.6"/><circle cx="743.9" cy="294.4" r="4.6"/><circle cx="745.2" cy="296.9" r="4.6"/><circle cx="746.6" cy="299.1" r="4.6"/><circle cx="748.0" cy="301.1" r="4.6"/><circle cx="749.4" cy="303.0" r="4.6"/><circle cx="750.8" cy="304.6" r="4.6"/><circle cx="752.1" cy="305.9" r="4.6"/><circle cx="753.5" cy="306.7" r="4.6"/><circle cx="754.9" cy="307.3" r="4.6"/><circle cx="756.3" cy="307.8" r="4.6"/><circle cx="757.7" cy="308.2" r="4.6"/><circle cx="759.0" cy="308.6" r="4.6"/><circle cx="760.4" cy="308.9" r="4.6"/><circle cx="761.8" cy="309.2" r="4.6"/><circle cx="763.2" cy="309.4" r="4.6"/><circle cx="764.6" cy="309.7" r="4.6"/><circle cx="765.9" cy="309.9" r="4.6"/><circle cx="767.3" cy="310.1" r="4.6"/><circle cx="768.7" cy="310.2" r="4.6"/><circle cx="770.1" cy="310.4" r="4.6"/><circle cx="771.5" cy="310.6" r="4.6"/><circle cx="772.8" cy="310.8" r="4.6"/><circle cx="774.2" cy="311.1" r="4.6"/><circle cx="775.6" cy="311.3" r="4.6"/><circle cx="777.0" cy="311.6" r="4.6"/><circle cx="778.4" cy="311.9" r="4.6"/><circle cx="779.7" cy="312.2" r="4.6"/><circle cx="781.1" cy="312.6" r="4.6"/><circle cx="782.5" cy="313.1" r="4.6"/><circle cx="783.9" cy="313.8" r="4.6"/><circle cx="785.3" cy="314.5" r="4.6"/><circle cx="786.6" cy="315.3" r="4.6"/><circle cx="788.0" cy="316.1" r="4.6"/><circle cx="789.4" cy="316.9" r="4.6"/><circle cx="790.8" cy="317.9" r="4.6"/><circle cx="792.2" cy="318.9" r="4.6"/><circle cx="793.5" cy="320.0" r="4.6"/><circle cx="794.9" cy="321.1" r="4.6"/><circle cx="796.3" cy="322.2" r="4.6"/><circle cx="797.7" cy="323.3" r="4.6"/><circle cx="799.1" cy="324.4" r="4.6"/><circle cx="800.4" cy="325.6" r="4.6"/><circle cx="801.8" cy="326.6" r="4.6"/><circle cx="803.2" cy="327.6" r="4.6"/><circle cx="804.6" cy="328.4" r="4.6"/><circle cx="806.0" cy="329.0" r="4.6"/><circle cx="807.3" cy="329.5" r="4.6"/><circle cx="808.7" cy="330.0" r="4.6"/><circle cx="810.1" cy="330.5" r="4.6"/><circle cx="811.5" cy="330.9" r="4.6"/><circle cx="812.9" cy="331.3" r="4.6"/><circle cx="814.2" cy="331.7" r="4.6"/><circle cx="815.6" cy="332.1" r="4.6"/><circle cx="817.0" cy="332.5" r="4.6"/><circle cx="818.4" cy="332.8" r="4.6"/><circle cx="819.8" cy="333.2" r="4.6"/><circle cx="821.1" cy="333.5" r="4.6"/><circle cx="822.5" cy="333.8" r="4.6"/><circle cx="823.9" cy="334.1" r="4.6"/><circle cx="825.3" cy="334.4" r="4.6"/><circle cx="826.7" cy="334.6" r="4.6"/><circle cx="828.0" cy="334.8" r="4.6"/><circle cx="829.4" cy="335.0" r="4.6"/><circle cx="830.8" cy="335.2" r="4.6"/><circle cx="832.2" cy="335.4" r="4.6"/><circle cx="833.6" cy="335.6" r="4.6"/><circle cx="834.9" cy="335.7" r="4.6"/><circle cx="836.3" cy="335.9" r="4.6"/><circle cx="837.7" cy="336.0" r="4.6"/><circle cx="839.1" cy="336.2" r="4.6"/><circle cx="840.5" cy="336.3" r="4.6"/><circle cx="841.8" cy="336.4" r="4.6"/><circle cx="843.2" cy="336.5" r="4.6"/><circle cx="844.6" cy="336.5" r="4.6"/><circle cx="846.0" cy="336.6" r="4.6"/><circle cx="847.4" cy="336.6" r="4.6"/><circle cx="848.7" cy="336.7" r="4.6"/><circle cx="850.1" cy="336.7" r="4.6"/><circle cx="851.5" cy="336.8" r="4.6"/><circle cx="852.9" cy="336.8" r="4.6"/><circle cx="854.3" cy="336.9" r="4.6"/><circle cx="855.6" cy="336.9" r="4.6"/><circle cx="857.0" cy="337.0" r="4.6"/><circle cx="858.4" cy="337.0" r="4.6"/><circle cx="859.8" cy="337.0" r="4.6"/><circle cx="861.2" cy="337.1" r="4.6"/><circle cx="862.5" cy="337.1" r="4.6"/><circle cx="863.9" cy="337.2" r="4.6"/><circle cx="865.3" cy="337.2" r="4.6"/><circle cx="866.7" cy="337.2" r="4.6"/><circle cx="868.1" cy="337.3" r="4.6"/><circle cx="869.4" cy="337.3" r="4.6"/><circle cx="870.8" cy="337.3" r="4.6"/><circle cx="872.2" cy="337.3" r="4.6"/><circle cx="873.6" cy="337.4" r="4.6"/><circle cx="875.0" cy="337.4" r="4.6"/><circle cx="876.3" cy="337.4" r="4.6"/><circle cx="877.7" cy="337.4" r="4.6"/><circle cx="879.1" cy="337.5" r="4.6"/><circle cx="880.5" cy="337.5" r="4.6"/><circle cx="881.9" cy="337.5" r="4.6"/><circle cx="883.2" cy="337.5" r="4.6"/><circle cx="884.6" cy="337.5" r="4.6"/><circle cx="886.0" cy="337.6" r="4.6"/><circle cx="887.4" cy="337.6" r="4.6"/><circle cx="888.8" cy="337.6" r="4.6"/><circle cx="890.1" cy="337.6" r="4.6"/><circle cx="891.5" cy="337.6" r="4.6"/><circle cx="892.9" cy="337.6" r="4.6"/><circle cx="894.3" cy="337.6" r="4.6"/><circle cx="895.7" cy="337.6" r="4.6"/><circle cx="897.0" cy="337.7" r="4.6"/><circle cx="898.4" cy="337.7" r="4.6"/><circle cx="899.8" cy="337.7" r="4.6"/><circle cx="901.2" cy="337.7" r="4.6"/><circle cx="902.6" cy="337.7" r="4.6"/><circle cx="903.9" cy="337.7" r="4.6"/><circle cx="905.3" cy="337.7" r="4.6"/><circle cx="906.7" cy="337.7" r="4.6"/><circle cx="908.1" cy="337.7" r="4.6"/><circle cx="909.5" cy="337.7" r="4.6"/><circle cx="910.8" cy="337.7" r="4.6"/><circle cx="912.2" cy="337.7" r="4.6"/><circle cx="913.6" cy="337.7" r="4.6"/><circle cx="915.0" cy="337.8" r="4.6"/><circle cx="916.4" cy="337.8" r="4.6"/><circle cx="917.7" cy="337.8" r="4.6"/><circle cx="919.1" cy="337.8" r="4.6"/><circle cx="920.5" cy="337.8" r="4.6"/><circle cx="921.9" cy="337.8" r="4.6"/><circle cx="923.3" cy="337.8" r="4.6"/><circle cx="924.6" cy="337.8" r="4.6"/><circle cx="926.0" cy="337.8" r="4.6"/><circle cx="927.4" cy="337.8" r="4.6"/><circle cx="928.8" cy="337.8" r="4.6"/><circle cx="930.2" cy="337.8" r="4.6"/><circle cx="931.5" cy="337.8" r="4.6"/><circle cx="932.9" cy="337.8" r="4.6"/><circle cx="934.3" cy="337.8" r="4.6"/><circle cx="935.7" cy="337.8" r="4.6"/><circle cx="937.1" cy="337.8" r="4.6"/><circle cx="938.4" cy="337.9" r="4.6"/><circle cx="939.8" cy="337.9" r="4.6"/><circle cx="941.2" cy="337.9" r="4.6"/><circle cx="942.6" cy="337.9" r="4.6"/><circle cx="944.0" cy="337.9" r="4.6"/><circle cx="945.3" cy="337.9" r="4.6"/><circle cx="946.7" cy="337.9" r="4.6"/><circle cx="948.1" cy="337.9" r="4.6"/><circle cx="949.5" cy="337.9" r="4.6"/><circle cx="950.9" cy="337.9" r="4.6"/><circle cx="952.2" cy="337.9" r="4.6"/><circle cx="953.6" cy="337.9" r="4.6"/><circle cx="955.0" cy="337.9" r="4.6"/><circle cx="956.4" cy="337.9" r="4.6"/><circle cx="957.8" cy="337.9" r="4.6"/><circle cx="959.1" cy="337.9" r="4.6"/><circle cx="960.5" cy="337.9" r="4.6"/><circle cx="961.9" cy="337.9" r="4.6"/><circle cx="963.3" cy="337.9" r="4.6"/><circle cx="964.7" cy="337.9" r="4.6"/><circle cx="966.0" cy="337.9" r="4.6"/><circle cx="967.4" cy="337.9" r="4.6"/><circle cx="968.8" cy="337.9" r="4.6"/><circle cx="970.2" cy="337.9" r="4.6"/><circle cx="971.6" cy="337.9" r="4.6"/><circle cx="972.9" cy="337.9" r="4.6"/><circle cx="974.3" cy="337.9" r="4.6"/><circle cx="975.7" cy="337.9" r="4.6"/><circle cx="977.1" cy="337.9" r="4.6"/><circle cx="978.5" cy="337.9" r="4.6"/><circle cx="979.8" cy="337.9" r="4.6"/><circle cx="981.2" cy="338.0" r="4.6"/><circle cx="982.6" cy="338.0" r="4.6"/><circle cx="984.0" cy="338.0" r="4.6"/><circle cx="985.4" cy="338.0" r="4.6"/><circle cx="986.7" cy="338.0" r="4.6"/><circle cx="988.1" cy="338.0" r="4.6"/><circle cx="989.5" cy="338.0" r="4.6"/><circle cx="990.9" cy="338.0" r="4.6"/><circle cx="992.3" cy="338.0" r="4.6"/><circle cx="993.6" cy="338.0" r="4.6"/><circle cx="995.0" cy="338.0" r="4.6"/><circle cx="996.4" cy="338.0" r="4.6"/></g>
<g fill="#646464"><circle cx="582.4" cy="340.5" r="3.7"/><circle cx="594.8" cy="339.7" r="3.7"/><circle cx="607.0" cy="336.8" r="3.7"/><circle cx="617.0" cy="328.6" r="3.7"/><circle cx="630.1" cy="325.2" r="3.7"/><circle cx="641.2" cy="318.2" r="3.7"/><circle cx="648.9" cy="305.2" r="3.7"/><circle cx="653.2" cy="291.6" r="3.7"/><circle cx="656.0" cy="277.8" r="3.7"/><circle cx="658.2" cy="264.0" r="3.7"/><circle cx="660.6" cy="250.4" r="3.7"/><circle cx="661.9" cy="236.3" r="3.7"/><circle cx="663.3" cy="222.4" r="3.7"/><circle cx="664.8" cy="208.6" r="3.7"/><circle cx="666.2" cy="195.0" r="3.7"/><circle cx="666.9" cy="180.9" r="3.7"/><circle cx="668.0" cy="166.5" r="3.7"/><circle cx="668.9" cy="152.7" r="3.7"/><circle cx="669.8" cy="139.1" r="3.7"/><circle cx="670.4" cy="125.0" r="3.7"/><circle cx="671.5" cy="111.4" r="3.7"/><circle cx="672.7" cy="97.6" r="3.7"/><circle cx="673.8" cy="83.2" r="3.7"/><circle cx="675.5" cy="69.9" r="3.7"/><circle cx="679.3" cy="58.3" r="3.7"/><circle cx="683.1" cy="72.2" r="3.7"/><circle cx="685.8" cy="86.3" r="3.7"/><circle cx="688.9" cy="99.6" r="3.7"/><circle cx="693.4" cy="111.7" r="3.7"/><circle cx="700.5" cy="115.9" r="3.7"/><circle cx="707.2" cy="128.1" r="3.7"/><circle cx="709.6" cy="141.1" r="3.7"/><circle cx="711.3" cy="155.5" r="3.7"/><circle cx="713.4" cy="169.1" r="3.7"/><circle cx="714.7" cy="182.9" r="3.7"/><circle cx="716.1" cy="197.0" r="3.7"/><circle cx="717.6" cy="210.9" r="3.7"/><circle cx="719.2" cy="224.7" r="3.7"/><circle cx="721.2" cy="238.5" r="3.7"/><circle cx="723.6" cy="252.4" r="3.7"/><circle cx="725.2" cy="266.2" r="3.7"/><circle cx="728.1" cy="279.5" r="3.7"/><circle cx="731.4" cy="292.8" r="3.7"/><circle cx="737.0" cy="305.2" r="3.7"/><circle cx="744.3" cy="315.1" r="3.7"/><circle cx="758.1" cy="321.9" r="3.7"/><circle cx="772.6" cy="323.8" r="3.7"/><circle cx="782.8" cy="327.5" r="3.7"/><circle cx="796.2" cy="334.6" r="3.7"/><circle cx="810.1" cy="337.1" r="3.7"/><circle cx="824.3" cy="337.7" r="3.7"/><circle cx="838.1" cy="338.2" r="3.7"/><circle cx="851.9" cy="338.5" r="3.7"/><circle cx="865.9" cy="338.5" r="3.7"/><circle cx="879.5" cy="338.5" r="3.7"/><circle cx="893.6" cy="338.5" r="3.7"/><circle cx="907.5" cy="338.5" r="3.7"/><circle cx="921.5" cy="338.5" r="3.7"/><circle cx="935.3" cy="338.5" r="3.7"/><circle cx="949.5" cy="338.5" r="3.7"/><circle cx="963.4" cy="338.5" r="3.7"/><circle cx="977.2" cy="338.5" r="3.7"/><circle cx="991.4" cy="338.5" r="3.7"/></g>
</g>
<line x1="720.7" y1="29.8" x2="720.7" y2="340.5" stroke="#000" stroke-width="2.5"/>
<line x1="636.0" y1="43.1" x2="670.4" y2="43.1" stroke="#808000" stroke-width="3.6" stroke-linecap="round"/>
<path d="M616.7,43.1 L636.0,38.0 L636.0,48.2 Z" fill="#808000" stroke="#808000" stroke-width="1.4" stroke-linejoin="round"/>
<line x1="736.2" y1="43.1" x2="891.7" y2="43.1" stroke="#000" stroke-width="3.6" stroke-linecap="round"/>
<path d="M911.2,43.1 L891.7,38.0 L891.7,48.2 Z" fill="#000" stroke="#000" stroke-width="1.4" stroke-linejoin="round"/>
<rect x="825.8" y="64.3" width="163.9" height="142.5" fill="#fff" stroke="#707070" stroke-width="1.2"/>
<g font-family="Liberation Sans, Arial, sans-serif" font-size="16.6" fill="#000">
<text x="839.2" y="89.2">OLED</text>
<text x="886.0" y="109.9">DBR 2 Pairs</text>
<text x="886.0" y="130.6" font-style="italic">Simulation</text>
<text x="839.2" y="151.3">Rhodamin 6G</text>
<text x="886.0" y="172.0">Absorption</text>
<text x="886.0" y="192.7">Emission</text>
</g>
<line x1="838.1" y1="104.3" x2="876.1" y2="104.3" stroke="#ff0000" stroke-width="3.6" stroke-linecap="round"/>
<g fill="#fff" stroke="#ff0000" stroke-width="1.5"><circle cx="857.1" cy="104.3" r="4.6"/></g>
<circle cx="838.7" cy="125.0" r="3.6" fill="#646464"/>
<circle cx="852.7" cy="125.0" r="3.6" fill="#646464"/>
<circle cx="866.7" cy="125.0" r="3.6" fill="#646464"/>
<line x1="838.7" y1="166.4" x2="875.5" y2="166.4" stroke="#a0a0a0" stroke-width="4.2" stroke-linecap="round"/>
<circle cx="857.1" cy="187.1" r="4.2" fill="#fff" stroke="#a0a0a0" stroke-width="1"/>
<text x="604.8" y="91.2" font-family="Liberation Serif, serif" font-size="23.5" fill="#000">b</text>
<rect x="582.4" y="29.8" width="414.0" height="310.7" fill="none" stroke="#000" stroke-width="1.8"/>
<path d="M582.4,340.5 v5.0 M596.2,340.5 v3.2 M596.2,29.8 v3.3 M610.0,340.5 v3.2 M610.0,29.8 v3.3 M623.8,340.5 v3.2 M623.8,29.8 v3.3 M637.6,340.5 v3.2 M637.6,29.8 v3.3 M651.4,340.5 v5.0 M651.4,29.8 v5.2 M665.2,340.5 v3.2 M665.2,29.8 v3.3 M679.0,340.5 v3.2 M679.0,29.8 v3.3 M692.8,340.5 v3.2 M692.8,29.8 v3.3 M706.6,340.5 v3.2 M706.6,29.8 v3.3 M720.4,340.5 v5.0 M720.4,29.8 v5.2 M734.2,340.5 v3.2 M734.2,29.8 v3.3 M748.0,340.5 v3.2 M748.0,29.8 v3.3 M761.8,340.5 v3.2 M761.8,29.8 v3.3 M775.6,340.5 v3.2 M775.6,29.8 v3.3 M789.4,340.5 v5.0 M789.4,29.8 v5.2 M803.2,340.5 v3.2 M803.2,29.8 v3.3 M817.0,340.5 v3.2 M817.0,29.8 v3.3 M830.8,340.5 v3.2 M830.8,29.8 v3.3 M844.6,340.5 v3.2 M844.6,29.8 v3.3 M858.4,340.5 v5.0 M858.4,29.8 v5.2 M872.2,340.5 v3.2 M872.2,29.8 v3.3 M886.0,340.5 v3.2 M886.0,29.8 v3.3 M899.8,340.5 v3.2 M899.8,29.8 v3.3 M913.6,340.5 v3.2 M913.6,29.8 v3.3 M927.4,340.5 v5.0 M927.4,29.8 v5.2 M941.2,340.5 v3.2 M941.2,29.8 v3.3 M955.0,340.5 v3.2 M955.0,29.8 v3.3 M968.8,340.5 v3.2 M968.8,29.8 v3.3 M982.6,340.5 v3.2 M982.6,29.8 v3.3 M996.4,340.5 v5.0 M582.4,340.5 h-5.8 M582.4,312.3 h-3.2 M996.4,312.3 h-3.3 M582.4,284.0 h-5.8 M996.4,284.0 h-5.5 M582.4,255.8 h-3.2 M996.4,255.8 h-3.3 M582.4,227.5 h-5.8 M996.4,227.5 h-5.5 M582.4,199.3 h-3.2 M996.4,199.3 h-3.3 M582.4,171.0 h-5.8 M996.4,171.0 h-5.5 M582.4,142.8 h-3.2 M996.4,142.8 h-3.3 M582.4,114.5 h-5.8 M996.4,114.5 h-5.5 M582.4,86.3 h-3.2 M996.4,86.3 h-3.3 M582.4,58.0 h-5.8 M996.4,58.0 h-5.5 M582.4,29.8 h-3.2" stroke="#000" stroke-width="1.5" fill="none"/>
<g font-family="Liberation Sans, Arial, sans-serif" font-size="19.3" fill="#000"><text x="582.4" y="365.1" text-anchor="middle">450</text><text x="651.4" y="365.1" text-anchor="middle">500</text><text x="720.4" y="365.1" text-anchor="middle">550</text><text x="789.4" y="365.1" text-anchor="middle">600</text><text x="858.4" y="365.1" text-anchor="middle">650</text><text x="927.4" y="365.1" text-anchor="middle">700</text><text x="996.4" y="365.1" text-anchor="middle">750</text><text x="573.4" y="346.4" text-anchor="end">0.0</text><text x="573.4" y="289.9" text-anchor="end">0.2</text><text x="573.4" y="233.4" text-anchor="end">0.4</text><text x="573.4" y="176.9" text-anchor="end">0.6</text><text x="573.4" y="120.4" text-anchor="end">0.8</text><text x="573.4" y="63.9" text-anchor="end">1.0</text></g>
<text x="775.6" y="392.1" text-anchor="middle" font-family="Liberation Sans, Arial, sans-serif" font-size="18.6" fill="#000">Wavelength [nm]</text>
<text transform="translate(530.1,164.7) rotate(-90)" text-anchor="middle" font-family="Liberation Sans, Arial, sans-serif" font-size="19.9" fill="#000">Intensity a.u.</text>
<g font-family="Liberation Sans, Arial, sans-serif" font-weight="bold" font-size="14.35"><text x="584.7" y="21.6" fill="#808000">OLED illumination</text><text x="723.0" y="21.6" fill="#000">Photodiode, meassurement of biosignal</text></g>
<clipPath id="clipc"><rect x="76.0" y="404.7" width="414.6" height="311.59999999999997"/></clipPath>
<line x1="145.1" y1="404.7" x2="145.1" y2="716.3" stroke="#c8c8c8" stroke-width="1"/>
<line x1="214.2" y1="404.7" x2="214.2" y2="716.3" stroke="#c8c8c8" stroke-width="1"/>
<line x1="283.3" y1="404.7" x2="283.3" y2="716.3" stroke="#c8c8c8" stroke-width="1"/>
<line x1="352.4" y1="404.7" x2="352.4" y2="716.3" stroke="#c8c8c8" stroke-width="1"/>
<line x1="421.5" y1="404.7" x2="421.5" y2="716.3" stroke="#c8c8c8" stroke-width="1"/>
<line x1="76.0" y1="659.6" x2="490.6" y2="659.6" stroke="#c8c8c8" stroke-width="1"/>
<line x1="76.0" y1="603.0" x2="490.6" y2="603.0" stroke="#c8c8c8" stroke-width="1"/>
<line x1="76.0" y1="546.3" x2="490.6" y2="546.3" stroke="#c8c8c8" stroke-width="1"/>
<line x1="76.0" y1="489.7" x2="490.6" y2="489.7" stroke="#c8c8c8" stroke-width="1"/>
<line x1="76.0" y1="433.0" x2="490.6" y2="433.0" stroke="#c8c8c8" stroke-width="1"/>
<g clip-path="url(#clipc)">
<path d="M76.0,708.1 L77.4,707.7 L78.8,707.2 L80.1,706.7 L81.5,706.2 L82.9,705.7 L84.3,705.2 L85.7,704.7 L87.1,704.1 L88.4,703.6 L89.8,703.0 L91.2,702.4 L92.6,701.8 L94.0,701.2 L95.3,700.5 L96.7,699.8 L98.1,699.0 L99.5,698.1 L100.9,697.2 L102.3,696.1 L103.6,694.9 L105.0,693.7 L106.4,692.4 L107.8,690.9 L109.2,689.3 L110.5,687.5 L111.9,685.5 L113.3,683.4 L114.7,681.2 L116.1,678.8 L117.5,676.1 L118.8,673.4 L120.2,670.4 L121.6,667.1 L123.0,663.5 L124.4,659.8 L125.8,656.2 L127.1,652.8 L128.5,649.5 L129.9,646.3 L131.3,643.3 L132.7,640.5 L134.0,638.1 L135.4,636.2 L136.8,634.5 L138.2,633.0 L139.6,631.5 L141.0,629.8 L142.3,628.1 L143.7,626.3 L145.1,624.5 L146.5,622.5 L147.9,620.5 L149.2,618.3 L150.6,615.9 L152.0,613.2 L153.4,609.9 L154.8,606.0 L156.2,601.2 L157.5,595.3 L158.9,588.6 L160.3,581.5 L161.7,573.6 L163.1,564.5 L164.4,554.1 L165.8,543.1 L167.2,532.2 L168.6,521.4 L170.0,510.4 L171.4,499.6 L172.7,489.7 L174.1,480.3 L175.5,471.2 L176.9,462.8 L178.3,455.7 L179.7,449.6 L181.0,444.3 L182.4,440.1 L183.8,436.3 L185.2,433.5 L186.6,433.3 L187.9,435.5 L189.3,438.7 L190.7,443.6 L192.1,450.9 L193.5,460.7 L194.9,476.0 L196.2,491.0 L197.6,504.5 L199.0,518.0 L200.4,532.4 L201.8,546.0 L203.1,555.7 L204.5,566.5 L205.9,580.9 L207.3,597.8 L208.7,616.8 L210.1,631.0 L211.4,642.8 L212.8,653.1 L214.2,662.3 L215.6,670.3 L217.0,677.1 L218.3,683.1 L219.7,688.2 L221.1,692.1 L222.5,695.2 L223.9,697.9 L225.3,700.4 L226.6,702.9 L228.0,705.5 L229.4,707.1 L230.8,708.3 L232.2,709.3 L233.5,710.1 L234.9,710.9 L236.3,711.5 L237.7,712.1 L239.1,712.7 L240.5,713.1 L241.8,713.5 L243.2,713.7 L244.6,713.9 L246.0,714.1 L247.4,714.3 L248.8,714.4 L250.1,714.5 L251.5,714.6 L252.9,714.7 L254.3,714.8 L255.7,714.8 L257.0,714.9 L258.4,715.0 L259.8,715.1 L261.2,715.1 L262.6,715.2 L264.0,715.2 L265.3,715.3 L266.7,715.4 L268.1,715.4 L269.5,715.5 L270.9,715.5 L272.2,715.5 L273.6,715.6 L275.0,715.6 L276.4,715.6 L277.8,715.7 L279.2,715.7 L280.5,715.7 L281.9,715.7 L283.3,715.7 L284.7,715.7 L286.1,715.8 L287.4,715.8 L288.8,715.8 L290.2,715.8 L291.6,715.8 L293.0,715.8 L294.4,715.8 L295.7,715.8 L297.1,715.8 L298.5,715.8 L299.9,715.8 L301.3,715.8 L302.6,715.8 L304.0,715.9 L305.4,715.9 L306.8,715.9 L308.2,715.9 L309.6,715.9 L310.9,715.9 L312.3,715.9 L313.7,715.9 L315.1,715.9 L316.5,715.9 L317.9,715.9 L319.2,715.9 L320.6,715.9 L322.0,715.9 L323.4,716.0 L324.8,716.0 L326.1,716.0 L327.5,716.0 L328.9,716.0 L330.3,716.0 L331.7,716.0 L333.1,716.0 L334.4,716.0 L335.8,716.0 L337.2,716.0 L338.6,716.0 L340.0,716.0 L341.3,716.0 L342.7,716.0 L344.1,716.0 L345.5,716.1 L346.9,716.1 L348.3,716.1 L349.6,716.1 L351.0,716.1 L352.4,716.1 L353.8,716.1 L355.2,716.1 L356.5,716.1 L357.9,716.1 L359.3,716.1 L360.7,716.1 L362.1,716.1 L363.5,716.1 L364.8,716.1 L366.2,716.1 L367.6,716.1 L369.0,716.1 L370.4,716.1 L371.7,716.1 L373.1,716.1 L374.5,716.1 L375.9,716.2 L377.3,716.2 L378.7,716.2 L380.0,716.2 L381.4,716.2 L382.8,716.2 L384.2,716.2 L385.6,716.2 L387.0,716.2 L388.3,716.2 L389.7,716.2 L391.1,716.2 L392.5,716.2 L393.9,716.2 L395.2,716.2 L396.6,716.2 L398.0,716.2 L399.4,716.2 L400.8,716.2 L402.2,716.2 L403.5,716.2 L404.9,716.2 L406.3,716.2 L407.7,716.2 L409.1,716.2 L410.4,716.2 L411.8,716.2 L413.2,716.2 L414.6,716.2 L416.0,716.2 L417.4,716.2 L418.7,716.2 L420.1,716.2 L421.5,716.3 L422.9,716.3 L424.3,716.3 L425.6,716.3 L427.0,716.3 L428.4,716.3 L429.8,716.3 L431.2,716.3 L432.6,716.3 L433.9,716.3 L435.3,716.3 L436.7,716.3 L438.1,716.3 L439.5,716.3 L440.8,716.3 L442.2,716.3 L443.6,716.3 L445.0,716.3 L446.4,716.3 L447.8,716.3 L449.1,716.3 L450.5,716.3 L451.9,716.3 L453.3,716.3 L454.7,716.3 L456.1,716.3 L457.4,716.3 L458.8,716.3 L460.2,716.3 L461.6,716.3 L463.0,716.3 L464.3,716.3 L465.7,716.3 L467.1,716.3 L468.5,716.3 L469.9,716.3 L471.3,716.3 L472.6,716.3 L474.0,716.3 L475.4,716.3 L476.8,716.3 L478.2,716.3 L479.5,716.3 L480.9,716.3 L482.3,716.3 L483.7,716.3 L485.1,716.3 L486.5,716.3 L487.8,716.3 L489.2,716.3 L490.6,716.3" fill="none" stroke="#a0a0a0" stroke-width="4" stroke-linejoin="round"/>
<g fill="#fff" stroke="#a0a0a0" stroke-width="1"><circle cx="127.1" cy="715.2" r="4.4"/><circle cx="128.7" cy="715.2" r="4.4"/><circle cx="130.2" cy="715.2" r="4.4"/><circle cx="131.7" cy="715.2" r="4.4"/><circle cx="133.2" cy="715.2" r="4.4"/><circle cx="134.7" cy="715.2" r="4.4"/><circle cx="136.3" cy="715.2" r="4.4"/><circle cx="137.8" cy="715.2" r="4.4"/><circle cx="139.3" cy="715.2" r="4.4"/><circle cx="140.8" cy="715.2" r="4.4"/><circle cx="142.3" cy="715.1" r="4.4"/><circle cx="143.9" cy="715.0" r="4.4"/><circle cx="145.4" cy="715.0" r="4.4"/><circle cx="146.9" cy="714.9" r="4.4"/><circle cx="148.4" cy="714.8" r="4.4"/><circle cx="149.9" cy="714.7" r="4.4"/><circle cx="151.5" cy="714.6" r="4.4"/><circle cx="153.0" cy="714.4" r="4.4"/><circle cx="154.5" cy="714.2" r="4.4"/><circle cx="156.0" cy="713.8" r="4.4"/><circle cx="157.5" cy="713.3" r="4.4"/><circle cx="159.1" cy="712.7" r="4.4"/><circle cx="160.6" cy="712.1" r="4.4"/><circle cx="162.1" cy="711.1" r="4.4"/><circle cx="163.6" cy="709.9" r="4.4"/><circle cx="165.1" cy="708.3" r="4.4"/><circle cx="166.7" cy="706.6" r="4.4"/><circle cx="168.2" cy="704.3" r="4.4"/><circle cx="169.7" cy="701.6" r="4.4"/><circle cx="171.2" cy="698.1" r="4.4"/><circle cx="172.7" cy="693.4" r="4.4"/><circle cx="174.3" cy="686.5" r="4.4"/><circle cx="175.8" cy="678.3" r="4.4"/><circle cx="177.3" cy="668.4" r="4.4"/><circle cx="178.8" cy="660.0" r="4.4"/><circle cx="180.3" cy="651.9" r="4.4"/><circle cx="181.9" cy="642.2" r="4.4"/><circle cx="183.4" cy="631.2" r="4.4"/><circle cx="184.9" cy="619.6" r="4.4"/><circle cx="186.4" cy="607.4" r="4.4"/><circle cx="187.9" cy="594.2" r="4.4"/><circle cx="189.5" cy="579.7" r="4.4"/><circle cx="191.0" cy="564.4" r="4.4"/><circle cx="192.5" cy="549.8" r="4.4"/><circle cx="194.0" cy="537.8" r="4.4"/><circle cx="195.5" cy="526.5" r="4.4"/><circle cx="197.1" cy="514.8" r="4.4"/><circle cx="198.6" cy="503.3" r="4.4"/><circle cx="200.1" cy="493.5" r="4.4"/><circle cx="201.6" cy="484.7" r="4.4"/><circle cx="203.1" cy="476.5" r="4.4"/><circle cx="204.7" cy="468.3" r="4.4"/><circle cx="206.2" cy="460.3" r="4.4"/><circle cx="207.7" cy="453.3" r="4.4"/><circle cx="209.2" cy="447.7" r="4.4"/><circle cx="210.7" cy="442.8" r="4.4"/><circle cx="212.3" cy="439.0" r="4.4"/><circle cx="213.8" cy="436.6" r="4.4"/><circle cx="215.3" cy="434.7" r="4.4"/><circle cx="216.8" cy="433.4" r="4.4"/><circle cx="218.3" cy="433.0" r="4.4"/><circle cx="219.9" cy="433.4" r="4.4"/><circle cx="221.4" cy="434.1" r="4.4"/><circle cx="222.9" cy="435.1" r="4.4"/><circle cx="224.4" cy="437.6" r="4.4"/><circle cx="225.9" cy="441.4" r="4.4"/><circle cx="227.5" cy="445.2" r="4.4"/><circle cx="229.0" cy="448.8" r="4.4"/><circle cx="230.5" cy="452.7" r="4.4"/><circle cx="232.0" cy="457.2" r="4.4"/><circle cx="233.5" cy="462.4" r="4.4"/><circle cx="235.1" cy="467.9" r="4.4"/><circle cx="236.6" cy="473.5" r="4.4"/><circle cx="238.1" cy="479.1" r="4.4"/><circle cx="239.6" cy="485.0" r="4.4"/><circle cx="241.1" cy="491.3" r="4.4"/><circle cx="242.7" cy="498.5" r="4.4"/><circle cx="244.2" cy="506.8" r="4.4"/><circle cx="245.7" cy="514.8" r="4.4"/><circle cx="247.2" cy="521.4" r="4.4"/><circle cx="248.8" cy="526.7" r="4.4"/><circle cx="250.3" cy="531.5" r="4.4"/><circle cx="251.8" cy="536.0" r="4.4"/><circle cx="253.3" cy="540.1" r="4.4"/><circle cx="254.8" cy="543.9" r="4.4"/><circle cx="256.4" cy="547.6" r="4.4"/><circle cx="257.9" cy="551.2" r="4.4"/><circle cx="259.4" cy="554.6" r="4.4"/><circle cx="260.9" cy="557.8" r="4.4"/><circle cx="262.4" cy="560.9" r="4.4"/><circle cx="264.0" cy="563.8" r="4.4"/><circle cx="265.5" cy="566.7" r="4.4"/><circle cx="267.0" cy="569.6" r="4.4"/><circle cx="268.5" cy="572.4" r="4.4"/><circle cx="270.0" cy="575.3" r="4.4"/><circle cx="271.6" cy="578.0" r="4.4"/><circle cx="273.1" cy="580.7" r="4.4"/><circle cx="274.6" cy="583.3" r="4.4"/><circle cx="276.1" cy="585.8" r="4.4"/><circle cx="277.6" cy="588.3" r="4.4"/><circle cx="279.2" cy="590.9" r="4.4"/><circle cx="280.7" cy="593.6" r="4.4"/><circle cx="282.2" cy="596.5" r="4.4"/><circle cx="283.7" cy="599.6" r="4.4"/><circle cx="285.2" cy="603.0" r="4.4"/><circle cx="286.8" cy="606.8" r="4.4"/><circle cx="288.3" cy="610.8" r="4.4"/><circle cx="289.8" cy="614.9" r="4.4"/><circle cx="291.3" cy="619.0" r="4.4"/><circle cx="292.8" cy="623.0" r="4.4"/><circle cx="294.4" cy="626.9" r="4.4"/><circle cx="295.9" cy="630.4" r="4.4"/><circle cx="297.4" cy="634.0" r="4.4"/><circle cx="298.9" cy="637.5" r="4.4"/><circle cx="300.4" cy="641.0" r="4.4"/><circle cx="302.0" cy="644.5" r="4.4"/><circle cx="303.5" cy="647.8" r="4.4"/><circle cx="305.0" cy="651.0" r="4.4"/><circle cx="306.5" cy="654.0" r="4.4"/><circle cx="308.0" cy="656.8" r="4.4"/><circle cx="309.6" cy="659.4" r="4.4"/><circle cx="311.1" cy="661.7" r="4.4"/><circle cx="312.6" cy="664.0" r="4.4"/><circle cx="314.1" cy="666.1" r="4.4"/><circle cx="315.6" cy="668.2" r="4.4"/><circle cx="317.2" cy="670.1" r="4.4"/><circle cx="318.7" cy="672.0" r="4.4"/><circle cx="320.2" cy="673.8" r="4.4"/><circle cx="321.7" cy="675.5" r="4.4"/><circle cx="323.2" cy="677.1" r="4.4"/><circle cx="324.8" cy="678.7" r="4.4"/><circle cx="326.3" cy="680.1" r="4.4"/><circle cx="327.8" cy="681.5" r="4.4"/><circle cx="329.3" cy="682.8" r="4.4"/><circle cx="330.8" cy="684.0" r="4.4"/><circle cx="332.4" cy="685.1" r="4.4"/><circle cx="333.9" cy="686.2" r="4.4"/><circle cx="335.4" cy="687.3" r="4.4"/><circle cx="336.9" cy="688.4" r="4.4"/><circle cx="338.4" cy="689.4" r="4.4"/><circle cx="340.0" cy="690.4" r="4.4"/><circle cx="341.5" cy="691.3" r="4.4"/><circle cx="343.0" cy="692.2" r="4.4"/><circle cx="344.5" cy="693.1" r="4.4"/><circle cx="346.0" cy="693.9" r="4.4"/><circle cx="347.6" cy="694.8" r="4.4"/><circle cx="349.1" cy="695.5" r="4.4"/><circle cx="350.6" cy="696.3" r="4.4"/><circle cx="352.1" cy="697.0" r="4.4"/><circle cx="353.6" cy="697.6" r="4.4"/><circle cx="355.2" cy="698.3" r="4.4"/><circle cx="356.7" cy="698.9" r="4.4"/><circle cx="358.2" cy="699.5" r="4.4"/><circle cx="359.7" cy="700.1" r="4.4"/><circle cx="361.2" cy="700.7" r="4.4"/><circle cx="362.8" cy="701.2" r="4.4"/><circle cx="364.3" cy="701.8" r="4.4"/><circle cx="365.8" cy="702.3" r="4.4"/><circle cx="367.3" cy="702.8" r="4.4"/><circle cx="368.8" cy="703.3" r="4.4"/><circle cx="370.4" cy="703.8" r="4.4"/><circle cx="371.9" cy="704.3" r="4.4"/><circle cx="373.4" cy="704.7" r="4.4"/><circle cx="374.9" cy="705.2" r="4.4"/><circle cx="376.4" cy="705.6" r="4.4"/><circle cx="378.0" cy="706.0" r="4.4"/><circle cx="379.5" cy="706.3" r="4.4"/><circle cx="381.0" cy="706.7" r="4.4"/><circle cx="382.5" cy="707.0" r="4.4"/><circle cx="384.0" cy="707.3" r="4.4"/><circle cx="385.6" cy="707.6" r="4.4"/><circle cx="387.1" cy="707.8" r="4.4"/><circle cx="388.6" cy="708.1" r="4.4"/><circle cx="390.1" cy="708.3" r="4.4"/><circle cx="391.6" cy="708.5" r="4.4"/><circle cx="393.2" cy="708.7" r="4.4"/><circle cx="394.7" cy="708.9" r="4.4"/><circle cx="396.2" cy="709.1" r="4.4"/><circle cx="397.7" cy="709.3" r="4.4"/><circle cx="399.2" cy="709.5" r="4.4"/><circle cx="400.8" cy="709.6" r="4.4"/><circle cx="402.3" cy="709.8" r="4.4"/><circle cx="403.8" cy="710.0" r="4.4"/><circle cx="405.3" cy="710.1" r="4.4"/><circle cx="406.9" cy="710.3" r="4.4"/><circle cx="408.4" cy="710.4" r="4.4"/><circle cx="409.9" cy="710.5" r="4.4"/><circle cx="411.4" cy="710.7" r="4.4"/><circle cx="412.9" cy="710.8" r="4.4"/><circle cx="414.5" cy="710.9" r="4.4"/><circle cx="416.0" cy="711.0" r="4.4"/><circle cx="417.5" cy="711.1" r="4.4"/><circle cx="419.0" cy="711.2" r="4.4"/><circle cx="420.5" cy="711.3" r="4.4"/><circle cx="422.1" cy="711.4" r="4.4"/><circle cx="423.6" cy="711.5" r="4.4"/><circle cx="425.1" cy="711.6" r="4.4"/><circle cx="426.6" cy="711.7" r="4.4"/><circle cx="428.1" cy="711.8" r="4.4"/><circle cx="429.7" cy="711.9" r="4.4"/><circle cx="431.2" cy="711.9" r="4.4"/><circle cx="432.7" cy="712.0" r="4.4"/><circle cx="434.2" cy="712.1" r="4.4"/><circle cx="435.7" cy="712.2" r="4.4"/><circle cx="437.3" cy="712.3" r="4.4"/><circle cx="438.8" cy="712.3" r="4.4"/><circle cx="440.3" cy="712.4" r="4.4"/><circle cx="441.8" cy="712.5" r="4.4"/><circle cx="443.3" cy="712.6" r="4.4"/><circle cx="444.9" cy="712.7" r="4.4"/><circle cx="446.4" cy="712.7" r="4.4"/><circle cx="447.9" cy="712.8" r="4.4"/><circle cx="449.4" cy="712.9" r="4.4"/><circle cx="450.9" cy="713.0" r="4.4"/><circle cx="452.5" cy="713.0" r="4.4"/><circle cx="454.0" cy="713.1" r="4.4"/><circle cx="455.5" cy="713.2" r="4.4"/><circle cx="457.0" cy="713.2" r="4.4"/><circle cx="458.5" cy="713.3" r="4.4"/><circle cx="460.1" cy="713.3" r="4.4"/><circle cx="461.6" cy="713.4" r="4.4"/><circle cx="463.1" cy="713.5" r="4.4"/><circle cx="464.6" cy="713.5" r="4.4"/><circle cx="466.1" cy="713.6" r="4.4"/><circle cx="467.7" cy="713.6" r="4.4"/><circle cx="469.2" cy="713.7" r="4.4"/><circle cx="470.7" cy="713.7" r="4.4"/><circle cx="472.2" cy="713.7" r="4.4"/><circle cx="473.7" cy="713.8" r="4.4"/><circle cx="475.3" cy="713.8" r="4.4"/><circle cx="476.8" cy="713.9" r="4.4"/><circle cx="478.3" cy="713.9" r="4.4"/><circle cx="479.8" cy="713.9" r="4.4"/><circle cx="481.3" cy="713.9" r="4.4"/><circle cx="482.9" cy="714.0" r="4.4"/><circle cx="484.4" cy="714.0" r="4.4"/><circle cx="485.9" cy="714.0" r="4.4"/><circle cx="487.4" cy="714.0" r="4.4"/><circle cx="488.9" cy="714.0" r="4.4"/><circle cx="490.5" cy="714.0" r="4.4"/></g>
<path d="M76.0,712.1 L76.3,712.1 L76.7,712.1 L77.0,712.1 L77.4,712.1 L77.7,712.0 L78.1,712.0 L78.4,712.0 L78.8,712.0 L79.1,712.0 L79.5,712.0 L79.8,712.0 L80.1,712.0 L80.5,712.0 L80.8,712.0 L81.2,712.0 L81.5,712.0 L81.9,712.0 L82.2,712.0 L82.6,712.0 L82.9,712.0 L83.3,712.0 L83.6,712.0 L83.9,712.0 L84.3,712.0 L84.6,712.0 L85.0,712.0 L85.3,712.0 L85.7,712.0 L86.0,712.0 L86.4,712.0 L86.7,712.0 L87.1,712.0 L87.4,712.0 L87.7,712.0 L88.1,712.0 L88.4,712.0 L88.8,712.0 L89.1,712.0 L89.5,712.0 L89.8,712.0 L90.2,712.0 L90.5,712.0 L90.9,712.0 L91.2,712.0 L91.5,712.0 L91.9,712.0 L92.2,711.9 L92.6,711.9 L92.9,711.9 L93.3,711.9 L93.6,711.9 L94.0,711.9 L94.3,711.9 L94.7,711.9 L95.0,711.9 L95.3,711.9 L95.7,711.9 L96.0,711.9 L96.4,711.9 L96.7,711.9 L97.1,711.9 L97.4,711.9 L97.8,711.9 L98.1,711.9 L98.5,711.9 L98.8,711.9 L99.1,711.9 L99.5,711.8 L99.8,711.8 L100.2,711.8 L100.5,711.8 L100.9,711.8 L101.2,711.8 L101.6,711.8 L101.9,711.8 L102.3,711.8 L102.6,711.8 L102.9,711.8 L103.3,711.8 L103.6,711.8 L104.0,711.8 L104.3,711.8 L104.7,711.8 L105.0,711.8 L105.4,711.7 L105.7,711.7 L106.1,711.7 L106.4,711.7 L106.7,711.7 L107.1,711.7 L107.4,711.7 L107.8,711.7 L108.1,711.7 L108.5,711.7 L108.8,711.7 L109.2,711.7 L109.5,711.7 L109.9,711.7 L110.2,711.6 L110.5,711.6 L110.9,711.6 L111.2,711.6 L111.6,711.6 L111.9,711.6 L112.3,711.6 L112.6,711.6 L113.0,711.6 L113.3,711.6 L113.7,711.6 L114.0,711.6 L114.4,711.6 L114.7,711.5 L115.0,711.5 L115.4,711.5 L115.7,711.5 L116.1,711.5 L116.4,711.5 L116.8,711.5 L117.1,711.5 L117.5,711.5 L117.8,711.5 L118.2,711.5 L118.5,711.5 L118.8,711.5 L119.2,711.4 L119.5,711.4 L119.9,711.4 L120.2,711.4 L120.6,711.4 L120.9,711.4 L121.3,711.4 L121.6,711.4 L122.0,711.4 L122.3,711.4 L122.6,711.3 L123.0,711.3 L123.3,711.3 L123.7,711.3 L124.0,711.3 L124.4,711.3 L124.7,711.3 L125.1,711.2 L125.4,711.2 L125.8,711.2 L126.1,711.2 L126.4,711.2 L126.8,711.2 L127.1,711.1 L127.5,711.1 L127.8,711.1 L128.2,711.1 L128.5,711.1 L128.9,711.0 L129.2,711.0 L129.6,711.0 L129.9,711.0 L130.2,711.0 L130.6,710.9 L130.9,710.9 L131.3,710.9 L131.6,710.9 L132.0,710.8 L132.3,710.8 L132.7,710.8 L133.0,710.7 L133.4,710.7 L133.7,710.7 L134.0,710.6 L134.4,710.6 L134.7,710.6 L135.1,710.5 L135.4,710.4 L135.8,710.4 L136.1,710.3 L136.5,710.2 L136.8,710.1 L137.2,710.0 L137.5,709.9 L137.8,709.8 L138.2,709.6 L138.5,709.5 L138.9,709.3 L139.2,709.2 L139.6,709.0 L139.9,708.9 L140.3,708.7 L140.6,708.5 L141.0,708.3 L141.3,708.1 L141.6,707.9 L142.0,707.6 L142.3,707.4 L142.7,707.1 L143.0,706.9 L143.4,706.6 L143.7,706.3 L144.1,705.8 L144.4,705.3 L144.8,704.7 L145.1,704.0 L145.4,703.2 L145.8,702.3 L146.1,701.4 L146.5,700.5 L146.8,699.5 L147.2,698.4 L147.5,697.4 L147.9,696.3 L148.2,695.2 L148.6,694.0 L148.9,692.7 L149.2,691.3 L149.6,689.8 L149.9,688.1 L150.3,686.4 L150.6,684.6 L151.0,682.8 L151.3,681.0 L151.7,679.3 L152.0,677.4 L152.4,675.5 L152.7,673.6 L153.0,671.6 L153.4,669.7 L153.7,667.7 L154.1,665.9 L154.4,664.1 L154.8,662.3 L155.1,660.6 L155.5,658.9 L155.8,657.1 L156.2,655.4 L156.5,653.6 L156.8,651.7 L157.2,649.8 L157.5,647.9 L157.9,645.9 L158.2,643.9 L158.6,641.7 L158.9,639.5 L159.3,637.2 L159.6,634.7 L160.0,632.1 L160.3,629.5 L160.6,626.8 L161.0,624.2 L161.3,621.7 L161.7,619.2 L162.0,616.7 L162.4,614.0 L162.7,611.2 L163.1,608.1 L163.4,604.9 L163.8,601.9 L164.1,599.1 L164.4,596.6 L164.8,594.2 L165.1,591.7 L165.5,589.1 L165.8,586.2 L166.2,583.1 L166.5,579.9 L166.9,576.9 L167.2,574.2 L167.6,571.7 L167.9,569.3 L168.2,566.8 L168.6,564.2 L168.9,561.5 L169.3,558.7 L169.6,555.9 L170.0,552.9 L170.3,549.7 L170.7,546.3 L171.0,542.4 L171.4,537.9 L171.7,533.4 L172.0,529.3 L172.4,525.8 L172.7,522.5 L173.1,519.3 L173.4,516.2 L173.8,513.0 L174.1,509.7 L174.5,506.3 L174.8,503.0 L175.2,499.6 L175.5,496.3 L175.8,493.1 L176.2,490.0 L176.5,487.0 L176.9,484.0 L177.2,481.1 L177.6,478.3 L177.9,475.4 L178.3,472.7 L178.6,469.9 L179.0,467.2 L179.3,464.5 L179.7,461.8 L180.0,459.3 L180.3,456.9 L180.7,454.7 L181.0,452.7 L181.4,450.7 L181.7,448.9 L182.1,447.1 L182.4,445.5 L182.8,443.9 L183.1,442.5 L183.5,441.2 L183.8,440.0 L184.1,438.7 L184.5,437.4 L184.8,436.3 L185.2,435.3 L185.5,434.6 L185.9,434.2 L186.2,434.2 L186.6,434.6 L186.9,435.3 L187.3,436.3 L187.6,437.4 L187.9,438.7 L188.3,440.1 L188.6,441.6 L189.0,443.5 L189.3,445.9 L189.7,448.6 L190.0,451.6 L190.4,454.8 L190.7,458.6 L191.1,462.8 L191.4,467.2 L191.7,471.8 L192.1,476.3 L192.4,481.0 L192.8,485.9 L193.1,491.1 L193.5,496.5 L193.8,502.5 L194.2,508.9 L194.5,515.3 L194.9,521.1 L195.2,526.4 L195.5,531.4 L195.9,536.2 L196.2,540.8 L196.6,545.2 L196.9,549.7 L197.3,554.4 L197.6,559.8 L198.0,565.3 L198.3,570.1 L198.7,574.0 L199.0,577.4 L199.3,580.5 L199.7,583.8 L200.0,587.3 L200.4,591.3 L200.7,595.4 L201.1,599.3 L201.4,602.7 L201.8,605.9 L202.1,608.9 L202.5,611.8 L202.8,614.5 L203.1,617.2 L203.5,619.7 L203.8,622.3 L204.2,624.8 L204.5,627.2 L204.9,629.5 L205.2,631.7 L205.6,633.6 L205.9,635.3 L206.3,636.8 L206.6,638.2 L206.9,639.6 L207.3,640.9 L207.6,642.0 L208.0,643.2 L208.3,644.2 L208.7,645.2 L209.0,646.1 L209.4,646.9 L209.7,647.7 L210.1,648.4 L210.4,649.0 L210.7,649.7 L211.1,650.3 L211.4,650.8 L211.8,651.4 L212.1,651.9 L212.5,652.4 L212.8,652.9 L213.2,653.4 L213.5,653.9 L213.9,654.4 L214.2,655.0 L214.5,655.6 L214.9,656.2 L215.2,656.7 L215.6,657.4 L215.9,658.0 L216.3,658.6 L216.6,659.2 L217.0,659.8 L217.3,660.4 L217.7,661.0 L218.0,661.6 L218.3,662.2 L218.7,662.8 L219.0,663.4 L219.4,664.0 L219.7,664.6 L220.1,665.1 L220.4,665.7 L220.8,666.3 L221.1,666.8 L221.5,667.4 L221.8,667.9 L222.1,668.5 L222.5,669.0 L222.8,669.6 L223.2,670.1 L223.5,670.7 L223.9,671.2 L224.2,671.7 L224.6,672.3 L224.9,672.8 L225.3,673.3 L225.6,673.8 L225.9,674.4 L226.3,674.9 L226.6,675.4 L227.0,675.9 L227.3,676.4 L227.7,676.9 L228.0,677.3 L228.4,677.8 L228.7,678.3 L229.1,678.7 L229.4,679.2 L229.7,679.6 L230.1,680.1 L230.4,680.5 L230.8,681.0 L231.1,681.4 L231.5,681.8 L231.8,682.3 L232.2,682.7 L232.5,683.1 L232.9,683.5 L233.2,683.9 L233.5,684.3 L233.9,684.7 L234.2,685.1 L234.6,685.5 L234.9,685.9 L235.3,686.3 L235.6,686.7 L236.0,687.1 L236.3,687.4 L236.7,687.8 L237.0,688.2 L237.3,688.5 L237.7,688.9 L238.0,689.2 L238.4,689.6 L238.7,689.9 L239.1,690.2 L239.4,690.6 L239.8,690.9 L240.1,691.2 L240.5,691.5 L240.8,691.9 L241.1,692.2 L241.5,692.5 L241.8,692.8 L242.2,693.2 L242.5,693.5 L242.9,693.8 L243.2,694.1 L243.6,694.4 L243.9,694.7 L244.3,695.0 L244.6,695.3 L244.9,695.6 L245.3,695.9 L245.6,696.2 L246.0,696.5 L246.3,696.8 L246.7,697.0 L247.0,697.3 L247.4,697.6 L247.7,697.8 L248.1,698.1 L248.4,698.3 L248.8,698.6 L249.1,698.8 L249.4,699.1 L249.8,699.3 L250.1,699.5 L250.5,699.7 L250.8,699.9 L251.2,700.1 L251.5,700.3 L251.9,700.5 L252.2,700.7 L252.6,700.9 L252.9,701.1 L253.2,701.3 L253.6,701.5 L253.9,701.7 L254.3,701.8 L254.6,702.0 L255.0,702.2 L255.3,702.4 L255.7,702.6 L256.0,702.7 L256.4,702.9 L256.7,703.1 L257.0,703.3 L257.4,703.4 L257.7,703.6 L258.1,703.7 L258.4,703.9 L258.8,704.0 L259.1,704.2 L259.5,704.3 L259.8,704.4 L260.2,704.6 L260.5,704.7 L260.8,704.8 L261.2,704.9 L261.5,705.0 L261.9,705.1 L262.2,705.2 L262.6,705.3 L262.9,705.4 L263.3,705.4 L263.6,705.5 L264.0,705.6 L264.3,705.6 L264.6,705.7 L265.0,705.7 L265.3,705.8 L265.7,705.8 L266.0,705.9 L266.4,705.9 L266.7,706.0 L267.1,706.0 L267.4,706.1 L267.8,706.1 L268.1,706.2 L268.4,706.2 L268.8,706.3 L269.1,706.3 L269.5,706.3 L269.8,706.4 L270.2,706.4 L270.5,706.5 L270.9,706.5 L271.2,706.5 L271.6,706.6 L271.9,706.6 L272.2,706.7 L272.6,706.7 L272.9,706.7 L273.3,706.8 L273.6,706.8 L274.0,706.8 L274.3,706.9 L274.7,706.9 L275.0,706.9 L275.4,706.9 L275.7,707.0 L276.0,707.0 L276.4,707.0 L276.7,707.0 L277.1,707.1 L277.4,707.1 L277.8,707.1 L278.1,707.1 L278.5,707.1 L278.8,707.2 L279.2,707.2 L279.5,707.2 L279.8,707.2 L280.2,707.2 L280.5,707.2 L280.9,707.2 L281.2,707.2 L281.6,707.2 L281.9,707.2 L282.3,707.2 L282.6,707.2 L283.0,707.2 L283.3,707.2 L283.6,707.2 L284.0,707.2 L284.3,707.2 L284.7,707.2 L285.0,707.2 L285.4,707.2 L285.7,707.1 L286.1,707.1 L286.4,707.1 L286.8,707.1 L287.1,707.1 L287.4,707.0 L287.8,707.0 L288.1,707.0 L288.5,707.0 L288.8,706.9 L289.2,706.9 L289.5,706.9 L289.9,706.8 L290.2,706.8 L290.6,706.8 L290.9,706.8 L291.2,706.7 L291.6,706.7 L291.9,706.7 L292.3,706.7 L292.6,706.6 L293.0,706.6 L293.3,706.6 L293.7,706.6 L294.0,706.5 L294.4,706.5 L294.7,706.5 L295.0,706.5 L295.4,706.5 L295.7,706.4 L296.1,706.4 L296.4,706.4 L296.8,706.4 L297.1,706.4 L297.5,706.4 L297.8,706.4 L298.2,706.4 L298.5,706.4 L298.8,706.4 L299.2,706.4 L299.5,706.4 L299.9,706.4 L300.2,706.4 L300.6,706.5 L300.9,706.5 L301.3,706.5 L301.6,706.5 L302.0,706.6 L302.3,706.6 L302.6,706.6 L303.0,706.7 L303.3,706.7 L303.7,706.8 L304.0,706.8 L304.4,706.8 L304.7,706.9 L305.1,706.9 L305.4,707.0 L305.8,707.0 L306.1,707.1 L306.4,707.1 L306.8,707.2 L307.1,707.2 L307.5,707.3 L307.8,707.3 L308.2,707.4 L308.5,707.4 L308.9,707.5 L309.2,707.5 L309.6,707.6 L309.9,707.6 L310.2,707.7 L310.6,707.7 L310.9,707.8 L311.3,707.8 L311.6,707.8 L312.0,707.9 L312.3,707.9 L312.7,708.0 L313.0,708.0 L313.4,708.1 L313.7,708.1 L314.0,708.1 L314.4,708.2 L314.7,708.2 L315.1,708.2 L315.4,708.3 L315.8,708.3 L316.1,708.3 L316.5,708.3 L316.8,708.4 L317.2,708.4 L317.5,708.4 L317.9,708.5 L318.2,708.5 L318.5,708.5 L318.9,708.6 L319.2,708.6 L319.6,708.6 L319.9,708.7 L320.3,708.7 L320.6,708.7 L321.0,708.7 L321.3,708.8 L321.7,708.8 L322.0,708.8 L322.3,708.9 L322.7,708.9 L323.0,708.9 L323.4,708.9 L323.7,709.0 L324.1,709.0 L324.4,709.0 L324.8,709.1 L325.1,709.1 L325.5,709.1 L325.8,709.2 L326.1,709.2 L326.5,709.2 L326.8,709.3 L327.2,709.3 L327.5,709.3 L327.9,709.3 L328.2,709.4 L328.6,709.4 L328.9,709.4 L329.3,709.5 L329.6,709.5 L329.9,709.6 L330.3,709.6 L330.6,709.6 L331.0,709.7 L331.3,709.7 L331.7,709.7 L332.0,709.8 L332.4,709.8 L332.7,709.9 L333.1,709.9 L333.4,709.9 L333.7,710.0 L334.1,710.0 L334.4,710.1 L334.8,710.1 L335.1,710.2 L335.5,710.2 L335.8,710.3 L336.2,710.3 L336.5,710.3 L336.9,710.4 L337.2,710.4 L337.5,710.5 L337.9,710.5 L338.2,710.6 L338.6,710.6 L338.9,710.6 L339.3,710.7 L339.6,710.7 L340.0,710.8 L340.3,710.8 L340.7,710.8 L341.0,710.9 L341.3,710.9 L341.7,710.9 L342.0,711.0 L342.4,711.0 L342.7,711.0 L343.1,711.1 L343.4,711.1 L343.8,711.1 L344.1,711.1 L344.5,711.2 L344.8,711.2 L345.1,711.2 L345.5,711.2 L345.8,711.2 L346.2,711.3 L346.5,711.3 L346.9,711.3 L347.2,711.3 L347.6,711.3 L347.9,711.4 L348.3,711.4 L348.6,711.4 L348.9,711.4 L349.3,711.4 L349.6,711.4 L350.0,711.5 L350.3,711.5 L350.7,711.5 L351.0,711.5 L351.4,711.5 L351.7,711.5 L352.1,711.6 L352.4,711.6 L352.7,711.6 L353.1,711.6 L353.4,711.6 L353.8,711.6 L354.1,711.6 L354.5,711.7 L354.8,711.7 L355.2,711.7 L355.5,711.7 L355.9,711.7 L356.2,711.7 L356.5,711.7 L356.9,711.7 L357.2,711.7 L357.6,711.7 L357.9,711.7 L358.3,711.7 L358.6,711.8 L359.0,711.8 L359.3,711.8 L359.7,711.8 L360.0,711.8 L360.3,711.8 L360.7,711.8 L361.0,711.8 L361.4,711.8 L361.7,711.8 L362.1,711.8 L362.4,711.7 L362.8,711.7 L363.1,711.7 L363.5,711.7 L363.8,711.7 L364.1,711.7 L364.5,711.7 L364.8,711.7 L365.2,711.7 L365.5,711.6 L365.9,711.6 L366.2,711.6 L366.6,711.6 L366.9,711.6 L367.3,711.6 L367.6,711.5 L367.9,711.5 L368.3,711.5 L368.6,711.5 L369.0,711.5 L369.3,711.4 L369.7,711.4 L370.0,711.4 L370.4,711.4 L370.7,711.4 L371.1,711.4 L371.4,711.3 L371.7,711.3 L372.1,711.3 L372.4,711.3 L372.8,711.3 L373.1,711.3 L373.5,711.3 L373.8,711.2 L374.2,711.2 L374.5,711.2 L374.9,711.2 L375.2,711.2 L375.5,711.2 L375.9,711.2 L376.2,711.2 L376.6,711.2 L376.9,711.2 L377.3,711.2 L377.6,711.2 L378.0,711.2 L378.3,711.2 L378.7,711.2 L379.0,711.2 L379.3,711.2 L379.7,711.2 L380.0,711.2 L380.4,711.2 L380.7,711.2 L381.1,711.2 L381.4,711.2 L381.8,711.2 L382.1,711.2 L382.5,711.2 L382.8,711.2 L383.1,711.3 L383.5,711.3 L383.8,711.3 L384.2,711.3 L384.5,711.3 L384.9,711.3 L385.2,711.3 L385.6,711.3 L385.9,711.3 L386.3,711.3 L386.6,711.3 L387.0,711.3 L387.3,711.3 L387.6,711.3 L388.0,711.3 L388.3,711.3 L388.7,711.4 L389.0,711.4 L389.4,711.4 L389.7,711.4 L390.1,711.4 L390.4,711.4 L390.8,711.4 L391.1,711.4 L391.4,711.4 L391.8,711.4 L392.1,711.4 L392.5,711.4 L392.8,711.5 L393.2,711.5 L393.5,711.5 L393.9,711.5 L394.2,711.5 L394.6,711.5 L394.9,711.5 L395.2,711.5 L395.6,711.5 L395.9,711.5 L396.3,711.6 L396.6,711.6 L397.0,711.6 L397.3,711.6 L397.7,711.6 L398.0,711.6 L398.4,711.6 L398.7,711.6 L399.0,711.6 L399.4,711.6 L399.7,711.6 L400.1,711.7 L400.4,711.7 L400.8,711.7 L401.1,711.7 L401.5,711.7 L401.8,711.7 L402.2,711.7 L402.5,711.7 L402.8,711.7 L403.2,711.7 L403.5,711.8 L403.9,711.8 L404.2,711.8 L404.6,711.8 L404.9,711.8 L405.3,711.8 L405.6,711.8 L406.0,711.8 L406.3,711.8 L406.6,711.8 L407.0,711.8 L407.3,711.9 L407.7,711.9 L408.0,711.9 L408.4,711.9 L408.7,711.9 L409.1,711.9 L409.4,711.9 L409.8,711.9 L410.1,711.9 L410.4,711.9 L410.8,711.9 L411.1,711.9 L411.5,711.9 L411.8,712.0 L412.2,712.0 L412.5,712.0 L412.9,712.0 L413.2,712.0 L413.6,712.0 L413.9,712.0 L414.2,712.0 L414.6,712.0 L414.9,712.0 L415.3,712.0 L415.6,712.0 L416.0,712.0 L416.3,712.0 L416.7,712.0 L417.0,712.0 L417.4,712.0 L417.7,712.0 L418.0,712.0 L418.4,712.0 L418.7,712.0 L419.1,712.0 L419.4,712.0 L419.8,712.0 L420.1,712.0 L420.5,712.0 L420.8,712.1 L421.2,712.1 L421.5,712.1 L421.8,712.1 L422.2,712.1 L422.5,712.1 L422.9,712.1 L423.2,712.1 L423.6,712.1 L423.9,712.1 L424.3,712.1 L424.6,712.1 L425.0,712.1 L425.3,712.1 L425.6,712.1 L426.0,712.1 L426.3,712.1 L426.7,712.1 L427.0,712.1 L427.4,712.1 L427.7,712.1 L428.1,712.1 L428.4,712.1 L428.8,712.1 L429.1,712.1 L429.4,712.1 L429.8,712.1 L430.1,712.1 L430.5,712.1 L430.8,712.1 L431.2,712.1 L431.5,712.1 L431.9,712.1 L432.2,712.1 L432.6,712.1 L432.9,712.1 L433.2,712.1 L433.6,712.1 L433.9,712.1 L434.3,712.1 L434.6,712.1 L435.0,712.1 L435.3,712.1 L435.7,712.1 L436.0,712.1 L436.4,712.1 L436.7,712.1 L437.0,712.1 L437.4,712.1 L437.7,712.1 L438.1,712.1 L438.4,712.1 L438.8,712.1 L439.1,712.1 L439.5,712.1 L439.8,712.1 L440.2,712.1 L440.5,712.1 L440.8,712.1 L441.2,712.1 L441.5,712.1 L441.9,712.1 L442.2,712.1 L442.6,712.1 L442.9,712.1 L443.3,712.1 L443.6,712.1 L444.0,712.1 L444.3,712.1 L444.6,712.1 L445.0,712.1 L445.3,712.1 L445.7,712.1 L446.0,712.1 L446.4,712.1 L446.7,712.1 L447.1,712.1 L447.4,712.1 L447.8,712.1 L448.1,712.1 L448.4,712.1 L448.8,712.1 L449.1,712.1 L449.5,712.1 L449.8,712.1 L450.2,712.1 L450.5,712.1 L450.9,712.1 L451.2,712.1 L451.6,712.1 L451.9,712.1 L452.2,712.1 L452.6,712.1 L452.9,712.1 L453.3,712.1 L453.6,712.1 L454.0,712.1 L454.3,712.1 L454.7,712.1 L455.0,712.1 L455.4,712.1 L455.7,712.1 L456.1,712.1 L456.4,712.1 L456.7,712.1 L457.1,712.1 L457.4,712.1 L457.8,712.1 L458.1,712.1 L458.5,712.1 L458.8,712.1 L459.2,712.1 L459.5,712.1 L459.9,712.1 L460.2,712.1 L460.5,712.1 L460.9,712.1 L461.2,712.1 L461.6,712.1 L461.9,712.1 L462.3,712.1 L462.6,712.1 L463.0,712.1 L463.3,712.1 L463.7,712.1 L464.0,712.1 L464.3,712.1 L464.7,712.1 L465.0,712.1 L465.4,712.1 L465.7,712.1 L466.1,712.1 L466.4,712.1 L466.8,712.1 L467.1,712.1 L467.5,712.1 L467.8,712.1 L468.1,712.1 L468.5,712.1 L468.8,712.1 L469.2,712.1 L469.5,712.1 L469.9,712.1 L470.2,712.1 L470.6,712.1 L470.9,712.1 L471.3,712.1 L471.6,712.1 L471.9,712.1 L472.3,712.1 L472.6,712.1 L473.0,712.1 L473.3,712.1 L473.7,712.1 L474.0,712.1 L474.4,712.1 L474.7,712.1 L475.1,712.1 L475.4,712.1 L475.7,712.1 L476.1,712.1 L476.4,712.1 L476.8,712.1 L477.1,712.1 L477.5,712.1 L477.8,712.1 L478.2,712.1 L478.5,712.1 L478.9,712.1 L479.2,712.1 L479.5,712.1 L479.9,712.1 L480.2,712.1 L480.6,712.1 L480.9,712.1 L481.3,712.1 L481.6,712.1 L482.0,712.1 L482.3,712.1 L482.7,712.1 L483.0,712.1 L483.3,712.1 L483.7,712.1 L484.0,712.1 L484.4,712.1 L484.7,712.1 L485.1,712.1 L485.4,712.1 L485.8,712.1 L486.1,712.1 L486.5,712.1 L486.8,712.1 L487.1,712.1 L487.5,712.1 L487.8,712.1 L488.2,712.1 L488.5,712.1 L488.9,712.1 L489.2,712.1 L489.6,712.1 L489.9,712.1 L490.3,712.1 L490.6,712.1" fill="none" stroke="#0000ff" stroke-width="3.0" stroke-linejoin="round"/>
<g fill="#fff" stroke="#0000ff" stroke-width="1.5"><path d="M76.0,704.7 L82.5,715.7 L69.5,715.7 Z"/><path d="M77.4,704.7 L83.9,715.7 L70.9,715.7 Z"/><path d="M78.8,704.7 L85.3,715.7 L72.3,715.7 Z"/><path d="M80.1,704.7 L86.6,715.7 L73.6,715.7 Z"/><path d="M81.5,704.7 L88.0,715.7 L75.0,715.7 Z"/><path d="M82.9,704.7 L89.4,715.7 L76.4,715.7 Z"/><path d="M84.3,704.7 L90.8,715.7 L77.8,715.7 Z"/><path d="M85.7,704.7 L92.2,715.7 L79.2,715.7 Z"/><path d="M87.1,704.7 L93.6,715.7 L80.6,715.7 Z"/><path d="M88.4,704.7 L94.9,715.7 L81.9,715.7 Z"/><path d="M89.8,704.6 L96.3,715.6 L83.3,715.6 Z"/><path d="M91.2,704.6 L97.7,715.6 L84.7,715.6 Z"/><path d="M92.6,704.6 L99.1,715.6 L86.1,715.6 Z"/><path d="M94.0,704.6 L100.5,715.6 L87.5,715.6 Z"/><path d="M95.3,704.6 L101.8,715.6 L88.8,715.6 Z"/><path d="M96.7,704.6 L103.2,715.6 L90.2,715.6 Z"/><path d="M98.1,704.5 L104.6,715.5 L91.6,715.5 Z"/><path d="M99.5,704.5 L106.0,715.5 L93.0,715.5 Z"/><path d="M100.9,704.5 L107.4,715.5 L94.4,715.5 Z"/><path d="M102.3,704.5 L108.8,715.5 L95.8,715.5 Z"/><path d="M103.6,704.4 L110.1,715.4 L97.1,715.4 Z"/><path d="M105.0,704.4 L111.5,715.4 L98.5,715.4 Z"/><path d="M106.4,704.4 L112.9,715.4 L99.9,715.4 Z"/><path d="M107.8,704.4 L114.3,715.4 L101.3,715.4 Z"/><path d="M109.2,704.3 L115.7,715.3 L102.7,715.3 Z"/><path d="M110.5,704.3 L117.0,715.3 L104.0,715.3 Z"/><path d="M111.9,704.3 L118.4,715.3 L105.4,715.3 Z"/><path d="M113.3,704.2 L119.8,715.2 L106.8,715.2 Z"/><path d="M114.7,704.2 L121.2,715.2 L108.2,715.2 Z"/><path d="M116.1,704.2 L122.6,715.2 L109.6,715.2 Z"/><path d="M117.5,704.1 L124.0,715.1 L111.0,715.1 Z"/><path d="M118.8,704.1 L125.3,715.1 L112.3,715.1 Z"/><path d="M120.2,704.1 L126.7,715.1 L113.7,715.1 Z"/><path d="M121.6,704.0 L128.1,715.0 L115.1,715.0 Z"/><path d="M123.0,704.0 L129.5,715.0 L116.5,715.0 Z"/><path d="M124.4,703.9 L130.9,714.9 L117.9,714.9 Z"/><path d="M125.8,703.9 L132.3,714.9 L119.3,714.9 Z"/><path d="M127.1,703.8 L133.6,714.8 L120.6,714.8 Z"/><path d="M128.5,703.7 L135.0,714.7 L122.0,714.7 Z"/><path d="M129.9,703.6 L136.4,714.6 L123.4,714.6 Z"/><path d="M131.3,703.5 L137.8,714.5 L124.8,714.5 Z"/><path d="M132.7,703.4 L139.2,714.4 L126.2,714.4 Z"/><path d="M134.0,703.3 L140.5,714.3 L127.5,714.3 Z"/><path d="M135.4,703.1 L141.9,714.1 L128.9,714.1 Z"/><path d="M136.8,702.8 L143.3,713.8 L130.3,713.8 Z"/><path d="M138.2,702.3 L144.7,713.3 L131.7,713.3 Z"/><path d="M139.6,701.7 L146.1,712.7 L133.1,712.7 Z"/><path d="M141.0,700.9 L147.5,711.9 L134.5,711.9 Z"/><path d="M142.3,700.0 L148.8,711.0 L135.8,711.0 Z"/><path d="M143.7,698.9 L150.2,709.9 L137.2,709.9 Z"/><path d="M145.1,696.6 L151.6,707.6 L138.6,707.6 Z"/><path d="M146.5,693.1 L153.0,704.1 L140.0,704.1 Z"/><path d="M147.9,688.9 L154.4,699.9 L141.4,699.9 Z"/><path d="M149.2,684.0 L155.7,695.0 L142.7,695.0 Z"/><path d="M150.6,677.3 L157.1,688.3 L144.1,688.3 Z"/><path d="M152.0,670.1 L158.5,681.1 L145.5,681.1 Z"/><path d="M153.4,662.3 L159.9,673.3 L146.9,673.3 Z"/><path d="M154.8,655.0 L161.3,666.0 L148.3,666.0 Z"/><path d="M156.2,648.0 L162.7,659.0 L149.7,659.0 Z"/><path d="M157.5,640.5 L164.0,651.5 L151.0,651.5 Z"/><path d="M158.9,632.2 L165.4,643.2 L152.4,643.2 Z"/><path d="M160.3,622.1 L166.8,633.1 L153.8,633.1 Z"/><path d="M161.7,611.9 L168.2,622.9 L155.2,622.9 Z"/><path d="M163.1,600.7 L169.6,611.7 L156.6,611.7 Z"/><path d="M164.4,589.2 L170.9,600.2 L157.9,600.2 Z"/><path d="M165.8,578.9 L172.3,589.9 L159.3,589.9 Z"/><path d="M167.2,566.9 L173.7,577.9 L160.7,577.9 Z"/><path d="M168.6,556.8 L175.1,567.8 L162.1,567.8 Z"/><path d="M170.0,545.6 L176.5,556.6 L163.5,556.6 Z"/><path d="M171.4,530.6 L177.9,541.6 L164.9,541.6 Z"/><path d="M172.7,515.1 L179.2,526.1 L166.2,526.1 Z"/><path d="M174.1,502.4 L180.6,513.4 L167.6,513.4 Z"/><path d="M175.5,489.0 L182.0,500.0 L169.0,500.0 Z"/><path d="M176.9,476.7 L183.4,487.7 L170.4,487.7 Z"/><path d="M178.3,465.3 L184.8,476.3 L171.8,476.3 Z"/><path d="M179.7,454.5 L186.2,465.5 L173.2,465.5 Z"/><path d="M181.0,445.3 L187.5,456.3 L174.5,456.3 Z"/><path d="M182.4,438.1 L188.9,449.1 L175.9,449.1 Z"/><path d="M183.8,432.6 L190.3,443.6 L177.3,443.6 Z"/><path d="M185.2,427.9 L191.7,438.9 L178.7,438.9 Z"/><path d="M186.6,427.3 L193.1,438.3 L180.1,438.3 Z"/><path d="M187.9,431.4 L194.4,442.4 L181.4,442.4 Z"/><path d="M189.3,438.6 L195.8,449.6 L182.8,449.6 Z"/><path d="M190.7,451.3 L197.2,462.3 L184.2,462.3 Z"/><path d="M192.1,469.0 L198.6,480.0 L185.6,480.0 Z"/><path d="M193.5,489.1 L200.0,500.1 L187.0,500.1 Z"/><path d="M194.9,513.7 L201.4,524.7 L188.4,524.7 Z"/><path d="M196.2,533.5 L202.7,544.5 L189.7,544.5 Z"/><path d="M197.6,552.5 L204.1,563.5 L191.1,563.5 Z"/><path d="M199.0,570.0 L205.5,581.0 L192.5,581.0 Z"/><path d="M200.4,583.9 L206.9,594.9 L193.9,594.9 Z"/><path d="M201.8,598.6 L208.3,609.6 L195.3,609.6 Z"/><path d="M203.1,609.8 L209.6,620.8 L196.6,620.8 Z"/><path d="M204.5,619.9 L211.0,630.9 L198.0,630.9 Z"/><path d="M205.9,627.9 L212.4,638.9 L199.4,638.9 Z"/><path d="M207.3,633.5 L213.8,644.5 L200.8,644.5 Z"/><path d="M208.7,637.8 L215.2,648.8 L202.2,648.8 Z"/><path d="M210.1,641.0 L216.6,652.0 L203.6,652.0 Z"/><path d="M211.4,643.5 L217.9,654.5 L204.9,654.5 Z"/><path d="M212.8,645.6 L219.3,656.6 L206.3,656.6 Z"/><path d="M214.2,647.7 L220.7,658.7 L207.7,658.7 Z"/><path d="M215.6,650.0 L222.1,661.0 L209.1,661.0 Z"/><path d="M217.0,652.5 L223.5,663.5 L210.5,663.5 Z"/><path d="M218.3,654.9 L224.8,665.9 L211.8,665.9 Z"/><path d="M219.7,657.2 L226.2,668.2 L213.2,668.2 Z"/><path d="M221.1,659.5 L227.6,670.5 L214.6,670.5 Z"/><path d="M222.5,661.7 L229.0,672.7 L216.0,672.7 Z"/><path d="M223.9,663.9 L230.4,674.9 L217.4,674.9 Z"/><path d="M225.3,666.0 L231.8,677.0 L218.8,677.0 Z"/><path d="M226.6,668.0 L233.1,679.0 L220.1,679.0 Z"/><path d="M228.0,670.0 L234.5,681.0 L221.5,681.0 Z"/><path d="M229.4,671.9 L235.9,682.9 L222.9,682.9 Z"/><path d="M230.8,673.6 L237.3,684.6 L224.3,684.6 Z"/><path d="M232.2,675.3 L238.7,686.3 L225.7,686.3 Z"/><path d="M233.5,677.0 L240.0,688.0 L227.0,688.0 Z"/><path d="M234.9,678.6 L241.4,689.6 L228.4,689.6 Z"/><path d="M236.3,680.1 L242.8,691.1 L229.8,691.1 Z"/><path d="M237.7,681.5 L244.2,692.5 L231.2,692.5 Z"/><path d="M239.1,682.9 L245.6,693.9 L232.6,693.9 Z"/><path d="M240.5,684.2 L247.0,695.2 L234.0,695.2 Z"/><path d="M241.8,685.5 L248.3,696.5 L235.3,696.5 Z"/><path d="M243.2,686.8 L249.7,697.8 L236.7,697.8 Z"/><path d="M244.6,688.0 L251.1,699.0 L238.1,699.0 Z"/><path d="M246.0,689.1 L252.5,700.1 L239.5,700.1 Z"/><path d="M247.4,690.2 L253.9,701.2 L240.9,701.2 Z"/><path d="M248.8,691.2 L255.3,702.2 L242.3,702.2 Z"/><path d="M250.1,692.2 L256.6,703.2 L243.6,703.2 Z"/><path d="M251.5,693.0 L258.0,704.0 L245.0,704.0 Z"/><path d="M252.9,693.7 L259.4,704.7 L246.4,704.7 Z"/><path d="M254.3,694.5 L260.8,705.5 L247.8,705.5 Z"/><path d="M255.7,695.2 L262.2,706.2 L249.2,706.2 Z"/><path d="M257.0,695.9 L263.5,706.9 L250.5,706.9 Z"/><path d="M258.4,696.5 L264.9,707.5 L251.9,707.5 Z"/><path d="M259.8,697.1 L266.3,708.1 L253.3,708.1 Z"/><path d="M261.2,697.6 L267.7,708.6 L254.7,708.6 Z"/><path d="M262.6,698.0 L269.1,709.0 L256.1,709.0 Z"/><path d="M264.0,698.2 L270.5,709.2 L257.5,709.2 Z"/><path d="M265.3,698.4 L271.8,709.4 L258.8,709.4 Z"/><path d="M266.7,698.6 L273.2,709.6 L260.2,709.6 Z"/><path d="M268.1,698.8 L274.6,709.8 L261.6,709.8 Z"/><path d="M269.5,699.0 L276.0,710.0 L263.0,710.0 Z"/><path d="M270.9,699.2 L277.4,710.2 L264.4,710.2 Z"/><path d="M272.2,699.3 L278.7,710.3 L265.7,710.3 Z"/><path d="M273.6,699.5 L280.1,710.5 L267.1,710.5 Z"/><path d="M275.0,699.6 L281.5,710.6 L268.5,710.6 Z"/><path d="M276.4,699.7 L282.9,710.7 L269.9,710.7 Z"/><path d="M277.8,699.8 L284.3,710.8 L271.3,710.8 Z"/><path d="M279.2,699.8 L285.7,710.8 L272.7,710.8 Z"/><path d="M280.5,699.9 L287.0,710.9 L274.0,710.9 Z"/><path d="M281.9,699.9 L288.4,710.9 L275.4,710.9 Z"/><path d="M283.3,699.9 L289.8,710.9 L276.8,710.9 Z"/><path d="M284.7,699.9 L291.2,710.9 L278.2,710.9 Z"/><path d="M286.1,699.8 L292.6,710.8 L279.6,710.8 Z"/><path d="M287.4,699.7 L293.9,710.7 L280.9,710.7 Z"/><path d="M288.8,699.6 L295.3,710.6 L282.3,710.6 Z"/><path d="M290.2,699.5 L296.7,710.5 L283.7,710.5 Z"/><path d="M291.6,699.4 L298.1,710.4 L285.1,710.4 Z"/><path d="M293.0,699.3 L299.5,710.3 L286.5,710.3 Z"/><path d="M294.4,699.2 L300.9,710.2 L287.9,710.2 Z"/><path d="M295.7,699.1 L302.2,710.1 L289.2,710.1 Z"/><path d="M297.1,699.1 L303.6,710.1 L290.6,710.1 Z"/><path d="M298.5,699.1 L305.0,710.1 L292.0,710.1 Z"/><path d="M299.9,699.1 L306.4,710.1 L293.4,710.1 Z"/><path d="M301.3,699.2 L307.8,710.2 L294.8,710.2 Z"/><path d="M302.6,699.3 L309.1,710.3 L296.1,710.3 Z"/><path d="M304.0,699.5 L310.5,710.5 L297.5,710.5 Z"/><path d="M305.4,699.6 L311.9,710.6 L298.9,710.6 Z"/><path d="M306.8,699.8 L313.3,710.8 L300.3,710.8 Z"/><path d="M308.2,700.0 L314.7,711.0 L301.7,711.0 Z"/><path d="M309.6,700.2 L316.1,711.2 L303.1,711.2 Z"/><path d="M310.9,700.4 L317.4,711.4 L304.4,711.4 Z"/><path d="M312.3,700.6 L318.8,711.6 L305.8,711.6 Z"/><path d="M313.7,700.7 L320.2,711.7 L307.2,711.7 Z"/><path d="M315.1,700.9 L321.6,711.9 L308.6,711.9 Z"/><path d="M316.5,701.0 L323.0,712.0 L310.0,712.0 Z"/><path d="M317.9,701.1 L324.4,712.1 L311.4,712.1 Z"/><path d="M319.2,701.3 L325.7,712.3 L312.7,712.3 Z"/><path d="M320.6,701.4 L327.1,712.4 L314.1,712.4 Z"/><path d="M322.0,701.5 L328.5,712.5 L315.5,712.5 Z"/><path d="M323.4,701.6 L329.9,712.6 L316.9,712.6 Z"/><path d="M324.8,701.7 L331.3,712.7 L318.3,712.7 Z"/><path d="M326.1,701.9 L332.6,712.9 L319.6,712.9 Z"/><path d="M327.5,702.0 L334.0,713.0 L321.0,713.0 Z"/><path d="M328.9,702.1 L335.4,713.1 L322.4,713.1 Z"/><path d="M330.3,702.2 L336.8,713.2 L323.8,713.2 Z"/><path d="M331.7,702.4 L338.2,713.4 L325.2,713.4 Z"/><path d="M333.1,702.6 L339.6,713.6 L326.6,713.6 Z"/><path d="M334.4,702.7 L340.9,713.7 L327.9,713.7 Z"/><path d="M335.8,702.9 L342.3,713.9 L329.3,713.9 Z"/><path d="M337.2,703.1 L343.7,714.1 L330.7,714.1 Z"/><path d="M338.6,703.3 L345.1,714.3 L332.1,714.3 Z"/><path d="M340.0,703.4 L346.5,714.4 L333.5,714.4 Z"/><path d="M341.3,703.6 L347.8,714.6 L334.8,714.6 Z"/><path d="M342.7,703.7 L349.2,714.7 L336.2,714.7 Z"/><path d="M344.1,703.8 L350.6,714.8 L337.6,714.8 Z"/><path d="M345.5,703.9 L352.0,714.9 L339.0,714.9 Z"/><path d="M346.9,704.0 L353.4,715.0 L340.4,715.0 Z"/><path d="M348.3,704.0 L354.8,715.0 L341.8,715.0 Z"/><path d="M349.6,704.1 L356.1,715.1 L343.1,715.1 Z"/><path d="M351.0,704.2 L357.5,715.2 L344.5,715.2 Z"/><path d="M352.4,704.2 L358.9,715.2 L345.9,715.2 Z"/><path d="M353.8,704.3 L360.3,715.3 L347.3,715.3 Z"/><path d="M355.2,704.3 L361.7,715.3 L348.7,715.3 Z"/><path d="M356.5,704.4 L363.0,715.4 L350.0,715.4 Z"/><path d="M357.9,704.4 L364.4,715.4 L351.4,715.4 Z"/><path d="M359.3,704.4 L365.8,715.4 L352.8,715.4 Z"/><path d="M360.7,704.4 L367.2,715.4 L354.2,715.4 Z"/><path d="M362.1,704.4 L368.6,715.4 L355.6,715.4 Z"/><path d="M363.5,704.4 L370.0,715.4 L357.0,715.4 Z"/><path d="M364.8,704.3 L371.3,715.3 L358.3,715.3 Z"/><path d="M366.2,704.3 L372.7,715.3 L359.7,715.3 Z"/><path d="M367.6,704.2 L374.1,715.2 L361.1,715.2 Z"/><path d="M369.0,704.1 L375.5,715.1 L362.5,715.1 Z"/><path d="M370.4,704.0 L376.9,715.0 L363.9,715.0 Z"/><path d="M371.7,704.0 L378.2,715.0 L365.2,715.0 Z"/><path d="M373.1,703.9 L379.6,714.9 L366.6,714.9 Z"/><path d="M374.5,703.9 L381.0,714.9 L368.0,714.9 Z"/><path d="M375.9,703.9 L382.4,714.9 L369.4,714.9 Z"/><path d="M377.3,703.9 L383.8,714.9 L370.8,714.9 Z"/><path d="M378.7,703.9 L385.2,714.9 L372.2,714.9 Z"/><path d="M380.0,703.9 L386.5,714.9 L373.5,714.9 Z"/><path d="M381.4,703.9 L387.9,714.9 L374.9,714.9 Z"/><path d="M382.8,703.9 L389.3,714.9 L376.3,714.9 Z"/><path d="M384.2,703.9 L390.7,714.9 L377.7,714.9 Z"/><path d="M385.6,704.0 L392.1,715.0 L379.1,715.0 Z"/><path d="M387.0,704.0 L393.5,715.0 L380.5,715.0 Z"/><path d="M388.3,704.0 L394.8,715.0 L381.8,715.0 Z"/><path d="M389.7,704.0 L396.2,715.0 L383.2,715.0 Z"/><path d="M391.1,704.1 L397.6,715.1 L384.6,715.1 Z"/><path d="M392.5,704.1 L399.0,715.1 L386.0,715.1 Z"/><path d="M393.9,704.1 L400.4,715.1 L387.4,715.1 Z"/><path d="M395.2,704.2 L401.7,715.2 L388.7,715.2 Z"/><path d="M396.6,704.2 L403.1,715.2 L390.1,715.2 Z"/><path d="M398.0,704.3 L404.5,715.3 L391.5,715.3 Z"/><path d="M399.4,704.3 L405.9,715.3 L392.9,715.3 Z"/><path d="M400.8,704.3 L407.3,715.3 L394.3,715.3 Z"/><path d="M402.2,704.4 L408.7,715.4 L395.7,715.4 Z"/><path d="M403.5,704.4 L410.0,715.4 L397.0,715.4 Z"/><path d="M404.9,704.5 L411.4,715.5 L398.4,715.5 Z"/><path d="M406.3,704.5 L412.8,715.5 L399.8,715.5 Z"/><path d="M407.7,704.5 L414.2,715.5 L401.2,715.5 Z"/><path d="M409.1,704.6 L415.6,715.6 L402.6,715.6 Z"/><path d="M410.4,704.6 L416.9,715.6 L403.9,715.6 Z"/><path d="M411.8,704.6 L418.3,715.6 L405.3,715.6 Z"/><path d="M413.2,704.6 L419.7,715.6 L406.7,715.6 Z"/><path d="M414.6,704.7 L421.1,715.7 L408.1,715.7 Z"/><path d="M416.0,704.7 L422.5,715.7 L409.5,715.7 Z"/><path d="M417.4,704.7 L423.9,715.7 L410.9,715.7 Z"/><path d="M418.7,704.7 L425.2,715.7 L412.2,715.7 Z"/><path d="M420.1,704.7 L426.6,715.7 L413.6,715.7 Z"/><path d="M421.5,704.7 L428.0,715.7 L415.0,715.7 Z"/><path d="M422.9,704.7 L429.4,715.7 L416.4,715.7 Z"/><path d="M424.3,704.7 L430.8,715.7 L417.8,715.7 Z"/><path d="M425.6,704.7 L432.1,715.7 L419.1,715.7 Z"/><path d="M427.0,704.7 L433.5,715.7 L420.5,715.7 Z"/><path d="M428.4,704.7 L434.9,715.7 L421.9,715.7 Z"/><path d="M429.8,704.7 L436.3,715.7 L423.3,715.7 Z"/><path d="M431.2,704.7 L437.7,715.7 L424.7,715.7 Z"/><path d="M432.6,704.7 L439.1,715.7 L426.1,715.7 Z"/><path d="M433.9,704.7 L440.4,715.7 L427.4,715.7 Z"/><path d="M435.3,704.7 L441.8,715.7 L428.8,715.7 Z"/><path d="M436.7,704.7 L443.2,715.7 L430.2,715.7 Z"/><path d="M438.1,704.7 L444.6,715.7 L431.6,715.7 Z"/><path d="M439.5,704.7 L446.0,715.7 L433.0,715.7 Z"/><path d="M440.8,704.7 L447.3,715.7 L434.3,715.7 Z"/><path d="M442.2,704.7 L448.7,715.7 L435.7,715.7 Z"/><path d="M443.6,704.7 L450.1,715.7 L437.1,715.7 Z"/><path d="M445.0,704.7 L451.5,715.7 L438.5,715.7 Z"/><path d="M446.4,704.7 L452.9,715.7 L439.9,715.7 Z"/><path d="M447.8,704.7 L454.3,715.7 L441.3,715.7 Z"/><path d="M449.1,704.7 L455.6,715.7 L442.6,715.7 Z"/><path d="M450.5,704.7 L457.0,715.7 L444.0,715.7 Z"/><path d="M451.9,704.7 L458.4,715.7 L445.4,715.7 Z"/><path d="M453.3,704.7 L459.8,715.7 L446.8,715.7 Z"/><path d="M454.7,704.7 L461.2,715.7 L448.2,715.7 Z"/><path d="M456.1,704.7 L462.6,715.7 L449.6,715.7 Z"/><path d="M457.4,704.7 L463.9,715.7 L450.9,715.7 Z"/><path d="M458.8,704.7 L465.3,715.7 L452.3,715.7 Z"/><path d="M460.2,704.7 L466.7,715.7 L453.7,715.7 Z"/><path d="M461.6,704.7 L468.1,715.7 L455.1,715.7 Z"/><path d="M463.0,704.7 L469.5,715.7 L456.5,715.7 Z"/><path d="M464.3,704.7 L470.8,715.7 L457.8,715.7 Z"/><path d="M465.7,704.7 L472.2,715.7 L459.2,715.7 Z"/><path d="M467.1,704.7 L473.6,715.7 L460.6,715.7 Z"/><path d="M468.5,704.7 L475.0,715.7 L462.0,715.7 Z"/><path d="M469.9,704.7 L476.4,715.7 L463.4,715.7 Z"/><path d="M471.3,704.7 L477.8,715.7 L464.8,715.7 Z"/><path d="M472.6,704.7 L479.1,715.7 L466.1,715.7 Z"/><path d="M474.0,704.7 L480.5,715.7 L467.5,715.7 Z"/><path d="M475.4,704.7 L481.9,715.7 L468.9,715.7 Z"/><path d="M476.8,704.7 L483.3,715.7 L470.3,715.7 Z"/><path d="M478.2,704.7 L484.7,715.7 L471.7,715.7 Z"/><path d="M479.5,704.7 L486.0,715.7 L473.0,715.7 Z"/><path d="M480.9,704.7 L487.4,715.7 L474.4,715.7 Z"/><path d="M482.3,704.7 L488.8,715.7 L475.8,715.7 Z"/><path d="M483.7,704.7 L490.2,715.7 L477.2,715.7 Z"/><path d="M485.1,704.7 L491.6,715.7 L478.6,715.7 Z"/><path d="M486.5,704.7 L493.0,715.7 L480.0,715.7 Z"/><path d="M487.8,704.7 L494.3,715.7 L481.3,715.7 Z"/><path d="M489.2,704.7 L495.7,715.7 L482.7,715.7 Z"/><path d="M490.6,704.7 L497.1,715.7 L484.1,715.7 Z"/></g>
<g fill="#000"><circle cx="76.0" cy="715.5" r="3.7"/><circle cx="89.3" cy="714.9" r="3.7"/><circle cx="102.5" cy="714.0" r="3.7"/><circle cx="113.7" cy="708.9" r="3.7"/><circle cx="128.0" cy="706.4" r="3.7"/><circle cx="140.3" cy="703.8" r="3.7"/><circle cx="150.4" cy="693.6" r="3.7"/><circle cx="156.4" cy="680.3" r="3.7"/><circle cx="159.6" cy="665.9" r="3.7"/><circle cx="162.0" cy="652.3" r="3.7"/><circle cx="163.6" cy="638.4" r="3.7"/><circle cx="165.3" cy="624.8" r="3.7"/><circle cx="166.7" cy="610.9" r="3.7"/><circle cx="167.8" cy="597.0" r="3.7"/><circle cx="168.7" cy="583.4" r="3.7"/><circle cx="170.1" cy="568.1" r="3.7"/><circle cx="170.7" cy="554.6" r="3.7"/><circle cx="171.8" cy="540.7" r="3.7"/><circle cx="172.5" cy="527.1" r="3.7"/><circle cx="173.4" cy="512.9" r="3.7"/><circle cx="174.4" cy="499.0" r="3.7"/><circle cx="175.8" cy="485.4" r="3.7"/><circle cx="176.7" cy="471.6" r="3.7"/><circle cx="178.3" cy="458.0" r="3.7"/><circle cx="179.5" cy="443.5" r="3.7"/><circle cx="183.4" cy="433.3" r="3.7"/><circle cx="188.6" cy="446.1" r="3.7"/><circle cx="190.7" cy="460.2" r="3.7"/><circle cx="192.4" cy="474.1" r="3.7"/><circle cx="193.5" cy="488.0" r="3.7"/><circle cx="194.9" cy="501.6" r="3.7"/><circle cx="195.8" cy="515.5" r="3.7"/><circle cx="196.8" cy="529.6" r="3.7"/><circle cx="197.8" cy="543.8" r="3.7"/><circle cx="198.9" cy="557.7" r="3.7"/><circle cx="199.8" cy="571.5" r="3.7"/><circle cx="200.7" cy="585.4" r="3.7"/><circle cx="202.0" cy="599.6" r="3.7"/><circle cx="203.4" cy="614.0" r="3.7"/><circle cx="204.8" cy="627.4" r="3.7"/><circle cx="206.5" cy="641.2" r="3.7"/><circle cx="208.5" cy="654.8" r="3.7"/><circle cx="210.5" cy="668.4" r="3.7"/><circle cx="214.6" cy="681.7" r="3.7"/><circle cx="221.5" cy="693.9" r="3.7"/><circle cx="232.9" cy="703.0" r="3.7"/><circle cx="247.0" cy="704.4" r="3.7"/><circle cx="260.6" cy="704.1" r="3.7"/><circle cx="273.3" cy="708.4" r="3.7"/><circle cx="287.2" cy="712.3" r="3.7"/><circle cx="300.9" cy="713.5" r="3.7"/><circle cx="314.9" cy="713.5" r="3.7"/><circle cx="328.9" cy="713.5" r="3.7"/><circle cx="343.1" cy="713.8" r="3.7"/><circle cx="357.0" cy="714.3" r="3.7"/><circle cx="370.8" cy="714.9" r="3.7"/><circle cx="384.6" cy="714.9" r="3.7"/><circle cx="398.4" cy="714.9" r="3.7"/><circle cx="412.2" cy="714.9" r="3.7"/><circle cx="426.1" cy="714.9" r="3.7"/><circle cx="439.9" cy="714.9" r="3.7"/><circle cx="453.7" cy="714.9" r="3.7"/><circle cx="467.5" cy="714.9" r="3.7"/><circle cx="481.3" cy="714.9" r="3.7"/></g>
</g>
<line x1="214.5" y1="404.7" x2="214.5" y2="716.3" stroke="#000" stroke-width="2.5"/>
<line x1="129.6" y1="418.0" x2="164.0" y2="418.0" stroke="#808000" stroke-width="3.6" stroke-linecap="round"/>
<path d="M110.3,418.0 L129.6,412.9 L129.6,423.1 Z" fill="#808000" stroke="#808000" stroke-width="1.4" stroke-linejoin="round"/>
<line x1="229.8" y1="418.0" x2="385.3" y2="418.0" stroke="#000" stroke-width="3.6" stroke-linecap="round"/>
<path d="M404.8,418.0 L385.3,412.9 L385.3,423.1 Z" fill="#000" stroke="#000" stroke-width="1.4" stroke-linejoin="round"/>
<rect x="304.6" y="446.1" width="170.4" height="147.2" fill="#fff" stroke="#707070" stroke-width="1.2"/>
<g font-family="Liberation Sans, Arial, sans-serif" font-size="16.6" fill="#000">
<text x="320.9" y="473.4">OLED</text>
<text x="367.4" y="494.3">DBR 4 Pairs</text>
<text x="367.4" y="515.1" font-style="italic">Simulation</text>
<text x="320.9" y="536.0">Rhodamin 6G</text>
<text x="367.4" y="556.8">Absorption</text>
<text x="367.4" y="577.7">Emission</text>
</g>
<line x1="319.8" y1="488.7" x2="358.4" y2="488.7" stroke="#0000ff" stroke-width="3.6" stroke-linecap="round"/>
<g fill="#fff" stroke="#0000ff" stroke-width="1.5"><path d="M339.1,481.3 L345.6,492.3 L332.6,492.3 Z"/></g>
<circle cx="320.4" cy="509.5" r="3.6" fill="#000"/>
<circle cx="334.4" cy="509.5" r="3.6" fill="#000"/>
<circle cx="348.4" cy="509.5" r="3.6" fill="#000"/>
<line x1="320.4" y1="551.2" x2="357.8" y2="551.2" stroke="#a0a0a0" stroke-width="4.2" stroke-linecap="round"/>
<circle cx="339.1" cy="572.1" r="4.2" fill="#fff" stroke="#a0a0a0" stroke-width="1"/>
<text x="96.5" y="467.5" font-family="Liberation Serif, serif" font-size="23.5" fill="#000">c</text>
<rect x="76.0" y="404.7" width="414.6" height="311.6" fill="none" stroke="#000" stroke-width="1.8"/>
<path d="M76.0,716.3 v5.0 M89.8,716.3 v3.2 M89.8,404.7 v3.3 M103.6,716.3 v3.2 M103.6,404.7 v3.3 M117.5,716.3 v3.2 M117.5,404.7 v3.3 M131.3,716.3 v3.2 M131.3,404.7 v3.3 M145.1,716.3 v5.0 M145.1,404.7 v5.2 M158.9,716.3 v3.2 M158.9,404.7 v3.3 M172.7,716.3 v3.2 M172.7,404.7 v3.3 M186.6,716.3 v3.2 M186.6,404.7 v3.3 M200.4,716.3 v3.2 M200.4,404.7 v3.3 M214.2,716.3 v5.0 M214.2,404.7 v5.2 M228.0,716.3 v3.2 M228.0,404.7 v3.3 M241.8,716.3 v3.2 M241.8,404.7 v3.3 M255.7,716.3 v3.2 M255.7,404.7 v3.3 M269.5,716.3 v3.2 M269.5,404.7 v3.3 M283.3,716.3 v5.0 M283.3,404.7 v5.2 M297.1,716.3 v3.2 M297.1,404.7 v3.3 M310.9,716.3 v3.2 M310.9,404.7 v3.3 M324.8,716.3 v3.2 M324.8,404.7 v3.3 M338.6,716.3 v3.2 M338.6,404.7 v3.3 M352.4,716.3 v5.0 M352.4,404.7 v5.2 M366.2,716.3 v3.2 M366.2,404.7 v3.3 M380.0,716.3 v3.2 M380.0,404.7 v3.3 M393.9,716.3 v3.2 M393.9,404.7 v3.3 M407.7,716.3 v3.2 M407.7,404.7 v3.3 M421.5,716.3 v5.0 M421.5,404.7 v5.2 M435.3,716.3 v3.2 M435.3,404.7 v3.3 M449.1,716.3 v3.2 M449.1,404.7 v3.3 M463.0,716.3 v3.2 M463.0,404.7 v3.3 M476.8,716.3 v3.2 M476.8,404.7 v3.3 M490.6,716.3 v5.0 M76.0,716.3 h-5.8 M76.0,688.0 h-3.2 M490.6,688.0 h-3.3 M76.0,659.6 h-5.8 M490.6,659.6 h-5.5 M76.0,631.3 h-3.2 M490.6,631.3 h-3.3 M76.0,603.0 h-5.8 M490.6,603.0 h-5.5 M76.0,574.7 h-3.2 M490.6,574.7 h-3.3 M76.0,546.3 h-5.8 M490.6,546.3 h-5.5 M76.0,518.0 h-3.2 M490.6,518.0 h-3.3 M76.0,489.7 h-5.8 M490.6,489.7 h-5.5 M76.0,461.4 h-3.2 M490.6,461.4 h-3.3 M76.0,433.0 h-5.8 M490.6,433.0 h-5.5 M76.0,404.7 h-3.2" stroke="#000" stroke-width="1.5" fill="none"/>
<g font-family="Liberation Sans, Arial, sans-serif" font-size="19.3" fill="#000"><text x="76.0" y="740.3" text-anchor="middle">450</text><text x="145.1" y="740.3" text-anchor="middle">500</text><text x="214.2" y="740.3" text-anchor="middle">550</text><text x="283.3" y="740.3" text-anchor="middle">600</text><text x="352.4" y="740.3" text-anchor="middle">650</text><text x="421.5" y="740.3" text-anchor="middle">700</text><text x="490.6" y="740.3" text-anchor="middle">750</text><text x="67.0" y="722.2" text-anchor="end">0.0</text><text x="67.0" y="665.5" text-anchor="end">0.2</text><text x="67.0" y="608.9" text-anchor="end">0.4</text><text x="67.0" y="552.2" text-anchor="end">0.6</text><text x="67.0" y="495.6" text-anchor="end">0.8</text><text x="67.0" y="438.9" text-anchor="end">1.0</text></g>
<text x="262.3" y="772.0" text-anchor="middle" font-family="Liberation Sans, Arial, sans-serif" font-size="18.6" fill="#000">Wavelength [nm]</text>
<text transform="translate(23.7,540.0) rotate(-90)" text-anchor="middle" font-family="Liberation Sans, Arial, sans-serif" font-size="19.9" fill="#000">Intensity a.u.</text>
<clipPath id="clipd"><rect x="582.4" y="404.7" width="414.20000000000005" height="311.59999999999997"/></clipPath>
<line x1="651.4" y1="404.7" x2="651.4" y2="716.3" stroke="#c8c8c8" stroke-width="1"/>
<line x1="720.5" y1="404.7" x2="720.5" y2="716.3" stroke="#c8c8c8" stroke-width="1"/>
<line x1="789.5" y1="404.7" x2="789.5" y2="716.3" stroke="#c8c8c8" stroke-width="1"/>
<line x1="858.5" y1="404.7" x2="858.5" y2="716.3" stroke="#c8c8c8" stroke-width="1"/>
<line x1="927.6" y1="404.7" x2="927.6" y2="716.3" stroke="#c8c8c8" stroke-width="1"/>
<line x1="582.4" y1="659.6" x2="996.6" y2="659.6" stroke="#c8c8c8" stroke-width="1"/>
<line x1="582.4" y1="603.0" x2="996.6" y2="603.0" stroke="#c8c8c8" stroke-width="1"/>
<line x1="582.4" y1="546.3" x2="996.6" y2="546.3" stroke="#c8c8c8" stroke-width="1"/>
<line x1="582.4" y1="489.7" x2="996.6" y2="489.7" stroke="#c8c8c8" stroke-width="1"/>
<line x1="582.4" y1="433.0" x2="996.6" y2="433.0" stroke="#c8c8c8" stroke-width="1"/>
<g clip-path="url(#clipd)">
<path d="M582.4,708.1 L583.8,707.7 L585.2,707.2 L586.5,706.7 L587.9,706.2 L589.3,705.7 L590.7,705.2 L592.1,704.7 L593.4,704.1 L594.8,703.6 L596.2,703.0 L597.6,702.4 L599.0,701.8 L600.3,701.2 L601.7,700.5 L603.1,699.8 L604.5,699.0 L605.9,698.1 L607.3,697.2 L608.6,696.1 L610.0,694.9 L611.4,693.7 L612.8,692.4 L614.2,690.9 L615.5,689.3 L616.9,687.5 L618.3,685.5 L619.7,683.4 L621.1,681.2 L622.4,678.8 L623.8,676.1 L625.2,673.4 L626.6,670.4 L628.0,667.1 L629.3,663.5 L630.7,659.8 L632.1,656.2 L633.5,652.8 L634.9,649.5 L636.2,646.3 L637.6,643.3 L639.0,640.5 L640.4,638.1 L641.8,636.2 L643.1,634.5 L644.5,633.0 L645.9,631.5 L647.3,629.8 L648.7,628.1 L650.1,626.3 L651.4,624.5 L652.8,622.5 L654.2,620.5 L655.6,618.3 L657.0,615.9 L658.3,613.2 L659.7,609.9 L661.1,606.0 L662.5,601.2 L663.9,595.3 L665.2,588.6 L666.6,581.5 L668.0,573.6 L669.4,564.5 L670.8,554.1 L672.1,543.1 L673.5,532.2 L674.9,521.4 L676.3,510.4 L677.7,499.6 L679.0,489.7 L680.4,480.3 L681.8,471.2 L683.2,462.8 L684.6,455.7 L686.0,449.6 L687.3,444.3 L688.7,440.1 L690.1,436.3 L691.5,433.5 L692.9,433.3 L694.2,435.5 L695.6,438.7 L697.0,443.6 L698.4,450.9 L699.8,460.7 L701.1,476.0 L702.5,491.0 L703.9,504.5 L705.3,518.0 L706.7,532.4 L708.0,546.0 L709.4,555.7 L710.8,566.5 L712.2,580.9 L713.6,597.8 L714.9,616.8 L716.3,631.0 L717.7,642.8 L719.1,653.1 L720.5,662.3 L721.8,670.3 L723.2,677.1 L724.6,683.1 L726.0,688.2 L727.4,692.1 L728.8,695.2 L730.1,697.9 L731.5,700.4 L732.9,702.9 L734.3,705.5 L735.7,707.1 L737.0,708.3 L738.4,709.3 L739.8,710.1 L741.2,710.9 L742.6,711.5 L743.9,712.1 L745.3,712.7 L746.7,713.1 L748.1,713.5 L749.5,713.7 L750.8,713.9 L752.2,714.1 L753.6,714.3 L755.0,714.4 L756.4,714.5 L757.7,714.6 L759.1,714.7 L760.5,714.8 L761.9,714.8 L763.3,714.9 L764.6,715.0 L766.0,715.1 L767.4,715.1 L768.8,715.2 L770.2,715.2 L771.6,715.3 L772.9,715.4 L774.3,715.4 L775.7,715.5 L777.1,715.5 L778.5,715.5 L779.8,715.6 L781.2,715.6 L782.6,715.6 L784.0,715.7 L785.4,715.7 L786.7,715.7 L788.1,715.7 L789.5,715.7 L790.9,715.7 L792.3,715.8 L793.6,715.8 L795.0,715.8 L796.4,715.8 L797.8,715.8 L799.2,715.8 L800.5,715.8 L801.9,715.8 L803.3,715.8 L804.7,715.8 L806.1,715.8 L807.4,715.8 L808.8,715.8 L810.2,715.9 L811.6,715.9 L813.0,715.9 L814.4,715.9 L815.7,715.9 L817.1,715.9 L818.5,715.9 L819.9,715.9 L821.3,715.9 L822.6,715.9 L824.0,715.9 L825.4,715.9 L826.8,715.9 L828.2,715.9 L829.5,716.0 L830.9,716.0 L832.3,716.0 L833.7,716.0 L835.1,716.0 L836.4,716.0 L837.8,716.0 L839.2,716.0 L840.6,716.0 L842.0,716.0 L843.3,716.0 L844.7,716.0 L846.1,716.0 L847.5,716.0 L848.9,716.0 L850.2,716.0 L851.6,716.1 L853.0,716.1 L854.4,716.1 L855.8,716.1 L857.2,716.1 L858.5,716.1 L859.9,716.1 L861.3,716.1 L862.7,716.1 L864.1,716.1 L865.4,716.1 L866.8,716.1 L868.2,716.1 L869.6,716.1 L871.0,716.1 L872.3,716.1 L873.7,716.1 L875.1,716.1 L876.5,716.1 L877.9,716.1 L879.2,716.1 L880.6,716.1 L882.0,716.2 L883.4,716.2 L884.8,716.2 L886.1,716.2 L887.5,716.2 L888.9,716.2 L890.3,716.2 L891.7,716.2 L893.0,716.2 L894.4,716.2 L895.8,716.2 L897.2,716.2 L898.6,716.2 L900.0,716.2 L901.3,716.2 L902.7,716.2 L904.1,716.2 L905.5,716.2 L906.9,716.2 L908.2,716.2 L909.6,716.2 L911.0,716.2 L912.4,716.2 L913.8,716.2 L915.1,716.2 L916.5,716.2 L917.9,716.2 L919.3,716.2 L920.7,716.2 L922.0,716.2 L923.4,716.2 L924.8,716.2 L926.2,716.2 L927.6,716.3 L928.9,716.3 L930.3,716.3 L931.7,716.3 L933.1,716.3 L934.5,716.3 L935.9,716.3 L937.2,716.3 L938.6,716.3 L940.0,716.3 L941.4,716.3 L942.8,716.3 L944.1,716.3 L945.5,716.3 L946.9,716.3 L948.3,716.3 L949.7,716.3 L951.0,716.3 L952.4,716.3 L953.8,716.3 L955.2,716.3 L956.6,716.3 L957.9,716.3 L959.3,716.3 L960.7,716.3 L962.1,716.3 L963.5,716.3 L964.8,716.3 L966.2,716.3 L967.6,716.3 L969.0,716.3 L970.4,716.3 L971.7,716.3 L973.1,716.3 L974.5,716.3 L975.9,716.3 L977.3,716.3 L978.7,716.3 L980.0,716.3 L981.4,716.3 L982.8,716.3 L984.2,716.3 L985.6,716.3 L986.9,716.3 L988.3,716.3 L989.7,716.3 L991.1,716.3 L992.5,716.3 L993.8,716.3 L995.2,716.3 L996.6,716.3" fill="none" stroke="#a0a0a0" stroke-width="4" stroke-linejoin="round"/>
<g fill="#fff" stroke="#a0a0a0" stroke-width="1"><circle cx="633.5" cy="715.2" r="4.4"/><circle cx="635.0" cy="715.2" r="4.4"/><circle cx="636.5" cy="715.2" r="4.4"/><circle cx="638.0" cy="715.2" r="4.4"/><circle cx="639.6" cy="715.2" r="4.4"/><circle cx="641.1" cy="715.2" r="4.4"/><circle cx="642.6" cy="715.2" r="4.4"/><circle cx="644.1" cy="715.2" r="4.4"/><circle cx="645.6" cy="715.2" r="4.4"/><circle cx="647.2" cy="715.2" r="4.4"/><circle cx="648.7" cy="715.1" r="4.4"/><circle cx="650.2" cy="715.1" r="4.4"/><circle cx="651.7" cy="715.0" r="4.4"/><circle cx="653.2" cy="714.9" r="4.4"/><circle cx="654.7" cy="714.8" r="4.4"/><circle cx="656.3" cy="714.7" r="4.4"/><circle cx="657.8" cy="714.6" r="4.4"/><circle cx="659.3" cy="714.5" r="4.4"/><circle cx="660.8" cy="714.3" r="4.4"/><circle cx="662.3" cy="713.9" r="4.4"/><circle cx="663.9" cy="713.5" r="4.4"/><circle cx="665.4" cy="712.9" r="4.4"/><circle cx="666.9" cy="712.2" r="4.4"/><circle cx="668.4" cy="711.4" r="4.4"/><circle cx="669.9" cy="710.2" r="4.4"/><circle cx="671.5" cy="708.8" r="4.4"/><circle cx="673.0" cy="707.1" r="4.4"/><circle cx="674.5" cy="705.0" r="4.4"/><circle cx="676.0" cy="702.4" r="4.4"/><circle cx="677.5" cy="699.1" r="4.4"/><circle cx="679.0" cy="694.9" r="4.4"/><circle cx="680.6" cy="688.5" r="4.4"/><circle cx="682.1" cy="680.8" r="4.4"/><circle cx="683.6" cy="671.1" r="4.4"/><circle cx="685.1" cy="662.2" r="4.4"/><circle cx="686.6" cy="654.2" r="4.4"/><circle cx="688.2" cy="645.0" r="4.4"/><circle cx="689.7" cy="634.3" r="4.4"/><circle cx="691.2" cy="622.8" r="4.4"/><circle cx="692.7" cy="610.8" r="4.4"/><circle cx="694.2" cy="597.9" r="4.4"/><circle cx="695.8" cy="583.8" r="4.4"/><circle cx="697.3" cy="568.8" r="4.4"/><circle cx="698.8" cy="553.4" r="4.4"/><circle cx="700.3" cy="540.9" r="4.4"/><circle cx="701.8" cy="529.6" r="4.4"/><circle cx="703.3" cy="518.0" r="4.4"/><circle cx="704.9" cy="506.3" r="4.4"/><circle cx="706.4" cy="496.0" r="4.4"/><circle cx="707.9" cy="487.0" r="4.4"/><circle cx="709.4" cy="478.7" r="4.4"/><circle cx="710.9" cy="470.6" r="4.4"/><circle cx="712.5" cy="462.5" r="4.4"/><circle cx="714.0" cy="455.0" r="4.4"/><circle cx="715.5" cy="449.2" r="4.4"/><circle cx="717.0" cy="444.1" r="4.4"/><circle cx="718.5" cy="439.9" r="4.4"/><circle cx="720.1" cy="437.2" r="4.4"/><circle cx="721.6" cy="435.2" r="4.4"/><circle cx="723.1" cy="433.6" r="4.4"/><circle cx="724.6" cy="433.0" r="4.4"/><circle cx="726.1" cy="433.3" r="4.4"/><circle cx="727.6" cy="433.9" r="4.4"/><circle cx="729.2" cy="434.8" r="4.4"/><circle cx="730.7" cy="436.7" r="4.4"/><circle cx="732.2" cy="440.3" r="4.4"/><circle cx="733.7" cy="444.3" r="4.4"/><circle cx="735.2" cy="447.8" r="4.4"/><circle cx="736.8" cy="451.6" r="4.4"/><circle cx="738.3" cy="455.9" r="4.4"/><circle cx="739.8" cy="461.0" r="4.4"/><circle cx="741.3" cy="466.4" r="4.4"/><circle cx="742.8" cy="471.9" r="4.4"/><circle cx="744.4" cy="477.5" r="4.4"/><circle cx="745.9" cy="483.4" r="4.4"/><circle cx="747.4" cy="489.5" r="4.4"/><circle cx="748.9" cy="496.4" r="4.4"/><circle cx="750.4" cy="504.5" r="4.4"/><circle cx="751.9" cy="512.7" r="4.4"/><circle cx="753.5" cy="519.8" r="4.4"/><circle cx="755.0" cy="525.3" r="4.4"/><circle cx="756.5" cy="530.3" r="4.4"/><circle cx="758.0" cy="534.8" r="4.4"/><circle cx="759.5" cy="539.0" r="4.4"/><circle cx="761.1" cy="542.9" r="4.4"/><circle cx="762.6" cy="546.6" r="4.4"/><circle cx="764.1" cy="550.2" r="4.4"/><circle cx="765.6" cy="553.7" r="4.4"/><circle cx="767.1" cy="556.9" r="4.4"/><circle cx="768.7" cy="560.0" r="4.4"/><circle cx="770.2" cy="563.0" r="4.4"/><circle cx="771.7" cy="565.9" r="4.4"/><circle cx="773.2" cy="568.8" r="4.4"/><circle cx="774.7" cy="571.6" r="4.4"/><circle cx="776.2" cy="574.5" r="4.4"/><circle cx="777.8" cy="577.3" r="4.4"/><circle cx="779.3" cy="580.0" r="4.4"/><circle cx="780.8" cy="582.6" r="4.4"/><circle cx="782.3" cy="585.1" r="4.4"/><circle cx="783.8" cy="587.6" r="4.4"/><circle cx="785.4" cy="590.2" r="4.4"/><circle cx="786.9" cy="592.9" r="4.4"/><circle cx="788.4" cy="595.7" r="4.4"/><circle cx="789.9" cy="598.7" r="4.4"/><circle cx="791.4" cy="602.1" r="4.4"/><circle cx="793.0" cy="605.7" r="4.4"/><circle cx="794.5" cy="609.7" r="4.4"/><circle cx="796.0" cy="613.8" r="4.4"/><circle cx="797.5" cy="617.9" r="4.4"/><circle cx="799.0" cy="622.0" r="4.4"/><circle cx="800.5" cy="625.8" r="4.4"/><circle cx="802.1" cy="629.4" r="4.4"/><circle cx="803.6" cy="633.0" r="4.4"/><circle cx="805.1" cy="636.5" r="4.4"/><circle cx="806.6" cy="640.1" r="4.4"/><circle cx="808.1" cy="643.5" r="4.4"/><circle cx="809.7" cy="646.9" r="4.4"/><circle cx="811.2" cy="650.2" r="4.4"/><circle cx="812.7" cy="653.2" r="4.4"/><circle cx="814.2" cy="656.1" r="4.4"/><circle cx="815.7" cy="658.7" r="4.4"/><circle cx="817.3" cy="661.1" r="4.4"/><circle cx="818.8" cy="663.4" r="4.4"/><circle cx="820.3" cy="665.5" r="4.4"/><circle cx="821.8" cy="667.6" r="4.4"/><circle cx="823.3" cy="669.6" r="4.4"/><circle cx="824.8" cy="671.5" r="4.4"/><circle cx="826.4" cy="673.3" r="4.4"/><circle cx="827.9" cy="675.1" r="4.4"/><circle cx="829.4" cy="676.7" r="4.4"/><circle cx="830.9" cy="678.3" r="4.4"/><circle cx="832.4" cy="679.7" r="4.4"/><circle cx="834.0" cy="681.1" r="4.4"/><circle cx="835.5" cy="682.4" r="4.4"/><circle cx="837.0" cy="683.6" r="4.4"/><circle cx="838.5" cy="684.8" r="4.4"/><circle cx="840.0" cy="685.9" r="4.4"/><circle cx="841.6" cy="687.0" r="4.4"/><circle cx="843.1" cy="688.1" r="4.4"/><circle cx="844.6" cy="689.1" r="4.4"/><circle cx="846.1" cy="690.1" r="4.4"/><circle cx="847.6" cy="691.1" r="4.4"/><circle cx="849.1" cy="692.0" r="4.4"/><circle cx="850.7" cy="692.9" r="4.4"/><circle cx="852.2" cy="693.7" r="4.4"/><circle cx="853.7" cy="694.5" r="4.4"/><circle cx="855.2" cy="695.3" r="4.4"/><circle cx="856.7" cy="696.1" r="4.4"/><circle cx="858.3" cy="696.8" r="4.4"/><circle cx="859.8" cy="697.5" r="4.4"/><circle cx="861.3" cy="698.1" r="4.4"/><circle cx="862.8" cy="698.7" r="4.4"/><circle cx="864.3" cy="699.3" r="4.4"/><circle cx="865.9" cy="699.9" r="4.4"/><circle cx="867.4" cy="700.5" r="4.4"/><circle cx="868.9" cy="701.1" r="4.4"/><circle cx="870.4" cy="701.6" r="4.4"/><circle cx="871.9" cy="702.2" r="4.4"/><circle cx="873.4" cy="702.7" r="4.4"/><circle cx="875.0" cy="703.2" r="4.4"/><circle cx="876.5" cy="703.7" r="4.4"/><circle cx="878.0" cy="704.2" r="4.4"/><circle cx="879.5" cy="704.6" r="4.4"/><circle cx="881.0" cy="705.1" r="4.4"/><circle cx="882.6" cy="705.5" r="4.4"/><circle cx="884.1" cy="705.9" r="4.4"/><circle cx="885.6" cy="706.2" r="4.4"/><circle cx="887.1" cy="706.6" r="4.4"/><circle cx="888.6" cy="706.9" r="4.4"/><circle cx="890.2" cy="707.2" r="4.4"/><circle cx="891.7" cy="707.5" r="4.4"/><circle cx="893.2" cy="707.8" r="4.4"/><circle cx="894.7" cy="708.0" r="4.4"/><circle cx="896.2" cy="708.2" r="4.4"/><circle cx="897.7" cy="708.4" r="4.4"/><circle cx="899.3" cy="708.6" r="4.4"/><circle cx="900.8" cy="708.8" r="4.4"/><circle cx="902.3" cy="709.0" r="4.4"/><circle cx="903.8" cy="709.2" r="4.4"/><circle cx="905.3" cy="709.4" r="4.4"/><circle cx="906.9" cy="709.6" r="4.4"/><circle cx="908.4" cy="709.7" r="4.4"/><circle cx="909.9" cy="709.9" r="4.4"/><circle cx="911.4" cy="710.1" r="4.4"/><circle cx="912.9" cy="710.2" r="4.4"/><circle cx="914.5" cy="710.4" r="4.4"/><circle cx="916.0" cy="710.5" r="4.4"/><circle cx="917.5" cy="710.6" r="4.4"/><circle cx="919.0" cy="710.8" r="4.4"/><circle cx="920.5" cy="710.9" r="4.4"/><circle cx="922.0" cy="711.0" r="4.4"/><circle cx="923.6" cy="711.1" r="4.4"/><circle cx="925.1" cy="711.2" r="4.4"/><circle cx="926.6" cy="711.3" r="4.4"/><circle cx="928.1" cy="711.4" r="4.4"/><circle cx="929.6" cy="711.5" r="4.4"/><circle cx="931.2" cy="711.6" r="4.4"/><circle cx="932.7" cy="711.7" r="4.4"/><circle cx="934.2" cy="711.7" r="4.4"/><circle cx="935.7" cy="711.8" r="4.4"/><circle cx="937.2" cy="711.9" r="4.4"/><circle cx="938.8" cy="712.0" r="4.4"/><circle cx="940.3" cy="712.1" r="4.4"/><circle cx="941.8" cy="712.2" r="4.4"/><circle cx="943.3" cy="712.2" r="4.4"/><circle cx="944.8" cy="712.3" r="4.4"/><circle cx="946.3" cy="712.4" r="4.4"/><circle cx="947.9" cy="712.5" r="4.4"/><circle cx="949.4" cy="712.6" r="4.4"/><circle cx="950.9" cy="712.6" r="4.4"/><circle cx="952.4" cy="712.7" r="4.4"/><circle cx="953.9" cy="712.8" r="4.4"/><circle cx="955.5" cy="712.9" r="4.4"/><circle cx="957.0" cy="712.9" r="4.4"/><circle cx="958.5" cy="713.0" r="4.4"/><circle cx="960.0" cy="713.1" r="4.4"/><circle cx="961.5" cy="713.1" r="4.4"/><circle cx="963.0" cy="713.2" r="4.4"/><circle cx="964.6" cy="713.3" r="4.4"/><circle cx="966.1" cy="713.3" r="4.4"/><circle cx="967.6" cy="713.4" r="4.4"/><circle cx="969.1" cy="713.4" r="4.4"/><circle cx="970.6" cy="713.5" r="4.4"/><circle cx="972.2" cy="713.6" r="4.4"/><circle cx="973.7" cy="713.6" r="4.4"/><circle cx="975.2" cy="713.7" r="4.4"/><circle cx="976.7" cy="713.7" r="4.4"/><circle cx="978.2" cy="713.7" r="4.4"/><circle cx="979.8" cy="713.8" r="4.4"/><circle cx="981.3" cy="713.8" r="4.4"/><circle cx="982.8" cy="713.9" r="4.4"/><circle cx="984.3" cy="713.9" r="4.4"/><circle cx="985.8" cy="713.9" r="4.4"/><circle cx="987.3" cy="713.9" r="4.4"/><circle cx="988.9" cy="714.0" r="4.4"/><circle cx="990.4" cy="714.0" r="4.4"/><circle cx="991.9" cy="714.0" r="4.4"/><circle cx="993.4" cy="714.0" r="4.4"/><circle cx="994.9" cy="714.0" r="4.4"/><circle cx="996.5" cy="714.0" r="4.4"/></g>
<path d="M582.4,712.1 L582.7,712.1 L583.1,712.1 L583.4,712.1 L583.8,712.1 L584.1,712.1 L584.5,712.1 L584.8,712.1 L585.2,712.1 L585.5,712.1 L585.9,712.1 L586.2,712.1 L586.5,712.1 L586.9,712.1 L587.2,712.1 L587.6,712.1 L587.9,712.1 L588.3,712.1 L588.6,712.1 L589.0,712.1 L589.3,712.1 L589.6,712.1 L590.0,712.1 L590.3,712.1 L590.7,712.1 L591.0,712.1 L591.4,712.1 L591.7,712.1 L592.1,712.1 L592.4,712.1 L592.8,712.1 L593.1,712.1 L593.4,712.1 L593.8,712.1 L594.1,712.1 L594.5,712.1 L594.8,712.1 L595.2,712.1 L595.5,712.1 L595.9,712.1 L596.2,712.1 L596.6,712.1 L596.9,712.1 L597.2,712.1 L597.6,712.1 L597.9,712.1 L598.3,712.1 L598.6,712.1 L599.0,712.1 L599.3,712.1 L599.7,712.1 L600.0,712.1 L600.3,712.1 L600.7,712.1 L601.0,712.1 L601.4,712.1 L601.7,712.1 L602.1,712.1 L602.4,712.1 L602.8,712.1 L603.1,712.1 L603.5,712.1 L603.8,712.1 L604.1,712.1 L604.5,712.1 L604.8,712.1 L605.2,712.1 L605.5,712.1 L605.9,712.1 L606.2,712.1 L606.6,712.1 L606.9,712.1 L607.3,712.1 L607.6,712.1 L607.9,712.1 L608.3,712.1 L608.6,712.1 L609.0,712.1 L609.3,712.1 L609.7,712.1 L610.0,712.1 L610.4,712.1 L610.7,712.1 L611.0,712.1 L611.4,712.1 L611.7,712.1 L612.1,712.1 L612.4,712.1 L612.8,712.1 L613.1,712.1 L613.5,712.1 L613.8,712.1 L614.2,712.1 L614.5,712.1 L614.8,712.1 L615.2,712.1 L615.5,712.1 L615.9,712.1 L616.2,712.1 L616.6,712.1 L616.9,712.1 L617.3,712.1 L617.6,712.1 L618.0,712.1 L618.3,712.1 L618.6,712.1 L619.0,712.1 L619.3,712.1 L619.7,712.1 L620.0,712.1 L620.4,712.1 L620.7,712.1 L621.1,712.1 L621.4,712.1 L621.7,712.1 L622.1,712.1 L622.4,712.1 L622.8,712.1 L623.1,712.1 L623.5,712.1 L623.8,712.1 L624.2,712.1 L624.5,712.0 L624.9,712.0 L625.2,712.0 L625.5,712.0 L625.9,712.0 L626.2,712.0 L626.6,712.0 L626.9,712.0 L627.3,712.0 L627.6,712.0 L628.0,712.0 L628.3,712.0 L628.7,712.0 L629.0,712.0 L629.3,712.0 L629.7,712.0 L630.0,712.0 L630.4,712.0 L630.7,712.0 L631.1,711.9 L631.4,711.9 L631.8,711.9 L632.1,711.9 L632.4,711.9 L632.8,711.9 L633.1,711.9 L633.5,711.9 L633.8,711.8 L634.2,711.8 L634.5,711.8 L634.9,711.8 L635.2,711.8 L635.6,711.8 L635.9,711.8 L636.2,711.7 L636.6,711.7 L636.9,711.7 L637.3,711.7 L637.6,711.7 L638.0,711.6 L638.3,711.6 L638.7,711.6 L639.0,711.6 L639.4,711.6 L639.7,711.5 L640.0,711.5 L640.4,711.5 L640.7,711.5 L641.1,711.5 L641.4,711.4 L641.8,711.4 L642.1,711.4 L642.5,711.4 L642.8,711.3 L643.1,711.3 L643.5,711.3 L643.8,711.3 L644.2,711.2 L644.5,711.2 L644.9,711.2 L645.2,711.1 L645.6,711.1 L645.9,711.1 L646.3,711.0 L646.6,711.0 L646.9,710.9 L647.3,710.8 L647.6,710.8 L648.0,710.7 L648.3,710.6 L648.7,710.5 L649.0,710.4 L649.4,710.3 L649.7,710.2 L650.1,710.1 L650.4,710.0 L650.7,709.9 L651.1,709.8 L651.4,709.7 L651.8,709.6 L652.1,709.4 L652.5,709.3 L652.8,709.2 L653.2,709.0 L653.5,708.9 L653.8,708.7 L654.2,708.5 L654.5,708.3 L654.9,708.0 L655.2,707.7 L655.6,707.4 L655.9,707.0 L656.3,706.7 L656.6,706.3 L657.0,705.9 L657.3,705.5 L657.6,705.0 L658.0,704.6 L658.3,704.1 L658.7,703.6 L659.0,703.1 L659.4,702.6 L659.7,702.0 L660.1,701.5 L660.4,700.9 L660.8,700.4 L661.1,699.7 L661.4,699.0 L661.8,698.3 L662.1,697.5 L662.5,696.7 L662.8,695.8 L663.2,694.8 L663.5,693.9 L663.9,692.9 L664.2,691.9 L664.5,690.9 L664.9,689.9 L665.2,688.8 L665.6,687.7 L665.9,686.6 L666.3,685.4 L666.6,684.1 L667.0,682.8 L667.3,681.5 L667.7,680.0 L668.0,678.6 L668.3,677.0 L668.7,675.4 L669.0,673.6 L669.4,671.7 L669.7,669.7 L670.1,667.5 L670.4,665.1 L670.8,662.6 L671.1,659.7 L671.5,656.7 L671.8,653.0 L672.1,649.1 L672.5,645.0 L672.8,641.1 L673.2,637.4 L673.5,633.7 L673.9,629.8 L674.2,625.6 L674.6,621.1 L674.9,616.3 L675.2,611.6 L675.6,607.2 L675.9,603.3 L676.3,599.4 L676.6,595.3 L677.0,590.4 L677.3,584.4 L677.7,578.3 L678.0,573.6 L678.4,570.2 L678.7,567.4 L679.0,564.6 L679.4,561.3 L679.7,556.7 L680.1,551.1 L680.4,545.1 L680.8,539.7 L681.1,534.6 L681.5,529.7 L681.8,525.0 L682.2,520.8 L682.5,517.1 L682.8,513.8 L683.2,510.5 L683.5,507.1 L683.9,503.2 L684.2,499.2 L684.6,495.6 L684.9,492.6 L685.3,490.0 L685.6,487.4 L686.0,484.6 L686.3,481.5 L686.6,478.1 L687.0,474.6 L687.3,471.0 L687.7,467.4 L688.0,463.7 L688.4,460.1 L688.7,456.5 L689.1,452.6 L689.4,448.9 L689.7,446.0 L690.1,443.8 L690.4,441.8 L690.8,440.0 L691.1,438.5 L691.5,437.2 L691.8,436.3 L692.2,435.6 L692.5,435.1 L692.9,434.6 L693.2,434.2 L693.5,433.8 L693.9,433.5 L694.2,433.2 L694.6,433.1 L694.9,433.0 L695.3,433.1 L695.6,433.4 L696.0,433.8 L696.3,434.4 L696.7,435.1 L697.0,436.0 L697.3,437.0 L697.7,438.1 L698.0,439.3 L698.4,440.9 L698.7,443.7 L699.1,447.3 L699.4,451.8 L699.8,456.8 L700.1,464.1 L700.4,473.8 L700.8,483.7 L701.1,492.2 L701.5,500.5 L701.8,508.9 L702.2,518.5 L702.5,528.4 L702.9,537.0 L703.2,543.4 L703.6,548.8 L703.9,553.6 L704.2,558.1 L704.6,562.9 L704.9,568.1 L705.3,574.2 L705.6,580.6 L706.0,586.5 L706.3,591.4 L706.7,595.5 L707.0,599.2 L707.4,602.6 L707.7,605.7 L708.0,608.7 L708.4,611.5 L708.7,614.0 L709.1,616.4 L709.4,618.6 L709.8,620.8 L710.1,623.1 L710.5,625.6 L710.8,628.2 L711.1,630.9 L711.5,633.7 L711.8,636.5 L712.2,639.3 L712.5,642.1 L712.9,644.8 L713.2,647.5 L713.6,650.2 L713.9,653.0 L714.3,655.7 L714.6,658.5 L714.9,661.5 L715.3,664.6 L715.6,667.7 L716.0,670.6 L716.3,673.2 L716.7,675.4 L717.0,677.4 L717.4,679.4 L717.7,681.1 L718.1,682.7 L718.4,683.9 L718.7,684.8 L719.1,685.7 L719.4,686.4 L719.8,687.1 L720.1,687.7 L720.5,688.3 L720.8,688.9 L721.2,689.4 L721.5,689.8 L721.8,690.3 L722.2,690.7 L722.5,691.1 L722.9,691.5 L723.2,691.9 L723.6,692.3 L723.9,692.6 L724.3,693.0 L724.6,693.3 L725.0,693.7 L725.3,694.0 L725.6,694.3 L726.0,694.6 L726.3,694.9 L726.7,695.2 L727.0,695.4 L727.4,695.7 L727.7,695.9 L728.1,696.1 L728.4,696.3 L728.8,696.5 L729.1,696.6 L729.4,696.8 L729.8,696.9 L730.1,697.1 L730.5,697.2 L730.8,697.4 L731.2,697.5 L731.5,697.6 L731.9,697.7 L732.2,697.8 L732.5,697.9 L732.9,698.0 L733.2,698.1 L733.6,698.2 L733.9,698.3 L734.3,698.4 L734.6,698.5 L735.0,698.6 L735.3,698.7 L735.7,698.7 L736.0,698.8 L736.3,698.9 L736.7,698.9 L737.0,699.0 L737.4,699.1 L737.7,699.1 L738.1,699.2 L738.4,699.3 L738.8,699.3 L739.1,699.4 L739.5,699.5 L739.8,699.5 L740.1,699.6 L740.5,699.6 L740.8,699.7 L741.2,699.7 L741.5,699.8 L741.9,699.8 L742.2,699.9 L742.6,699.9 L742.9,700.0 L743.2,700.0 L743.6,700.1 L743.9,700.1 L744.3,700.2 L744.6,700.2 L745.0,700.3 L745.3,700.3 L745.7,700.4 L746.0,700.4 L746.4,700.4 L746.7,700.5 L747.0,700.5 L747.4,700.6 L747.7,700.6 L748.1,700.6 L748.4,700.7 L748.8,700.7 L749.1,700.8 L749.5,700.8 L749.8,700.8 L750.2,700.9 L750.5,700.9 L750.8,701.0 L751.2,701.0 L751.5,701.0 L751.9,701.1 L752.2,701.1 L752.6,701.1 L752.9,701.2 L753.3,701.2 L753.6,701.3 L753.9,701.3 L754.3,701.3 L754.6,701.4 L755.0,701.4 L755.3,701.4 L755.7,701.5 L756.0,701.5 L756.4,701.5 L756.7,701.6 L757.1,701.6 L757.4,701.6 L757.7,701.7 L758.1,701.7 L758.4,701.7 L758.8,701.8 L759.1,701.8 L759.5,701.8 L759.8,701.9 L760.2,701.9 L760.5,701.9 L760.9,702.0 L761.2,702.0 L761.5,702.0 L761.9,702.0 L762.2,702.1 L762.6,702.1 L762.9,702.1 L763.3,702.2 L763.6,702.2 L764.0,702.2 L764.3,702.2 L764.6,702.3 L765.0,702.3 L765.3,702.3 L765.7,702.3 L766.0,702.4 L766.4,702.4 L766.7,702.4 L767.1,702.4 L767.4,702.5 L767.8,702.5 L768.1,702.5 L768.4,702.5 L768.8,702.6 L769.1,702.6 L769.5,702.6 L769.8,702.6 L770.2,702.7 L770.5,702.7 L770.9,702.7 L771.2,702.7 L771.6,702.8 L771.9,702.8 L772.2,702.8 L772.6,702.8 L772.9,702.9 L773.3,702.9 L773.6,702.9 L774.0,702.9 L774.3,703.0 L774.7,703.0 L775.0,703.0 L775.3,703.0 L775.7,703.0 L776.0,703.1 L776.4,703.1 L776.7,703.1 L777.1,703.1 L777.4,703.1 L777.8,703.2 L778.1,703.2 L778.5,703.2 L778.8,703.2 L779.1,703.2 L779.5,703.2 L779.8,703.2 L780.2,703.2 L780.5,703.2 L780.9,703.3 L781.2,703.3 L781.6,703.3 L781.9,703.3 L782.3,703.3 L782.6,703.3 L782.9,703.3 L783.3,703.3 L783.6,703.3 L784.0,703.2 L784.3,703.2 L784.7,703.2 L785.0,703.2 L785.4,703.2 L785.7,703.2 L786.0,703.2 L786.4,703.1 L786.7,703.1 L787.1,703.1 L787.4,703.1 L787.8,703.0 L788.1,703.0 L788.5,703.0 L788.8,703.0 L789.2,702.9 L789.5,702.9 L789.8,702.9 L790.2,702.9 L790.5,702.8 L790.9,702.8 L791.2,702.8 L791.6,702.7 L791.9,702.7 L792.3,702.7 L792.6,702.7 L793.0,702.6 L793.3,702.6 L793.6,702.6 L794.0,702.6 L794.3,702.5 L794.7,702.5 L795.0,702.5 L795.4,702.5 L795.7,702.5 L796.1,702.5 L796.4,702.4 L796.7,702.4 L797.1,702.4 L797.4,702.4 L797.8,702.4 L798.1,702.4 L798.5,702.4 L798.8,702.4 L799.2,702.4 L799.5,702.5 L799.9,702.5 L800.2,702.5 L800.5,702.5 L800.9,702.5 L801.2,702.6 L801.6,702.6 L801.9,702.6 L802.3,702.7 L802.6,702.7 L803.0,702.7 L803.3,702.8 L803.7,702.8 L804.0,702.9 L804.3,702.9 L804.7,703.0 L805.0,703.0 L805.4,703.1 L805.7,703.1 L806.1,703.2 L806.4,703.3 L806.8,703.3 L807.1,703.4 L807.4,703.5 L807.8,703.5 L808.1,703.6 L808.5,703.7 L808.8,703.7 L809.2,703.8 L809.5,703.9 L809.9,704.0 L810.2,704.0 L810.6,704.1 L810.9,704.2 L811.2,704.3 L811.6,704.4 L811.9,704.5 L812.3,704.7 L812.6,704.8 L813.0,705.0 L813.3,705.1 L813.7,705.3 L814.0,705.5 L814.4,705.7 L814.7,705.9 L815.0,706.1 L815.4,706.3 L815.7,706.5 L816.1,706.7 L816.4,706.9 L816.8,707.1 L817.1,707.3 L817.5,707.5 L817.8,707.7 L818.1,707.8 L818.5,708.0 L818.8,708.2 L819.2,708.3 L819.5,708.5 L819.9,708.6 L820.2,708.7 L820.6,708.8 L820.9,709.0 L821.3,709.1 L821.6,709.2 L821.9,709.3 L822.3,709.5 L822.6,709.6 L823.0,709.7 L823.3,709.8 L823.7,709.9 L824.0,710.0 L824.4,710.1 L824.7,710.3 L825.1,710.4 L825.4,710.5 L825.7,710.6 L826.1,710.6 L826.4,710.7 L826.8,710.8 L827.1,710.9 L827.5,710.9 L827.8,711.0 L828.2,711.1 L828.5,711.1 L828.8,711.2 L829.2,711.2 L829.5,711.2 L829.9,711.2 L830.2,711.3 L830.6,711.3 L830.9,711.3 L831.3,711.3 L831.6,711.3 L832.0,711.4 L832.3,711.4 L832.6,711.4 L833.0,711.4 L833.3,711.4 L833.7,711.4 L834.0,711.4 L834.4,711.5 L834.7,711.5 L835.1,711.5 L835.4,711.5 L835.8,711.5 L836.1,711.5 L836.4,711.5 L836.8,711.5 L837.1,711.6 L837.5,711.6 L837.8,711.6 L838.2,711.6 L838.5,711.6 L838.9,711.6 L839.2,711.6 L839.5,711.6 L839.9,711.6 L840.2,711.6 L840.6,711.6 L840.9,711.7 L841.3,711.7 L841.6,711.7 L842.0,711.7 L842.3,711.7 L842.7,711.7 L843.0,711.7 L843.3,711.7 L843.7,711.7 L844.0,711.7 L844.4,711.7 L844.7,711.8 L845.1,711.8 L845.4,711.8 L845.8,711.8 L846.1,711.8 L846.5,711.8 L846.8,711.8 L847.1,711.8 L847.5,711.8 L847.8,711.9 L848.2,711.9 L848.5,711.9 L848.9,711.9 L849.2,711.9 L849.6,711.9 L849.9,711.9 L850.2,711.9 L850.6,712.0 L850.9,712.0 L851.3,712.0 L851.6,712.0 L852.0,712.0 L852.3,712.0 L852.7,712.0 L853.0,712.0 L853.4,712.0 L853.7,712.1 L854.0,712.1 L854.4,712.1 L854.7,712.1 L855.1,712.1 L855.4,712.1 L855.8,712.1 L856.1,712.1 L856.5,712.2 L856.8,712.2 L857.2,712.2 L857.5,712.2 L857.8,712.2 L858.2,712.2 L858.5,712.2 L858.9,712.2 L859.2,712.2 L859.6,712.3 L859.9,712.3 L860.3,712.3 L860.6,712.3 L860.9,712.3 L861.3,712.3 L861.6,712.3 L862.0,712.3 L862.3,712.3 L862.7,712.4 L863.0,712.4 L863.4,712.4 L863.7,712.4 L864.1,712.4 L864.4,712.4 L864.7,712.4 L865.1,712.4 L865.4,712.4 L865.8,712.4 L866.1,712.5 L866.5,712.5 L866.8,712.5 L867.2,712.5 L867.5,712.5 L867.9,712.5 L868.2,712.5 L868.5,712.5 L868.9,712.5 L869.2,712.5 L869.6,712.5 L869.9,712.5 L870.3,712.5 L870.6,712.5 L871.0,712.6 L871.3,712.6 L871.6,712.6 L872.0,712.6 L872.3,712.6 L872.7,712.6 L873.0,712.6 L873.4,712.6 L873.7,712.6 L874.1,712.6 L874.4,712.6 L874.8,712.6 L875.1,712.6 L875.4,712.6 L875.8,712.6 L876.1,712.6 L876.5,712.6 L876.8,712.6 L877.2,712.6 L877.5,712.6 L877.9,712.6 L878.2,712.6 L878.6,712.6 L878.9,712.6 L879.2,712.6 L879.6,712.6 L879.9,712.6 L880.3,712.6 L880.6,712.6 L881.0,712.6 L881.3,712.6 L881.7,712.6 L882.0,712.6 L882.3,712.6 L882.7,712.6 L883.0,712.7 L883.4,712.7 L883.7,712.7 L884.1,712.7 L884.4,712.7 L884.8,712.7 L885.1,712.7 L885.5,712.7 L885.8,712.7 L886.1,712.7 L886.5,712.7 L886.8,712.7 L887.2,712.7 L887.5,712.7 L887.9,712.7 L888.2,712.7 L888.6,712.7 L888.9,712.7 L889.3,712.7 L889.6,712.7 L889.9,712.7 L890.3,712.7 L890.6,712.7 L891.0,712.7 L891.3,712.7 L891.7,712.7 L892.0,712.7 L892.4,712.7 L892.7,712.7 L893.0,712.7 L893.4,712.7 L893.7,712.7 L894.1,712.7 L894.4,712.7 L894.8,712.7 L895.1,712.7 L895.5,712.7 L895.8,712.7 L896.2,712.7 L896.5,712.7 L896.8,712.7 L897.2,712.7 L897.5,712.7 L897.9,712.7 L898.2,712.7 L898.6,712.7 L898.9,712.7 L899.3,712.7 L899.6,712.7 L900.0,712.7 L900.3,712.7 L900.6,712.7 L901.0,712.7 L901.3,712.7 L901.7,712.7 L902.0,712.7 L902.4,712.7 L902.7,712.7 L903.1,712.7 L903.4,712.7 L903.8,712.7 L904.1,712.7 L904.4,712.7 L904.8,712.7 L905.1,712.7 L905.5,712.7 L905.8,712.7 L906.2,712.7 L906.5,712.7 L906.9,712.8 L907.2,712.8 L907.5,712.8 L907.9,712.8 L908.2,712.8 L908.6,712.8 L908.9,712.8 L909.3,712.8 L909.6,712.8 L910.0,712.8 L910.3,712.8 L910.7,712.8 L911.0,712.8 L911.3,712.8 L911.7,712.8 L912.0,712.8 L912.4,712.8 L912.7,712.8 L913.1,712.8 L913.4,712.8 L913.8,712.8 L914.1,712.8 L914.5,712.8 L914.8,712.8 L915.1,712.8 L915.5,712.8 L915.8,712.8 L916.2,712.8 L916.5,712.8 L916.9,712.8 L917.2,712.8 L917.6,712.8 L917.9,712.8 L918.2,712.8 L918.6,712.8 L918.9,712.8 L919.3,712.8 L919.6,712.8 L920.0,712.8 L920.3,712.8 L920.7,712.8 L921.0,712.8 L921.4,712.8 L921.7,712.8 L922.0,712.8 L922.4,712.8 L922.7,712.8 L923.1,712.8 L923.4,712.8 L923.8,712.8 L924.1,712.8 L924.5,712.8 L924.8,712.8 L925.2,712.8 L925.5,712.8 L925.8,712.8 L926.2,712.8 L926.5,712.8 L926.9,712.8 L927.2,712.8 L927.6,712.8 L927.9,712.8 L928.3,712.8 L928.6,712.8 L928.9,712.8 L929.3,712.8 L929.6,712.8 L930.0,712.8 L930.3,712.8 L930.7,712.8 L931.0,712.8 L931.4,712.8 L931.7,712.8 L932.1,712.8 L932.4,712.8 L932.7,712.8 L933.1,712.8 L933.4,712.8 L933.8,712.8 L934.1,712.8 L934.5,712.8 L934.8,712.8 L935.2,712.8 L935.5,712.8 L935.9,712.8 L936.2,712.8 L936.5,712.8 L936.9,712.8 L937.2,712.8 L937.6,712.8 L937.9,712.8 L938.3,712.8 L938.6,712.8 L939.0,712.8 L939.3,712.8 L939.6,712.8 L940.0,712.8 L940.3,712.8 L940.7,712.8 L941.0,712.8 L941.4,712.8 L941.7,712.8 L942.1,712.8 L942.4,712.8 L942.8,712.9 L943.1,712.9 L943.4,712.9 L943.8,712.9 L944.1,712.9 L944.5,712.9 L944.8,712.9 L945.2,712.9 L945.5,712.9 L945.9,712.9 L946.2,712.9 L946.6,712.9 L946.9,712.9 L947.2,712.9 L947.6,712.9 L947.9,712.9 L948.3,712.9 L948.6,712.9 L949.0,712.9 L949.3,712.9 L949.7,712.9 L950.0,712.9 L950.3,712.9 L950.7,712.9 L951.0,712.9 L951.4,712.9 L951.7,712.9 L952.1,712.9 L952.4,712.9 L952.8,712.9 L953.1,712.9 L953.5,712.9 L953.8,712.9 L954.1,712.9 L954.5,712.9 L954.8,712.9 L955.2,712.9 L955.5,712.9 L955.9,712.9 L956.2,712.9 L956.6,712.9 L956.9,712.9 L957.3,712.9 L957.6,712.9 L957.9,712.9 L958.3,712.9 L958.6,712.9 L959.0,712.9 L959.3,712.9 L959.7,712.9 L960.0,712.9 L960.4,712.9 L960.7,712.9 L961.0,712.9 L961.4,712.9 L961.7,712.9 L962.1,712.9 L962.4,712.9 L962.8,712.9 L963.1,712.9 L963.5,712.9 L963.8,712.9 L964.2,712.9 L964.5,712.9 L964.8,712.9 L965.2,712.9 L965.5,712.9 L965.9,712.9 L966.2,712.9 L966.6,712.9 L966.9,712.9 L967.3,712.9 L967.6,712.9 L968.0,712.9 L968.3,712.9 L968.6,712.9 L969.0,712.9 L969.3,712.9 L969.7,712.9 L970.0,712.9 L970.4,712.9 L970.7,712.9 L971.1,712.9 L971.4,712.9 L971.7,712.9 L972.1,712.9 L972.4,712.9 L972.8,712.9 L973.1,712.9 L973.5,712.9 L973.8,712.9 L974.2,712.9 L974.5,712.9 L974.9,712.9 L975.2,712.9 L975.5,712.9 L975.9,712.9 L976.2,712.9 L976.6,712.9 L976.9,712.9 L977.3,712.9 L977.6,712.9 L978.0,712.9 L978.3,712.9 L978.7,712.9 L979.0,712.9 L979.3,712.9 L979.7,712.9 L980.0,712.9 L980.4,712.9 L980.7,712.9 L981.1,712.9 L981.4,712.9 L981.8,712.9 L982.1,712.9 L982.4,712.9 L982.8,712.9 L983.1,712.9 L983.5,712.9 L983.8,712.9 L984.2,712.9 L984.5,712.9 L984.9,712.9 L985.2,712.9 L985.6,712.9 L985.9,712.9 L986.2,712.9 L986.6,712.9 L986.9,712.9 L987.3,712.9 L987.6,712.9 L988.0,712.9 L988.3,712.9 L988.7,712.9 L989.0,712.9 L989.4,712.9 L989.7,712.9 L990.0,712.9 L990.4,712.9 L990.7,712.9 L991.1,712.9 L991.4,712.9 L991.8,712.9 L992.1,712.9 L992.5,712.9 L992.8,712.9 L993.1,712.9 L993.5,712.9 L993.8,712.9 L994.2,712.9 L994.5,712.9 L994.9,712.9 L995.2,712.9 L995.6,712.9 L995.9,712.9 L996.3,712.9 L996.6,712.9" fill="none" stroke="#008000" stroke-width="3.0" stroke-linejoin="round"/>
<g fill="#fff" stroke="#008000" stroke-width="1.5"><path d="M582.4,719.4 L588.9,708.4 L575.9,708.4 Z"/><path d="M583.6,719.4 L590.1,708.4 L577.1,708.4 Z"/><path d="M584.9,719.4 L591.4,708.4 L578.4,708.4 Z"/><path d="M586.1,719.4 L592.6,708.4 L579.6,708.4 Z"/><path d="M587.4,719.4 L593.9,708.4 L580.9,708.4 Z"/><path d="M588.6,719.4 L595.1,708.4 L582.1,708.4 Z"/><path d="M589.9,719.4 L596.4,708.4 L583.4,708.4 Z"/><path d="M591.1,719.4 L597.6,708.4 L584.6,708.4 Z"/><path d="M592.3,719.4 L598.8,708.4 L585.8,708.4 Z"/><path d="M593.6,719.4 L600.1,708.4 L587.1,708.4 Z"/><path d="M594.8,719.4 L601.3,708.4 L588.3,708.4 Z"/><path d="M596.1,719.4 L602.6,708.4 L589.6,708.4 Z"/><path d="M597.3,719.4 L603.8,708.4 L590.8,708.4 Z"/><path d="M598.6,719.4 L605.1,708.4 L592.1,708.4 Z"/><path d="M599.8,719.4 L606.3,708.4 L593.3,708.4 Z"/><path d="M601.0,719.4 L607.5,708.4 L594.5,708.4 Z"/><path d="M602.3,719.4 L608.8,708.4 L595.8,708.4 Z"/><path d="M603.5,719.4 L610.0,708.4 L597.0,708.4 Z"/><path d="M604.8,719.4 L611.3,708.4 L598.3,708.4 Z"/><path d="M606.0,719.4 L612.5,708.4 L599.5,708.4 Z"/><path d="M607.3,719.4 L613.8,708.4 L600.8,708.4 Z"/><path d="M608.5,719.4 L615.0,708.4 L602.0,708.4 Z"/><path d="M609.7,719.4 L616.2,708.4 L603.2,708.4 Z"/><path d="M611.0,719.4 L617.5,708.4 L604.5,708.4 Z"/><path d="M612.2,719.4 L618.7,708.4 L605.7,708.4 Z"/><path d="M613.5,719.4 L620.0,708.4 L607.0,708.4 Z"/><path d="M614.7,719.4 L621.2,708.4 L608.2,708.4 Z"/><path d="M616.0,719.4 L622.5,708.4 L609.5,708.4 Z"/><path d="M617.2,719.4 L623.7,708.4 L610.7,708.4 Z"/><path d="M618.4,719.4 L624.9,708.4 L611.9,708.4 Z"/><path d="M619.7,719.4 L626.2,708.4 L613.2,708.4 Z"/><path d="M620.9,719.4 L627.4,708.4 L614.4,708.4 Z"/><path d="M622.2,719.4 L628.7,708.4 L615.7,708.4 Z"/><path d="M623.4,719.4 L629.9,708.4 L616.9,708.4 Z"/><path d="M624.6,719.4 L631.1,708.4 L618.1,708.4 Z"/><path d="M625.9,719.4 L632.4,708.4 L619.4,708.4 Z"/><path d="M627.1,719.4 L633.6,708.4 L620.6,708.4 Z"/><path d="M628.4,719.3 L634.9,708.3 L621.9,708.3 Z"/><path d="M629.6,719.3 L636.1,708.3 L623.1,708.3 Z"/><path d="M630.9,719.3 L637.4,708.3 L624.4,708.3 Z"/><path d="M632.1,719.2 L638.6,708.2 L625.6,708.2 Z"/><path d="M633.3,719.2 L639.8,708.2 L626.8,708.2 Z"/><path d="M634.6,719.1 L641.1,708.1 L628.1,708.1 Z"/><path d="M635.8,719.1 L642.3,708.1 L629.3,708.1 Z"/><path d="M637.1,719.0 L643.6,708.0 L630.6,708.0 Z"/><path d="M638.3,719.0 L644.8,708.0 L631.8,708.0 Z"/><path d="M639.6,718.9 L646.1,707.9 L633.1,707.9 Z"/><path d="M640.8,718.8 L647.3,707.8 L634.3,707.8 Z"/><path d="M642.0,718.7 L648.5,707.7 L635.5,707.7 Z"/><path d="M643.3,718.6 L649.8,707.6 L636.8,707.6 Z"/><path d="M644.5,718.5 L651.0,707.5 L638.0,707.5 Z"/><path d="M645.8,718.4 L652.3,707.4 L639.3,707.4 Z"/><path d="M647.0,718.2 L653.5,707.2 L640.5,707.2 Z"/><path d="M648.3,718.0 L654.8,707.0 L641.8,707.0 Z"/><path d="M649.5,717.6 L656.0,706.6 L643.0,706.6 Z"/><path d="M650.7,717.3 L657.2,706.3 L644.2,706.3 Z"/><path d="M652.0,716.8 L658.5,705.8 L645.5,705.8 Z"/><path d="M653.2,716.3 L659.7,705.3 L646.7,705.3 Z"/><path d="M654.5,715.6 L661.0,704.6 L648.0,704.6 Z"/><path d="M655.7,714.6 L662.2,703.6 L649.2,703.6 Z"/><path d="M657.0,713.2 L663.5,702.2 L650.5,702.2 Z"/><path d="M658.2,711.6 L664.7,700.6 L651.7,700.6 Z"/><path d="M659.4,709.8 L665.9,698.8 L652.9,698.8 Z"/><path d="M660.7,707.8 L667.2,696.8 L654.2,696.8 Z"/><path d="M661.9,705.3 L668.4,694.3 L655.4,694.3 Z"/><path d="M663.2,702.2 L669.7,691.2 L656.7,691.2 Z"/><path d="M664.4,698.7 L670.9,687.7 L657.9,687.7 Z"/><path d="M665.7,694.8 L672.2,683.8 L659.2,683.8 Z"/><path d="M666.9,690.4 L673.4,679.4 L660.4,679.4 Z"/><path d="M668.1,685.3 L674.6,674.3 L661.6,674.3 Z"/><path d="M669.4,679.1 L675.9,668.1 L662.9,668.1 Z"/><path d="M670.6,671.0 L677.1,660.0 L664.1,660.0 Z"/><path d="M671.9,659.6 L678.4,648.6 L665.4,648.6 Z"/><path d="M673.1,645.5 L679.6,634.5 L666.6,634.5 Z"/><path d="M674.4,631.2 L680.9,620.2 L667.9,620.2 Z"/><path d="M675.6,614.6 L682.1,603.6 L669.1,603.6 Z"/><path d="M676.8,599.8 L683.3,588.8 L670.3,588.8 Z"/><path d="M678.1,580.2 L684.6,569.2 L671.6,569.2 Z"/><path d="M679.3,569.4 L685.8,558.4 L672.8,558.4 Z"/><path d="M680.6,550.1 L687.1,539.1 L674.1,539.1 Z"/><path d="M681.8,532.4 L688.3,521.4 L675.3,521.4 Z"/><path d="M683.1,519.2 L689.6,508.2 L676.6,508.2 Z"/><path d="M684.3,505.8 L690.8,494.8 L677.8,494.8 Z"/><path d="M685.5,495.3 L692.0,484.3 L679.0,484.3 Z"/><path d="M686.8,484.0 L693.3,473.0 L680.3,473.0 Z"/><path d="M688.0,471.1 L694.5,460.1 L681.5,460.1 Z"/><path d="M689.3,457.7 L695.8,446.7 L682.8,446.7 Z"/><path d="M690.5,448.8 L697.0,437.8 L684.0,437.8 Z"/><path d="M691.7,443.8 L698.2,432.8 L685.2,432.8 Z"/><path d="M693.0,441.8 L699.5,430.8 L686.5,430.8 Z"/><path d="M694.2,440.6 L700.7,429.6 L687.7,429.6 Z"/><path d="M695.5,440.6 L702.0,429.6 L689.0,429.6 Z"/><path d="M696.7,442.6 L703.2,431.6 L690.2,431.6 Z"/><path d="M698.0,446.4 L704.5,435.4 L691.5,435.4 Z"/><path d="M699.2,456.4 L705.7,445.4 L692.7,445.4 Z"/><path d="M700.4,481.1 L706.9,470.1 L693.9,470.1 Z"/><path d="M701.7,512.8 L708.2,501.8 L695.2,501.8 Z"/><path d="M702.9,545.7 L709.4,534.7 L696.4,534.7 Z"/><path d="M704.2,564.6 L710.7,553.6 L697.7,553.6 Z"/><path d="M705.4,584.1 L711.9,573.1 L698.9,573.1 Z"/><path d="M706.7,602.8 L713.2,591.8 L700.2,591.8 Z"/><path d="M707.9,614.8 L714.4,603.8 L701.4,603.8 Z"/><path d="M709.1,624.2 L715.6,613.2 L702.6,613.2 Z"/><path d="M710.4,632.4 L716.9,621.4 L703.9,621.4 Z"/><path d="M711.6,642.2 L718.1,631.2 L705.1,631.2 Z"/><path d="M712.9,652.1 L719.4,641.1 L706.4,641.1 Z"/><path d="M714.1,661.9 L720.6,650.9 L707.6,650.9 Z"/><path d="M715.4,672.6 L721.9,661.6 L708.9,661.6 Z"/><path d="M716.6,682.3 L723.1,671.3 L710.1,671.3 Z"/><path d="M717.8,689.1 L724.3,678.1 L711.3,678.1 Z"/><path d="M719.1,693.0 L725.6,682.0 L712.6,682.0 Z"/><path d="M720.3,695.4 L726.8,684.4 L713.8,684.4 Z"/><path d="M721.6,697.2 L728.1,686.2 L715.1,686.2 Z"/><path d="M722.8,698.7 L729.3,687.7 L716.3,687.7 Z"/><path d="M724.1,700.1 L730.6,689.1 L717.6,689.1 Z"/><path d="M725.3,701.3 L731.8,690.3 L718.8,690.3 Z"/><path d="M726.5,702.4 L733.0,691.4 L720.0,691.4 Z"/><path d="M727.8,703.3 L734.3,692.3 L721.3,692.3 Z"/><path d="M729.0,703.9 L735.5,692.9 L722.5,692.9 Z"/><path d="M730.3,704.5 L736.8,693.5 L723.8,693.5 Z"/><path d="M731.5,704.9 L738.0,693.9 L725.0,693.9 Z"/><path d="M732.8,705.3 L739.3,694.3 L726.3,694.3 Z"/><path d="M734.0,705.7 L740.5,694.7 L727.5,694.7 Z"/><path d="M735.2,706.0 L741.7,695.0 L728.7,695.0 Z"/><path d="M736.5,706.2 L743.0,695.2 L730.0,695.2 Z"/><path d="M737.7,706.5 L744.2,695.5 L731.2,695.5 Z"/><path d="M739.0,706.7 L745.5,695.7 L732.5,695.7 Z"/><path d="M740.2,706.9 L746.7,695.9 L733.7,695.9 Z"/><path d="M741.5,707.1 L748.0,696.1 L735.0,696.1 Z"/><path d="M742.7,707.3 L749.2,696.3 L736.2,696.3 Z"/><path d="M743.9,707.5 L750.4,696.5 L737.4,696.5 Z"/><path d="M745.2,707.6 L751.7,696.6 L738.7,696.6 Z"/><path d="M746.4,707.8 L752.9,696.8 L739.9,696.8 Z"/><path d="M747.7,707.9 L754.2,696.9 L741.2,696.9 Z"/><path d="M748.9,708.1 L755.4,697.1 L742.4,697.1 Z"/><path d="M750.2,708.2 L756.7,697.2 L743.7,697.2 Z"/><path d="M751.4,708.4 L757.9,697.4 L744.9,697.4 Z"/><path d="M752.6,708.5 L759.1,697.5 L746.1,697.5 Z"/><path d="M753.9,708.6 L760.4,697.6 L747.4,697.6 Z"/><path d="M755.1,708.8 L761.6,697.8 L748.6,697.8 Z"/><path d="M756.4,708.9 L762.9,697.9 L749.9,697.9 Z"/><path d="M757.6,709.0 L764.1,698.0 L751.1,698.0 Z"/><path d="M758.8,709.1 L765.3,698.1 L752.3,698.1 Z"/><path d="M760.1,709.2 L766.6,698.2 L753.6,698.2 Z"/><path d="M761.3,709.3 L767.8,698.3 L754.8,698.3 Z"/><path d="M762.6,709.4 L769.1,698.4 L756.1,698.4 Z"/><path d="M763.8,709.5 L770.3,698.5 L757.3,698.5 Z"/><path d="M765.1,709.6 L771.6,698.6 L758.6,698.6 Z"/><path d="M766.3,709.7 L772.8,698.7 L759.8,698.7 Z"/><path d="M767.5,709.8 L774.0,698.8 L761.0,698.8 Z"/><path d="M768.8,709.9 L775.3,698.9 L762.3,698.9 Z"/><path d="M770.0,710.0 L776.5,699.0 L763.5,699.0 Z"/><path d="M771.3,710.1 L777.8,699.1 L764.8,699.1 Z"/><path d="M772.5,710.2 L779.0,699.2 L766.0,699.2 Z"/><path d="M773.8,710.3 L780.3,699.3 L767.3,699.3 Z"/><path d="M775.0,710.3 L781.5,699.3 L768.5,699.3 Z"/><path d="M776.2,710.4 L782.7,699.4 L769.7,699.4 Z"/><path d="M777.5,710.5 L784.0,699.5 L771.0,699.5 Z"/><path d="M778.7,710.5 L785.2,699.5 L772.2,699.5 Z"/><path d="M780.0,710.6 L786.5,699.6 L773.5,699.6 Z"/><path d="M781.2,710.6 L787.7,699.6 L774.7,699.6 Z"/><path d="M782.5,710.6 L789.0,699.6 L776.0,699.6 Z"/><path d="M783.7,710.6 L790.2,699.6 L777.2,699.6 Z"/><path d="M784.9,710.5 L791.4,699.5 L778.4,699.5 Z"/><path d="M786.2,710.5 L792.7,699.5 L779.7,699.5 Z"/><path d="M787.4,710.4 L793.9,699.4 L780.9,699.4 Z"/><path d="M788.7,710.3 L795.2,699.3 L782.2,699.3 Z"/><path d="M789.9,710.2 L796.4,699.2 L783.4,699.2 Z"/><path d="M791.2,710.1 L797.7,699.1 L784.7,699.1 Z"/><path d="M792.4,710.0 L798.9,699.0 L785.9,699.0 Z"/><path d="M793.6,709.9 L800.1,698.9 L787.1,698.9 Z"/><path d="M794.9,709.8 L801.4,698.8 L788.4,698.8 Z"/><path d="M796.1,709.8 L802.6,698.8 L789.6,698.8 Z"/><path d="M797.4,709.8 L803.9,698.8 L790.9,698.8 Z"/><path d="M798.6,709.8 L805.1,698.8 L792.1,698.8 Z"/><path d="M799.9,709.8 L806.4,698.8 L793.4,698.8 Z"/><path d="M801.1,709.9 L807.6,698.9 L794.6,698.9 Z"/><path d="M802.3,710.0 L808.8,699.0 L795.8,699.0 Z"/><path d="M803.6,710.2 L810.1,699.2 L797.1,699.2 Z"/><path d="M804.8,710.3 L811.3,699.3 L798.3,699.3 Z"/><path d="M806.1,710.5 L812.6,699.5 L799.6,699.5 Z"/><path d="M807.3,710.8 L813.8,699.8 L800.8,699.8 Z"/><path d="M808.6,711.0 L815.1,700.0 L802.1,700.0 Z"/><path d="M809.8,711.3 L816.3,700.3 L803.3,700.3 Z"/><path d="M811.0,711.6 L817.5,700.6 L804.5,700.6 Z"/><path d="M812.3,712.0 L818.8,701.0 L805.8,701.0 Z"/><path d="M813.5,712.6 L820.0,701.6 L807.0,701.6 Z"/><path d="M814.8,713.3 L821.3,702.3 L808.3,702.3 Z"/><path d="M816.0,714.0 L822.5,703.0 L809.5,703.0 Z"/><path d="M817.3,714.7 L823.8,703.7 L810.8,703.7 Z"/><path d="M818.5,715.3 L825.0,704.3 L812.0,704.3 Z"/><path d="M819.7,715.9 L826.2,704.9 L813.2,704.9 Z"/><path d="M821.0,716.3 L827.5,705.3 L814.5,705.3 Z"/><path d="M822.2,716.8 L828.7,705.8 L815.7,705.8 Z"/><path d="M823.5,717.2 L830.0,706.2 L817.0,706.2 Z"/><path d="M824.7,717.6 L831.2,706.6 L818.2,706.6 Z"/><path d="M825.9,717.9 L832.4,706.9 L819.4,706.9 Z"/><path d="M827.2,718.2 L833.7,707.2 L820.7,707.2 Z"/><path d="M828.4,718.4 L834.9,707.4 L821.9,707.4 Z"/><path d="M829.7,718.6 L836.2,707.6 L823.2,707.6 Z"/><path d="M830.9,718.6 L837.4,707.6 L824.4,707.6 Z"/><path d="M832.2,718.7 L838.7,707.7 L825.7,707.7 Z"/><path d="M833.4,718.8 L839.9,707.8 L826.9,707.8 Z"/><path d="M834.6,718.8 L841.1,707.8 L828.1,707.8 Z"/><path d="M835.9,718.9 L842.4,707.9 L829.4,707.9 Z"/><path d="M837.1,718.9 L843.6,707.9 L830.6,707.9 Z"/><path d="M838.4,718.9 L844.9,707.9 L831.9,707.9 Z"/><path d="M839.6,719.0 L846.1,708.0 L833.1,708.0 Z"/><path d="M840.9,719.0 L847.4,708.0 L834.4,708.0 Z"/><path d="M842.1,719.0 L848.6,708.0 L835.6,708.0 Z"/><path d="M843.3,719.1 L849.8,708.1 L836.8,708.1 Z"/><path d="M844.6,719.1 L851.1,708.1 L838.1,708.1 Z"/><path d="M845.8,719.1 L852.3,708.1 L839.3,708.1 Z"/><path d="M847.1,719.2 L853.6,708.2 L840.6,708.2 Z"/><path d="M848.3,719.2 L854.8,708.2 L841.8,708.2 Z"/><path d="M849.6,719.3 L856.1,708.3 L843.1,708.3 Z"/><path d="M850.8,719.3 L857.3,708.3 L844.3,708.3 Z"/><path d="M852.0,719.3 L858.5,708.3 L845.5,708.3 Z"/><path d="M853.3,719.4 L859.8,708.4 L846.8,708.4 Z"/><path d="M854.5,719.4 L861.0,708.4 L848.0,708.4 Z"/><path d="M855.8,719.5 L862.3,708.5 L849.3,708.5 Z"/><path d="M857.0,719.5 L863.5,708.5 L850.5,708.5 Z"/><path d="M858.3,719.6 L864.8,708.6 L851.8,708.6 Z"/><path d="M859.5,719.6 L866.0,708.6 L853.0,708.6 Z"/><path d="M860.7,719.6 L867.2,708.6 L854.2,708.6 Z"/><path d="M862.0,719.7 L868.5,708.7 L855.5,708.7 Z"/><path d="M863.2,719.7 L869.7,708.7 L856.7,708.7 Z"/><path d="M864.5,719.7 L871.0,708.7 L858.0,708.7 Z"/><path d="M865.7,719.8 L872.2,708.8 L859.2,708.8 Z"/><path d="M867.0,719.8 L873.5,708.8 L860.5,708.8 Z"/><path d="M868.2,719.8 L874.7,708.8 L861.7,708.8 Z"/><path d="M869.4,719.9 L875.9,708.9 L862.9,708.9 Z"/><path d="M870.7,719.9 L877.2,708.9 L864.2,708.9 Z"/><path d="M871.9,719.9 L878.4,708.9 L865.4,708.9 Z"/><path d="M873.2,719.9 L879.7,708.9 L866.7,708.9 Z"/><path d="M874.4,719.9 L880.9,708.9 L867.9,708.9 Z"/><path d="M875.7,720.0 L882.2,709.0 L869.2,709.0 Z"/><path d="M876.9,720.0 L883.4,709.0 L870.4,709.0 Z"/><path d="M878.1,720.0 L884.6,709.0 L871.6,709.0 Z"/><path d="M879.4,720.0 L885.9,709.0 L872.9,709.0 Z"/><path d="M880.6,720.0 L887.1,709.0 L874.1,709.0 Z"/><path d="M881.9,720.0 L888.4,709.0 L875.4,709.0 Z"/><path d="M883.1,720.0 L889.6,709.0 L876.6,709.0 Z"/><path d="M884.4,720.0 L890.9,709.0 L877.9,709.0 Z"/><path d="M885.6,720.0 L892.1,709.0 L879.1,709.0 Z"/><path d="M886.8,720.0 L893.3,709.0 L880.3,709.0 Z"/><path d="M888.1,720.0 L894.6,709.0 L881.6,709.0 Z"/><path d="M889.3,720.0 L895.8,709.0 L882.8,709.0 Z"/><path d="M890.6,720.0 L897.1,709.0 L884.1,709.0 Z"/><path d="M891.8,720.0 L898.3,709.0 L885.3,709.0 Z"/><path d="M893.0,720.0 L899.5,709.0 L886.5,709.0 Z"/><path d="M894.3,720.0 L900.8,709.0 L887.8,709.0 Z"/><path d="M895.5,720.0 L902.0,709.0 L889.0,709.0 Z"/><path d="M896.8,720.0 L903.3,709.0 L890.3,709.0 Z"/><path d="M898.0,720.1 L904.5,709.1 L891.5,709.1 Z"/><path d="M899.3,720.1 L905.8,709.1 L892.8,709.1 Z"/><path d="M900.5,720.1 L907.0,709.1 L894.0,709.1 Z"/><path d="M901.7,720.1 L908.2,709.1 L895.2,709.1 Z"/><path d="M903.0,720.1 L909.5,709.1 L896.5,709.1 Z"/><path d="M904.2,720.1 L910.7,709.1 L897.7,709.1 Z"/><path d="M905.5,720.1 L912.0,709.1 L899.0,709.1 Z"/><path d="M906.7,720.1 L913.2,709.1 L900.2,709.1 Z"/><path d="M908.0,720.1 L914.5,709.1 L901.5,709.1 Z"/><path d="M909.2,720.1 L915.7,709.1 L902.7,709.1 Z"/><path d="M910.4,720.1 L916.9,709.1 L903.9,709.1 Z"/><path d="M911.7,720.1 L918.2,709.1 L905.2,709.1 Z"/><path d="M912.9,720.1 L919.4,709.1 L906.4,709.1 Z"/><path d="M914.2,720.1 L920.7,709.1 L907.7,709.1 Z"/><path d="M915.4,720.1 L921.9,709.1 L908.9,709.1 Z"/><path d="M916.7,720.1 L923.2,709.1 L910.2,709.1 Z"/><path d="M917.9,720.1 L924.4,709.1 L911.4,709.1 Z"/><path d="M919.1,720.1 L925.6,709.1 L912.6,709.1 Z"/><path d="M920.4,720.1 L926.9,709.1 L913.9,709.1 Z"/><path d="M921.6,720.1 L928.1,709.1 L915.1,709.1 Z"/><path d="M922.9,720.1 L929.4,709.1 L916.4,709.1 Z"/><path d="M924.1,720.1 L930.6,709.1 L917.6,709.1 Z"/><path d="M925.4,720.1 L931.9,709.1 L918.9,709.1 Z"/><path d="M926.6,720.1 L933.1,709.1 L920.1,709.1 Z"/><path d="M927.8,720.2 L934.3,709.2 L921.3,709.2 Z"/><path d="M929.1,720.2 L935.6,709.2 L922.6,709.2 Z"/><path d="M930.3,720.2 L936.8,709.2 L923.8,709.2 Z"/><path d="M931.6,720.2 L938.1,709.2 L925.1,709.2 Z"/><path d="M932.8,720.2 L939.3,709.2 L926.3,709.2 Z"/><path d="M934.1,720.2 L940.6,709.2 L927.6,709.2 Z"/><path d="M935.3,720.2 L941.8,709.2 L928.8,709.2 Z"/><path d="M936.5,720.2 L943.0,709.2 L930.0,709.2 Z"/><path d="M937.8,720.2 L944.3,709.2 L931.3,709.2 Z"/><path d="M939.0,720.2 L945.5,709.2 L932.5,709.2 Z"/><path d="M940.3,720.2 L946.8,709.2 L933.8,709.2 Z"/><path d="M941.5,720.2 L948.0,709.2 L935.0,709.2 Z"/><path d="M942.8,720.2 L949.3,709.2 L936.3,709.2 Z"/><path d="M944.0,720.2 L950.5,709.2 L937.5,709.2 Z"/><path d="M945.2,720.2 L951.7,709.2 L938.7,709.2 Z"/><path d="M946.5,720.2 L953.0,709.2 L940.0,709.2 Z"/><path d="M947.7,720.2 L954.2,709.2 L941.2,709.2 Z"/><path d="M949.0,720.2 L955.5,709.2 L942.5,709.2 Z"/><path d="M950.2,720.2 L956.7,709.2 L943.7,709.2 Z"/><path d="M951.5,720.2 L958.0,709.2 L945.0,709.2 Z"/><path d="M952.7,720.2 L959.2,709.2 L946.2,709.2 Z"/><path d="M953.9,720.2 L960.4,709.2 L947.4,709.2 Z"/><path d="M955.2,720.2 L961.7,709.2 L948.7,709.2 Z"/><path d="M956.4,720.2 L962.9,709.2 L949.9,709.2 Z"/><path d="M957.7,720.2 L964.2,709.2 L951.2,709.2 Z"/><path d="M958.9,720.2 L965.4,709.2 L952.4,709.2 Z"/><path d="M960.2,720.2 L966.7,709.2 L953.7,709.2 Z"/><path d="M961.4,720.2 L967.9,709.2 L954.9,709.2 Z"/><path d="M962.6,720.2 L969.1,709.2 L956.1,709.2 Z"/><path d="M963.9,720.2 L970.4,709.2 L957.4,709.2 Z"/><path d="M965.1,720.2 L971.6,709.2 L958.6,709.2 Z"/><path d="M966.4,720.2 L972.9,709.2 L959.9,709.2 Z"/><path d="M967.6,720.2 L974.1,709.2 L961.1,709.2 Z"/><path d="M968.8,720.2 L975.3,709.2 L962.3,709.2 Z"/><path d="M970.1,720.2 L976.6,709.2 L963.6,709.2 Z"/><path d="M971.3,720.2 L977.8,709.2 L964.8,709.2 Z"/><path d="M972.6,720.2 L979.1,709.2 L966.1,709.2 Z"/><path d="M973.8,720.2 L980.3,709.2 L967.3,709.2 Z"/><path d="M975.1,720.2 L981.6,709.2 L968.6,709.2 Z"/><path d="M976.3,720.2 L982.8,709.2 L969.8,709.2 Z"/><path d="M977.5,720.2 L984.0,709.2 L971.0,709.2 Z"/><path d="M978.8,720.2 L985.3,709.2 L972.3,709.2 Z"/><path d="M980.0,720.2 L986.5,709.2 L973.5,709.2 Z"/><path d="M981.3,720.2 L987.8,709.2 L974.8,709.2 Z"/><path d="M982.5,720.2 L989.0,709.2 L976.0,709.2 Z"/><path d="M983.8,720.2 L990.3,709.2 L977.3,709.2 Z"/><path d="M985.0,720.2 L991.5,709.2 L978.5,709.2 Z"/><path d="M986.2,720.2 L992.7,709.2 L979.7,709.2 Z"/><path d="M987.5,720.2 L994.0,709.2 L981.0,709.2 Z"/><path d="M988.7,720.2 L995.2,709.2 L982.2,709.2 Z"/><path d="M990.0,720.2 L996.5,709.2 L983.5,709.2 Z"/><path d="M991.2,720.2 L997.7,709.2 L984.7,709.2 Z"/><path d="M992.5,720.2 L999.0,709.2 L986.0,709.2 Z"/><path d="M993.7,720.2 L1000.2,709.2 L987.2,709.2 Z"/><path d="M994.9,720.2 L1001.4,709.2 L988.4,709.2 Z"/><path d="M996.2,720.2 L1002.7,709.2 L989.7,709.2 Z"/></g>
<g fill="#000"><circle cx="582.4" cy="715.5" r="3.7"/><circle cx="595.2" cy="714.9" r="3.7"/><circle cx="609.2" cy="714.3" r="3.7"/><circle cx="622.3" cy="709.8" r="3.7"/><circle cx="635.7" cy="708.9" r="3.7"/><circle cx="649.4" cy="708.1" r="3.7"/><circle cx="660.5" cy="701.0" r="3.7"/><circle cx="668.0" cy="688.8" r="3.7"/><circle cx="671.3" cy="675.2" r="3.7"/><circle cx="673.8" cy="661.6" r="3.7"/><circle cx="675.5" cy="647.5" r="3.7"/><circle cx="677.3" cy="633.9" r="3.7"/><circle cx="678.5" cy="619.7" r="3.7"/><circle cx="679.5" cy="605.8" r="3.7"/><circle cx="680.6" cy="591.9" r="3.7"/><circle cx="681.4" cy="577.8" r="3.7"/><circle cx="682.2" cy="563.9" r="3.7"/><circle cx="683.1" cy="549.7" r="3.7"/><circle cx="683.7" cy="535.9" r="3.7"/><circle cx="684.6" cy="521.4" r="3.7"/><circle cx="685.1" cy="507.8" r="3.7"/><circle cx="686.0" cy="493.9" r="3.7"/><circle cx="686.5" cy="480.3" r="3.7"/><circle cx="687.6" cy="465.9" r="3.7"/><circle cx="688.6" cy="452.3" r="3.7"/><circle cx="690.2" cy="438.4" r="3.7"/><circle cx="693.7" cy="440.4" r="3.7"/><circle cx="695.1" cy="454.8" r="3.7"/><circle cx="695.9" cy="468.7" r="3.7"/><circle cx="696.7" cy="482.3" r="3.7"/><circle cx="697.3" cy="496.5" r="3.7"/><circle cx="698.2" cy="510.4" r="3.7"/><circle cx="698.8" cy="524.5" r="3.7"/><circle cx="699.8" cy="538.4" r="3.7"/><circle cx="700.4" cy="552.9" r="3.7"/><circle cx="701.0" cy="566.4" r="3.7"/><circle cx="702.0" cy="580.3" r="3.7"/><circle cx="702.9" cy="594.2" r="3.7"/><circle cx="703.9" cy="608.4" r="3.7"/><circle cx="705.0" cy="622.3" r="3.7"/><circle cx="706.4" cy="636.1" r="3.7"/><circle cx="708.0" cy="649.7" r="3.7"/><circle cx="709.8" cy="663.9" r="3.7"/><circle cx="712.6" cy="677.2" r="3.7"/><circle cx="716.6" cy="689.7" r="3.7"/><circle cx="723.1" cy="699.9" r="3.7"/><circle cx="736.3" cy="707.0" r="3.7"/><circle cx="750.6" cy="707.0" r="3.7"/><circle cx="764.2" cy="704.4" r="3.7"/><circle cx="776.7" cy="707.5" r="3.7"/><circle cx="790.6" cy="710.4" r="3.7"/><circle cx="804.4" cy="710.4" r="3.7"/><circle cx="817.7" cy="709.2" r="3.7"/><circle cx="831.3" cy="713.2" r="3.7"/><circle cx="845.0" cy="714.6" r="3.7"/><circle cx="858.8" cy="714.9" r="3.7"/><circle cx="872.8" cy="714.9" r="3.7"/><circle cx="886.6" cy="714.9" r="3.7"/><circle cx="900.4" cy="714.9" r="3.7"/><circle cx="914.2" cy="714.9" r="3.7"/><circle cx="928.0" cy="714.9" r="3.7"/><circle cx="941.8" cy="714.9" r="3.7"/><circle cx="955.6" cy="714.9" r="3.7"/><circle cx="969.4" cy="714.9" r="3.7"/><circle cx="983.2" cy="714.9" r="3.7"/><circle cx="997.0" cy="714.9" r="3.7"/></g>
</g>
<line x1="720.8" y1="404.7" x2="720.8" y2="716.3" stroke="#000" stroke-width="2.5"/>
<line x1="636.0" y1="418.0" x2="670.4" y2="418.0" stroke="#808000" stroke-width="3.6" stroke-linecap="round"/>
<path d="M616.7,418.0 L636.0,412.9 L636.0,423.1 Z" fill="#808000" stroke="#808000" stroke-width="1.4" stroke-linejoin="round"/>
<line x1="736.2" y1="418.0" x2="891.7" y2="418.0" stroke="#000" stroke-width="3.6" stroke-linecap="round"/>
<path d="M911.2,418.0 L891.7,412.9 L891.7,423.1 Z" fill="#000" stroke="#000" stroke-width="1.4" stroke-linejoin="round"/>
<rect x="813.0" y="444.0" width="170.6" height="147.6" fill="#fff" stroke="#707070" stroke-width="1.2"/>
<g font-family="Liberation Sans, Arial, sans-serif" font-size="16.6" fill="#000">
<text x="829.2" y="471.8">OLED</text>
<text x="876.5" y="492.5">DBR 6 Pairs</text>
<text x="876.5" y="513.2" font-style="italic">Simulation</text>
<text x="829.2" y="533.9">Rhodamin 6G</text>
<text x="876.5" y="554.6">Absorption</text>
<text x="876.5" y="575.3">Emission</text>
</g>
<line x1="827.4" y1="486.9" x2="866.2" y2="486.9" stroke="#008000" stroke-width="3.6" stroke-linecap="round"/>
<g fill="#fff" stroke="#008000" stroke-width="1.5"><path d="M846.8,494.2 L853.3,483.2 L840.3,483.2 Z"/></g>
<circle cx="828.0" cy="507.6" r="3.6" fill="#000"/>
<circle cx="842.0" cy="507.6" r="3.6" fill="#000"/>
<circle cx="856.0" cy="507.6" r="3.6" fill="#000"/>
<line x1="828.0" y1="549.0" x2="865.6" y2="549.0" stroke="#a0a0a0" stroke-width="4.2" stroke-linecap="round"/>
<circle cx="846.8" cy="569.7" r="4.2" fill="#fff" stroke="#a0a0a0" stroke-width="1"/>
<text x="601.5" y="462.5" font-family="Liberation Serif, serif" font-size="23.5" fill="#000">d</text>
<rect x="582.4" y="404.7" width="414.2" height="311.6" fill="none" stroke="#000" stroke-width="1.8"/>
<path d="M582.4,716.3 v5.0 M596.2,716.3 v3.2 M596.2,404.7 v3.3 M610.0,716.3 v3.2 M610.0,404.7 v3.3 M623.8,716.3 v3.2 M623.8,404.7 v3.3 M637.6,716.3 v3.2 M637.6,404.7 v3.3 M651.4,716.3 v5.0 M651.4,404.7 v5.2 M665.2,716.3 v3.2 M665.2,404.7 v3.3 M679.0,716.3 v3.2 M679.0,404.7 v3.3 M692.9,716.3 v3.2 M692.9,404.7 v3.3 M706.7,716.3 v3.2 M706.7,404.7 v3.3 M720.5,716.3 v5.0 M720.5,404.7 v5.2 M734.3,716.3 v3.2 M734.3,404.7 v3.3 M748.1,716.3 v3.2 M748.1,404.7 v3.3 M761.9,716.3 v3.2 M761.9,404.7 v3.3 M775.7,716.3 v3.2 M775.7,404.7 v3.3 M789.5,716.3 v5.0 M789.5,404.7 v5.2 M803.3,716.3 v3.2 M803.3,404.7 v3.3 M817.1,716.3 v3.2 M817.1,404.7 v3.3 M830.9,716.3 v3.2 M830.9,404.7 v3.3 M844.7,716.3 v3.2 M844.7,404.7 v3.3 M858.5,716.3 v5.0 M858.5,404.7 v5.2 M872.3,716.3 v3.2 M872.3,404.7 v3.3 M886.1,716.3 v3.2 M886.1,404.7 v3.3 M900.0,716.3 v3.2 M900.0,404.7 v3.3 M913.8,716.3 v3.2 M913.8,404.7 v3.3 M927.6,716.3 v5.0 M927.6,404.7 v5.2 M941.4,716.3 v3.2 M941.4,404.7 v3.3 M955.2,716.3 v3.2 M955.2,404.7 v3.3 M969.0,716.3 v3.2 M969.0,404.7 v3.3 M982.8,716.3 v3.2 M982.8,404.7 v3.3 M996.6,716.3 v5.0 M582.4,716.3 h-5.8 M582.4,688.0 h-3.2 M996.6,688.0 h-3.3 M582.4,659.6 h-5.8 M996.6,659.6 h-5.5 M582.4,631.3 h-3.2 M996.6,631.3 h-3.3 M582.4,603.0 h-5.8 M996.6,603.0 h-5.5 M582.4,574.7 h-3.2 M996.6,574.7 h-3.3 M582.4,546.3 h-5.8 M996.6,546.3 h-5.5 M582.4,518.0 h-3.2 M996.6,518.0 h-3.3 M582.4,489.7 h-5.8 M996.6,489.7 h-5.5 M582.4,461.4 h-3.2 M996.6,461.4 h-3.3 M582.4,433.0 h-5.8 M996.6,433.0 h-5.5 M582.4,404.7 h-3.2" stroke="#000" stroke-width="1.5" fill="none"/>
<g font-family="Liberation Sans, Arial, sans-serif" font-size="19.3" fill="#000"><text x="582.4" y="740.3" text-anchor="middle">450</text><text x="651.4" y="740.3" text-anchor="middle">500</text><text x="720.5" y="740.3" text-anchor="middle">550</text><text x="789.5" y="740.3" text-anchor="middle">600</text><text x="858.5" y="740.3" text-anchor="middle">650</text><text x="927.6" y="740.3" text-anchor="middle">700</text><text x="996.6" y="740.3" text-anchor="middle">750</text><text x="573.4" y="722.2" text-anchor="end">0.0</text><text x="573.4" y="665.5" text-anchor="end">0.2</text><text x="573.4" y="608.9" text-anchor="end">0.4</text><text x="573.4" y="552.2" text-anchor="end">0.6</text><text x="573.4" y="495.6" text-anchor="end">0.8</text><text x="573.4" y="438.9" text-anchor="end">1.0</text></g>
<text x="775.6" y="772.0" text-anchor="middle" font-family="Liberation Sans, Arial, sans-serif" font-size="18.6" fill="#000">Wavelength [nm]</text>
<text transform="translate(530.1,540.0) rotate(-90)" text-anchor="middle" font-family="Liberation Sans, Arial, sans-serif" font-size="19.9" fill="#000">Intensity a.u.</text>
</svg>
</body></html>
